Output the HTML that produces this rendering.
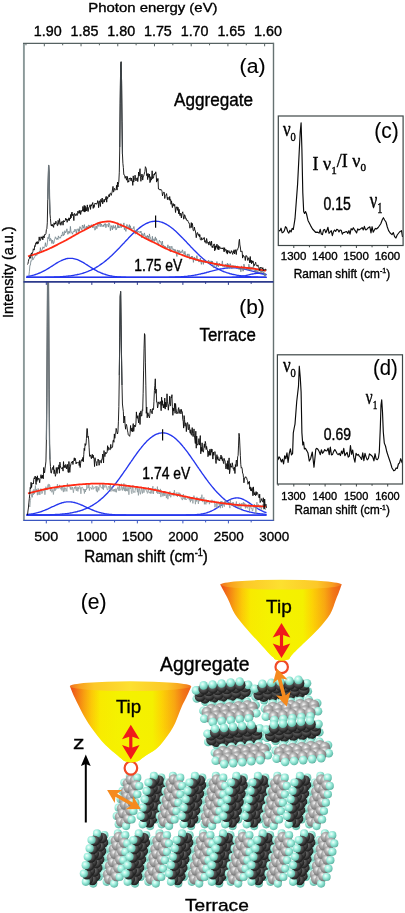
<!DOCTYPE html>
<html><head><meta charset="utf-8"><title>Figure</title>
<style>html,body{margin:0;padding:0;background:#fff;}svg{display:block;}</style></head>
<body><svg width="405" height="913" viewBox="0 0 405 913">
<rect width="405" height="913" fill="#fff"/>
<defs><clipPath id="ca"><rect x="24.4" y="43.5" width="248.9" height="238.2"/></clipPath><clipPath id="cb"><rect x="24.4" y="281.7" width="248.9" height="239.00000000000006"/></clipPath></defs>
<g clip-path="url(#ca)">
<path d="M26.50,277.4 27.50,277.4 28.50,277.4 29.50,277.4 30.50,277.4 31.50,277.4 32.50,277.4 33.50,277.4 34.50,277.4 35.50,277.4 36.50,277.4 37.50,277.4 38.50,277.4 39.50,277.4 40.50,277.4 41.50,277.4 42.50,277.4 43.50,277.4 44.50,277.4 45.50,277.4 46.50,277.4 47.50,277.4 48.50,277.4 49.50,277.4 50.50,277.4 51.50,277.4 52.50,277.4 53.50,277.4 54.50,277.4 55.50,277.4 56.50,277.4 57.50,277.4 58.50,277.4 59.50,277.4 60.50,277.4 61.50,277.4 62.50,277.4 63.50,277.4 64.50,277.4 65.50,277.4 66.50,277.4 67.50,277.4 68.50,277.4 69.50,277.4 70.50,277.4 71.50,277.4 72.50,277.4 73.50,277.4 74.50,277.4 75.50,277.4 76.50,277.4 77.50,277.4 78.50,277.4 79.50,277.4 80.50,277.4 81.50,277.4 82.50,277.4 83.50,277.4 84.50,277.4 85.50,277.4 86.50,277.4 87.50,277.4 88.50,277.4 89.50,277.4 90.50,277.4 91.50,277.4 92.50,277.4 93.50,277.4 94.50,277.4 95.50,277.4 96.50,277.4 97.50,277.4 98.50,277.4 99.50,277.4 100.50,277.4 101.50,277.4 102.50,277.4 103.50,277.4 104.50,277.4 105.50,277.4 106.50,277.4 107.50,277.4 108.50,277.4 109.50,277.4 110.50,277.4 111.50,277.4 112.50,277.4 113.50,277.4 114.50,277.4 115.50,277.4 116.50,277.4 117.50,277.4 118.50,277.4 119.50,277.4 120.50,277.4 121.50,277.4 122.50,277.4 123.50,277.4 124.50,277.4 125.50,277.4 126.50,277.4 127.50,277.4 128.50,277.4 129.50,277.4 130.50,277.4 131.50,277.4 132.50,277.4 133.50,277.4 134.50,277.4 135.50,277.4 136.50,277.4 137.50,277.4 138.50,277.4 139.50,277.4 140.50,277.4 141.50,277.4 142.50,277.4 143.50,277.4 144.50,277.4 145.50,277.4 146.50,277.4 147.50,277.4 148.50,277.4 149.50,277.4 150.50,277.4 151.50,277.4 152.50,277.4 153.50,277.4 154.50,277.4 155.50,277.4 156.50,277.4 157.50,277.4 158.50,277.4 159.50,277.4 160.50,277.4 161.50,277.4 162.50,277.4 163.50,277.4 164.50,277.4 165.50,277.4 166.50,277.4 167.50,277.4 168.50,277.4 169.50,277.4 170.50,277.4 171.50,277.4 172.50,277.4 173.50,277.4 174.50,277.4 175.50,277.4 176.50,277.4 177.50,277.4 178.50,277.4 179.50,277.4 180.50,277.4 181.50,277.4 182.50,277.4 183.50,277.4 184.50,277.4 185.50,277.4 186.50,277.4 187.50,277.4 188.50,277.4 189.50,277.4 190.50,277.4 191.50,277.4 192.50,277.4 193.50,277.4 194.50,277.4 195.50,277.4 196.50,277.4 197.50,277.4 198.50,277.4 199.50,277.4 200.50,277.4 201.50,277.4 202.50,277.4 203.50,277.4 204.50,277.4 205.50,277.4 206.50,277.4 207.50,277.4 208.50,277.4 209.50,277.4 210.50,277.4 211.50,277.4 212.50,277.4 213.50,277.4 214.50,277.4 215.50,277.4 216.50,277.4 217.50,277.4 218.50,277.4 219.50,277.4 220.50,277.4 221.50,277.4 222.50,277.4 223.50,277.4 224.50,277.4 225.50,277.4 226.50,277.4 227.50,277.4 228.50,277.4 229.50,277.4 230.50,277.4 231.50,277.4 232.50,277.4 233.50,277.4 234.50,277.4 235.50,277.4 236.50,277.4 237.50,277.4 238.50,277.4 239.50,277.4 240.50,277.4 241.50,277.4 242.50,277.4 243.50,277.4 244.50,277.4 245.50,277.4 246.50,277.4 247.50,277.4 248.50,277.4 249.50,277.4 250.50,277.4 251.50,277.4 252.50,277.4 253.50,277.4 254.50,277.4 255.50,277.4 256.50,277.4 257.50,277.4 258.50,277.4 259.50,277.4 260.50,277.4 261.50,277.4 262.50,277.4 263.50,277.4 264.50,277.4 265.50,277.4 266.50,277.4" fill="none" stroke="#2436ee" stroke-width="1.4" stroke-linejoin="round" />
<path d="M26.50,276.4 27.50,276.3 28.50,276.1 29.50,276.0 30.50,275.8 31.50,275.6 32.50,275.3 33.50,275.1 34.50,274.8 35.50,274.5 36.50,274.2 37.50,273.8 38.50,273.4 39.50,273.0 40.50,272.6 41.50,272.1 42.50,271.7 43.50,271.1 44.50,270.6 45.50,270.1 46.50,269.5 47.50,268.9 48.50,268.3 49.50,267.7 50.50,267.0 51.50,266.4 52.50,265.8 53.50,265.1 54.50,264.5 55.50,263.8 56.50,263.2 57.50,262.6 58.50,262.0 59.50,261.5 60.50,261.0 61.50,260.5 62.50,260.1 63.50,259.7 64.50,259.3 65.50,259.0 66.50,258.7 67.50,258.5 68.50,258.4 69.50,258.3 70.50,258.3 71.50,258.3 72.50,258.4 73.50,258.6 74.50,258.8 75.50,259.1 76.50,259.4 77.50,259.7 78.50,260.1 79.50,260.6 80.50,261.1 81.50,261.6 82.50,262.2 83.50,262.7 84.50,263.3 85.50,264.0 86.50,264.6 87.50,265.2 88.50,265.9 89.50,266.5 90.50,267.2 91.50,267.8 92.50,268.4 93.50,269.0 94.50,269.6 95.50,270.2 96.50,270.7 97.50,271.3 98.50,271.8 99.50,272.2 100.50,272.7 101.50,273.1 102.50,273.5 103.50,273.9 104.50,274.2 105.50,274.5 106.50,274.8 107.50,275.1 108.50,275.4 109.50,275.6 110.50,275.8 111.50,276.0 112.50,276.2 113.50,276.3 114.50,276.5 115.50,276.6 116.50,276.7 117.50,276.8 118.50,276.9 119.50,276.9 120.50,277.0 121.50,277.1 122.50,277.1 123.50,277.2 124.50,277.2 125.50,277.2 126.50,277.3 127.50,277.3 128.50,277.3 129.50,277.3 130.50,277.3 131.50,277.3 132.50,277.4 133.50,277.4 134.50,277.4 135.50,277.4 136.50,277.4 137.50,277.4 138.50,277.4 139.50,277.4 140.50,277.4 141.50,277.4 142.50,277.4 143.50,277.4 144.50,277.4 145.50,277.4 146.50,277.4 147.50,277.4 148.50,277.4 149.50,277.4 150.50,277.4 151.50,277.4 152.50,277.4 153.50,277.4 154.50,277.4 155.50,277.4 156.50,277.4 157.50,277.4 158.50,277.4 159.50,277.4 160.50,277.4 161.50,277.4 162.50,277.4 163.50,277.4 164.50,277.4 165.50,277.4 166.50,277.4 167.50,277.4 168.50,277.4 169.50,277.4 170.50,277.4 171.50,277.4 172.50,277.4 173.50,277.4 174.50,277.4 175.50,277.4 176.50,277.4 177.50,277.4 178.50,277.4 179.50,277.4 180.50,277.4 181.50,277.4 182.50,277.4 183.50,277.4 184.50,277.4 185.50,277.4 186.50,277.4 187.50,277.4 188.50,277.4 189.50,277.4 190.50,277.4 191.50,277.4 192.50,277.4 193.50,277.4 194.50,277.4 195.50,277.4 196.50,277.4 197.50,277.4 198.50,277.4 199.50,277.4 200.50,277.4 201.50,277.4 202.50,277.4 203.50,277.4 204.50,277.4 205.50,277.4 206.50,277.4 207.50,277.4 208.50,277.4 209.50,277.4 210.50,277.4 211.50,277.4 212.50,277.4 213.50,277.4 214.50,277.4 215.50,277.4 216.50,277.4 217.50,277.4 218.50,277.4 219.50,277.4 220.50,277.4 221.50,277.4 222.50,277.4 223.50,277.4 224.50,277.4 225.50,277.4 226.50,277.4 227.50,277.4 228.50,277.4 229.50,277.4 230.50,277.4 231.50,277.4 232.50,277.4 233.50,277.4 234.50,277.4 235.50,277.4 236.50,277.4 237.50,277.4 238.50,277.4 239.50,277.4 240.50,277.4 241.50,277.4 242.50,277.4 243.50,277.4 244.50,277.4 245.50,277.4 246.50,277.4 247.50,277.4 248.50,277.4 249.50,277.4 250.50,277.4 251.50,277.4 252.50,277.4 253.50,277.4 254.50,277.4 255.50,277.4 256.50,277.4 257.50,277.4 258.50,277.4 259.50,277.4 260.50,277.4 261.50,277.4 262.50,277.4 263.50,277.4 264.50,277.4 265.50,277.4 266.50,277.4" fill="none" stroke="#2436ee" stroke-width="1.35" stroke-linejoin="round" />
<path d="M26.50,277.4 27.50,277.4 28.50,277.4 29.50,277.4 30.50,277.4 31.50,277.4 32.50,277.4 33.50,277.4 34.50,277.4 35.50,277.4 36.50,277.3 37.50,277.3 38.50,277.3 39.50,277.3 40.50,277.3 41.50,277.3 42.50,277.3 43.50,277.3 44.50,277.3 45.50,277.2 46.50,277.2 47.50,277.2 48.50,277.2 49.50,277.2 50.50,277.1 51.50,277.1 52.50,277.1 53.50,277.1 54.50,277.0 55.50,277.0 56.50,276.9 57.50,276.9 58.50,276.8 59.50,276.8 60.50,276.7 61.50,276.7 62.50,276.6 63.50,276.5 64.50,276.4 65.50,276.3 66.50,276.2 67.50,276.1 68.50,276.0 69.50,275.9 70.50,275.8 71.50,275.6 72.50,275.5 73.50,275.3 74.50,275.1 75.50,274.9 76.50,274.8 77.50,274.5 78.50,274.3 79.50,274.1 80.50,273.8 81.50,273.6 82.50,273.3 83.50,273.0 84.50,272.6 85.50,272.3 86.50,271.9 87.50,271.6 88.50,271.2 89.50,270.7 90.50,270.3 91.50,269.8 92.50,269.4 93.50,268.9 94.50,268.3 95.50,267.8 96.50,267.2 97.50,266.6 98.50,266.0 99.50,265.3 100.50,264.6 101.50,263.9 102.50,263.2 103.50,262.5 104.50,261.7 105.50,260.9 106.50,260.1 107.50,259.2 108.50,258.4 109.50,257.5 110.50,256.6 111.50,255.7 112.50,254.7 113.50,253.7 114.50,252.8 115.50,251.8 116.50,250.8 117.50,249.7 118.50,248.7 119.50,247.7 120.50,246.6 121.50,245.5 122.50,244.5 123.50,243.4 124.50,242.4 125.50,241.3 126.50,240.2 127.50,239.2 128.50,238.1 129.50,237.1 130.50,236.1 131.50,235.1 132.50,234.1 133.50,233.1 134.50,232.2 135.50,231.3 136.50,230.4 137.50,229.5 138.50,228.7 139.50,227.9 140.50,227.1 141.50,226.4 142.50,225.7 143.50,225.1 144.50,224.5 145.50,223.9 146.50,223.4 147.50,223.0 148.50,222.6 149.50,222.2 150.50,221.9 151.50,221.7 152.50,221.5 153.50,221.3 154.50,221.2 155.50,221.2 156.50,221.2 157.50,221.3 158.50,221.4 159.50,221.6 160.50,221.9 161.50,222.1 162.50,222.5 163.50,222.9 164.50,223.3 165.50,223.8 166.50,224.4 167.50,225.0 168.50,225.6 169.50,226.3 170.50,227.0 171.50,227.7 172.50,228.5 173.50,229.3 174.50,230.2 175.50,231.1 176.50,232.0 177.50,232.9 178.50,233.9 179.50,234.9 180.50,235.9 181.50,236.9 182.50,237.9 183.50,239.0 184.50,240.0 185.50,241.1 186.50,242.1 187.50,243.2 188.50,244.3 189.50,245.3 190.50,246.4 191.50,247.4 192.50,248.5 193.50,249.5 194.50,250.6 195.50,251.6 196.50,252.6 197.50,253.6 198.50,254.5 199.50,255.5 200.50,256.4 201.50,257.3 202.50,258.2 203.50,259.1 204.50,259.9 205.50,260.7 206.50,261.5 207.50,262.3 208.50,263.1 209.50,263.8 210.50,264.5 211.50,265.2 212.50,265.8 213.50,266.5 214.50,267.1 215.50,267.7 216.50,268.2 217.50,268.7 218.50,269.3 219.50,269.7 220.50,270.2 221.50,270.7 222.50,271.1 223.50,271.5 224.50,271.9 225.50,272.2 226.50,272.6 227.50,272.9 228.50,273.2 229.50,273.5 230.50,273.8 231.50,274.0 232.50,274.3 233.50,274.5 234.50,274.7 235.50,274.9 236.50,275.1 237.50,275.3 238.50,275.4 239.50,275.6 240.50,275.7 241.50,275.9 242.50,276.0 243.50,276.1 244.50,276.2 245.50,276.3 246.50,276.4 247.50,276.5 248.50,276.6 249.50,276.6 250.50,276.7 251.50,276.8 252.50,276.8 253.50,276.9 254.50,276.9 255.50,277.0 256.50,277.0 257.50,277.0 258.50,277.1 259.50,277.1 260.50,277.1 261.50,277.2 262.50,277.2 263.50,277.2 264.50,277.2 265.50,277.2 266.50,277.3" fill="none" stroke="#2436ee" stroke-width="1.35" stroke-linejoin="round" />
<path d="M26.50,277.4 27.50,277.4 28.50,277.4 29.50,277.4 30.50,277.4 31.50,277.4 32.50,277.4 33.50,277.4 34.50,277.4 35.50,277.4 36.50,277.4 37.50,277.4 38.50,277.4 39.50,277.4 40.50,277.4 41.50,277.4 42.50,277.4 43.50,277.4 44.50,277.4 45.50,277.4 46.50,277.4 47.50,277.4 48.50,277.4 49.50,277.4 50.50,277.4 51.50,277.4 52.50,277.4 53.50,277.4 54.50,277.4 55.50,277.4 56.50,277.4 57.50,277.4 58.50,277.4 59.50,277.4 60.50,277.4 61.50,277.4 62.50,277.4 63.50,277.4 64.50,277.4 65.50,277.4 66.50,277.4 67.50,277.4 68.50,277.4 69.50,277.4 70.50,277.4 71.50,277.4 72.50,277.4 73.50,277.4 74.50,277.4 75.50,277.4 76.50,277.4 77.50,277.4 78.50,277.4 79.50,277.4 80.50,277.4 81.50,277.4 82.50,277.4 83.50,277.4 84.50,277.4 85.50,277.4 86.50,277.4 87.50,277.4 88.50,277.4 89.50,277.4 90.50,277.4 91.50,277.4 92.50,277.4 93.50,277.4 94.50,277.4 95.50,277.4 96.50,277.4 97.50,277.4 98.50,277.4 99.50,277.4 100.50,277.4 101.50,277.4 102.50,277.4 103.50,277.4 104.50,277.4 105.50,277.4 106.50,277.4 107.50,277.4 108.50,277.4 109.50,277.4 110.50,277.4 111.50,277.4 112.50,277.4 113.50,277.4 114.50,277.4 115.50,277.4 116.50,277.4 117.50,277.4 118.50,277.4 119.50,277.4 120.50,277.4 121.50,277.4 122.50,277.4 123.50,277.4 124.50,277.4 125.50,277.4 126.50,277.4 127.50,277.4 128.50,277.4 129.50,277.4 130.50,277.4 131.50,277.4 132.50,277.4 133.50,277.4 134.50,277.4 135.50,277.4 136.50,277.4 137.50,277.4 138.50,277.4 139.50,277.4 140.50,277.4 141.50,277.4 142.50,277.4 143.50,277.4 144.50,277.4 145.50,277.4 146.50,277.4 147.50,277.4 148.50,277.4 149.50,277.4 150.50,277.4 151.50,277.4 152.50,277.4 153.50,277.4 154.50,277.4 155.50,277.4 156.50,277.4 157.50,277.4 158.50,277.4 159.50,277.4 160.50,277.4 161.50,277.3 162.50,277.3 163.50,277.3 164.50,277.3 165.50,277.3 166.50,277.3 167.50,277.3 168.50,277.3 169.50,277.2 170.50,277.2 171.50,277.2 172.50,277.2 173.50,277.1 174.50,277.1 175.50,277.0 176.50,277.0 177.50,277.0 178.50,276.9 179.50,276.8 180.50,276.8 181.50,276.7 182.50,276.6 183.50,276.6 184.50,276.5 185.50,276.4 186.50,276.3 187.50,276.2 188.50,276.0 189.50,275.9 190.50,275.8 191.50,275.6 192.50,275.5 193.50,275.3 194.50,275.2 195.50,275.0 196.50,274.8 197.50,274.6 198.50,274.4 199.50,274.2 200.50,274.0 201.50,273.7 202.50,273.5 203.50,273.3 204.50,273.0 205.50,272.8 206.50,272.5 207.50,272.2 208.50,272.0 209.50,271.7 210.50,271.4 211.50,271.2 212.50,270.9 213.50,270.7 214.50,270.4 215.50,270.2 216.50,269.9 217.50,269.7 218.50,269.4 219.50,269.2 220.50,269.0 221.50,268.8 222.50,268.7 223.50,268.5 224.50,268.3 225.50,268.2 226.50,268.1 227.50,268.0 228.50,267.9 229.50,267.9 230.50,267.8 231.50,267.8 232.50,267.8 233.50,267.8 234.50,267.9 235.50,267.9 236.50,268.0 237.50,268.1 238.50,268.2 239.50,268.3 240.50,268.5 241.50,268.7 242.50,268.8 243.50,269.0 244.50,269.2 245.50,269.4 246.50,269.7 247.50,269.9 248.50,270.2 249.50,270.4 250.50,270.7 251.50,270.9 252.50,271.2 253.50,271.4 254.50,271.7 255.50,272.0 256.50,272.2 257.50,272.5 258.50,272.8 259.50,273.0 260.50,273.3 261.50,273.5 262.50,273.7 263.50,274.0 264.50,274.2 265.50,274.4 266.50,274.6" fill="none" stroke="#2436ee" stroke-width="1.35" stroke-linejoin="round" />
<path d="M26.50,277.4 27.50,277.4 28.50,277.4 29.50,277.4 30.50,277.4 31.50,277.4 32.50,277.4 33.50,277.4 34.50,277.4 35.50,277.4 36.50,277.4 37.50,277.4 38.50,277.4 39.50,277.4 40.50,277.4 41.50,277.4 42.50,277.4 43.50,277.4 44.50,277.4 45.50,277.4 46.50,277.4 47.50,277.4 48.50,277.4 49.50,277.4 50.50,277.4 51.50,277.4 52.50,277.4 53.50,277.4 54.50,277.4 55.50,277.4 56.50,277.4 57.50,277.4 58.50,277.4 59.50,277.4 60.50,277.4 61.50,277.4 62.50,277.4 63.50,277.4 64.50,277.4 65.50,277.4 66.50,277.4 67.50,277.4 68.50,277.4 69.50,277.4 70.50,277.4 71.50,277.4 72.50,277.4 73.50,277.4 74.50,277.4 75.50,277.4 76.50,277.4 77.50,277.4 78.50,277.4 79.50,277.4 80.50,277.4 81.50,277.4 82.50,277.4 83.50,277.4 84.50,277.4 85.50,277.4 86.50,277.4 87.50,277.4 88.50,277.4 89.50,277.4 90.50,277.4 91.50,277.4 92.50,277.4 93.50,277.4 94.50,277.4 95.50,277.4 96.50,277.4 97.50,277.4 98.50,277.4 99.50,277.4 100.50,277.4 101.50,277.4 102.50,277.4 103.50,277.4 104.50,277.4 105.50,277.4 106.50,277.4 107.50,277.4 108.50,277.4 109.50,277.4 110.50,277.4 111.50,277.4 112.50,277.4 113.50,277.4 114.50,277.4 115.50,277.4 116.50,277.4 117.50,277.4 118.50,277.4 119.50,277.4 120.50,277.4 121.50,277.4 122.50,277.4 123.50,277.4 124.50,277.4 125.50,277.4 126.50,277.4 127.50,277.4 128.50,277.4 129.50,277.4 130.50,277.4 131.50,277.4 132.50,277.4 133.50,277.4 134.50,277.4 135.50,277.4 136.50,277.4 137.50,277.4 138.50,277.4 139.50,277.4 140.50,277.4 141.50,277.4 142.50,277.4 143.50,277.4 144.50,277.4 145.50,277.4 146.50,277.4 147.50,277.4 148.50,277.4 149.50,277.4 150.50,277.4 151.50,277.4 152.50,277.4 153.50,277.4 154.50,277.4 155.50,277.4 156.50,277.4 157.50,277.4 158.50,277.4 159.50,277.4 160.50,277.4 161.50,277.4 162.50,277.4 163.50,277.4 164.50,277.4 165.50,277.4 166.50,277.4 167.50,277.4 168.50,277.4 169.50,277.4 170.50,277.4 171.50,277.4 172.50,277.4 173.50,277.4 174.50,277.4 175.50,277.4 176.50,277.4 177.50,277.4 178.50,277.4 179.50,277.4 180.50,277.4 181.50,277.4 182.50,277.4 183.50,277.4 184.50,277.4 185.50,277.4 186.50,277.4 187.50,277.4 188.50,277.4 189.50,277.4 190.50,277.4 191.50,277.4 192.50,277.4 193.50,277.4 194.50,277.4 195.50,277.4 196.50,277.4 197.50,277.4 198.50,277.4 199.50,277.4 200.50,277.4 201.50,277.4 202.50,277.4 203.50,277.4 204.50,277.4 205.50,277.4 206.50,277.4 207.50,277.4 208.50,277.4 209.50,277.4 210.50,277.4 211.50,277.4 212.50,277.4 213.50,277.4 214.50,277.4 215.50,277.4 216.50,277.4 217.50,277.4 218.50,277.4 219.50,277.4 220.50,277.4 221.50,277.4 222.50,277.4 223.50,277.4 224.50,277.4 225.50,277.4 226.50,277.4 227.50,277.4 228.50,277.3 229.50,277.3 230.50,277.3 231.50,277.3 232.50,277.2 233.50,277.2 234.50,277.1 235.50,277.1 236.50,277.0 237.50,276.9 238.50,276.8 239.50,276.7 240.50,276.5 241.50,276.4 242.50,276.2 243.50,276.0 244.50,275.8 245.50,275.6 246.50,275.3 247.50,275.1 248.50,274.9 249.50,274.6 250.50,274.4 251.50,274.2 252.50,274.0 253.50,273.8 254.50,273.6 255.50,273.5 256.50,273.4 257.50,273.4 258.50,273.4 259.50,273.4 260.50,273.5 261.50,273.6 262.50,273.8 263.50,274.0 264.50,274.2 265.50,274.4 266.50,274.6" fill="none" stroke="#2436ee" stroke-width="1.35" stroke-linejoin="round" />
<path d="M28.90,275.4 29.40,271.3 29.90,265.3 30.40,265.2 30.90,260.6 31.40,260.9 31.90,260.5 32.40,256.3 32.90,259.8 33.40,259.3 33.90,258.1 34.40,257.1 34.90,256.7 35.40,255.0 35.90,255.8 36.40,254.6 36.90,255.2 37.40,252.1 37.90,254.2 38.40,253.4 38.90,252.3 39.40,251.1 39.90,252.4 40.40,247.6 40.90,251.1 41.40,250.1 41.90,249.6 42.40,249.3 42.90,246.8 43.40,247.1 43.90,248.3 44.40,247.4 44.90,246.5 45.40,242.7 45.90,246.1 46.40,246.7 46.90,245.5 47.40,242.8 47.90,237.3 48.40,238.7 48.90,235.7 49.40,233.9 49.90,241.1 50.40,238.3 50.90,238.8 51.40,240.1 51.90,243.5 52.40,240.2 52.90,241.2 53.40,243.7 53.90,243.1 54.40,239.6 54.90,239.1 55.40,236.8 55.90,237.6 56.40,239.4 56.90,239.1 57.40,238.2 57.90,239.6 58.40,235.9 58.90,237.0 59.40,238.2 59.90,237.6 60.40,238.2 60.90,236.7 61.40,235.1 61.90,236.1 62.40,233.2 62.90,231.8 63.40,235.7 63.90,234.3 64.40,234.7 64.90,230.7 65.40,233.0 65.90,232.3 66.40,231.6 66.90,228.8 67.40,232.2 67.90,234.3 68.40,233.2 68.90,231.1 69.40,232.0 69.90,233.3 70.40,226.4 70.90,231.2 71.40,232.3 71.90,232.4 72.40,234.2 72.90,232.9 73.40,231.2 73.90,231.0 74.40,231.7 74.90,229.1 75.40,229.8 75.90,231.5 76.40,233.3 76.90,229.1 77.40,229.1 77.90,229.5 78.40,231.5 78.90,228.7 79.40,231.4 79.90,226.6 80.40,228.0 80.90,227.8 81.40,229.6 81.90,230.0 82.40,225.0 82.90,226.0 83.40,228.3 83.90,226.3 84.40,224.6 84.90,229.4 85.40,228.3 85.90,228.2 86.40,226.3 86.90,229.0 87.40,226.6 87.90,229.0 88.40,225.1 88.90,225.2 89.40,227.1 89.90,225.3 90.40,227.8 90.90,227.0 91.40,224.7 91.90,226.5 92.40,225.6 92.90,228.0 93.40,224.9 93.90,225.3 94.40,228.3 94.90,230.2 95.40,229.7 95.90,226.0 96.40,226.2 96.90,228.7 97.40,225.5 97.90,223.8 98.40,225.9 98.90,226.5 99.40,224.0 99.90,222.4 100.40,222.8 100.90,226.8 101.40,224.1 101.90,225.2 102.40,225.9 102.90,226.7 103.40,224.9 103.90,226.5 104.40,223.8 104.90,224.8 105.40,223.6 105.90,227.7 106.40,225.6 106.90,224.2 107.40,225.0 107.90,225.3 108.40,227.1 108.90,222.7 109.40,223.8 109.90,225.1 110.40,230.7 110.90,227.7 111.40,225.7 111.90,227.3 112.40,229.9 112.90,225.6 113.40,225.4 113.90,228.4 114.40,227.1 114.90,227.5 115.40,225.3 115.90,230.0 116.40,229.6 116.90,227.5 117.40,227.8 117.90,222.7 118.40,227.8 118.90,226.2 119.40,227.5 119.90,228.0 120.40,226.1 120.90,223.6 121.40,227.6 121.90,225.6 122.40,226.4 122.90,226.0 123.40,226.6 123.90,222.9 124.40,229.7 124.90,227.9 125.40,229.7 125.90,231.4 126.40,227.8 126.90,224.4 127.40,226.3 127.90,225.8 128.40,227.2 128.90,228.4 129.40,224.6 129.90,229.2 130.40,225.8 130.90,229.4 131.40,228.7 131.90,228.5 132.40,229.1 132.90,228.4 133.40,228.4 133.90,226.5 134.40,229.8 134.90,233.6 135.40,234.0 135.90,233.0 136.40,232.1 136.90,229.7 137.40,233.9 137.90,231.4 138.40,231.6 138.90,231.4 139.40,232.4 139.90,231.7 140.40,232.7 140.90,231.0 141.40,232.7 141.90,238.0 142.40,233.8 142.90,233.7 143.40,235.5 143.90,236.1 144.40,232.9 144.90,234.9 145.40,237.3 145.90,236.3 146.40,236.3 146.90,239.3 147.40,235.3 147.90,237.0 148.40,236.1 148.90,240.2 149.40,233.9 149.90,236.6 150.40,237.2 150.90,239.7 151.40,239.9 151.90,241.6 152.40,236.3 152.90,241.0 153.40,239.3 153.90,238.8 154.40,241.4 154.90,238.9 155.40,236.9 155.90,240.5 156.40,238.6 156.90,240.5 157.40,242.7 157.90,242.9 158.40,245.6 158.90,242.4 159.40,240.2 159.90,241.9 160.40,241.9 160.90,241.6 161.40,245.0 161.90,243.3 162.40,241.0 162.90,246.3 163.40,245.1 163.90,246.2 164.40,246.0 164.90,247.3 165.40,246.4 165.90,248.9 166.40,247.7 166.90,247.8 167.40,248.1 167.90,244.8 168.40,247.5 168.90,247.6 169.40,248.7 169.90,246.0 170.40,251.9 170.90,249.2 171.40,246.9 171.90,246.2 172.40,249.2 172.90,249.7 173.40,248.8 173.90,250.5 174.40,249.4 174.90,251.8 175.40,249.6 175.90,251.1 176.40,253.3 176.90,256.5 177.40,249.9 177.90,251.2 178.40,250.6 178.90,253.9 179.40,250.5 179.90,251.9 180.40,253.0 180.90,251.4 181.40,251.6 181.90,252.7 182.40,249.8 182.90,251.2 183.40,253.4 183.90,254.6 184.40,254.2 184.90,251.3 185.40,254.0 185.90,256.6 186.40,256.3 186.90,255.3 187.40,253.9 187.90,257.0 188.40,254.8 188.90,253.9 189.40,254.8 189.90,259.2 190.40,257.1 190.90,259.0 191.40,256.1 191.90,258.9 192.40,256.2 192.90,257.2 193.40,262.4 193.90,259.3 194.40,257.1 194.90,258.1 195.40,259.0 195.90,260.9 196.40,257.8 196.90,255.6 197.40,258.5 197.90,259.3 198.40,259.6 198.90,262.1 199.40,260.4 199.90,261.5 200.40,258.0 200.90,261.9 201.40,264.4 201.90,262.0 202.40,261.2 202.90,261.1 203.40,264.4 203.90,259.4 204.40,261.1 204.90,262.3 205.40,263.0 205.90,260.9 206.40,262.4 206.90,261.4 207.40,262.3 207.90,261.9 208.40,260.1 208.90,262.3 209.40,264.2 209.90,260.8 210.40,262.3 210.90,264.1 211.40,260.9 211.90,263.4 212.40,261.1 212.90,265.4 213.40,267.7 213.90,267.3 214.40,263.1 214.90,265.0 215.40,263.9 215.90,264.0 216.40,266.8 216.90,261.5 217.40,266.1 217.90,264.1 218.40,266.9 218.90,264.7 219.40,263.1 219.90,265.0 220.40,266.0 220.90,264.7 221.40,265.7 221.90,263.8 222.40,260.9 222.90,266.7 223.40,266.4 223.90,265.4 224.40,265.4 224.90,267.3 225.40,264.5 225.90,264.1 226.40,265.2 226.90,267.9 227.40,263.1 227.90,268.0 228.40,264.6 228.90,263.8 229.40,268.4 229.90,265.9 230.40,263.7 230.90,265.5 231.40,268.1 231.90,268.6 232.40,265.6 232.90,267.3 233.40,267.9 233.90,265.4 234.40,267.4 234.90,266.7 235.40,265.8 235.90,265.9 236.40,267.1 236.90,267.0 237.40,266.0 237.90,266.3 238.40,269.3 238.90,267.6 239.40,269.0 239.90,269.6 240.40,268.5 240.90,271.8 241.40,265.9 241.90,269.1 242.40,267.0 242.90,271.2 243.40,271.0 243.90,264.1 244.40,266.0 244.90,269.2 245.40,269.5 245.90,269.5 246.40,268.0 246.90,269.1 247.40,269.5 247.90,268.2 248.40,270.4 248.90,264.2 249.40,269.8 249.90,266.7 250.40,270.6 250.90,268.4 251.40,267.3 251.90,269.7 252.40,267.4 252.90,267.5 253.40,266.4 253.90,269.4 254.40,270.5 254.90,271.6 255.40,269.5 255.90,271.9 256.40,270.1 256.90,270.0 257.40,271.4 257.90,272.5 258.40,269.9 258.90,270.3 259.40,270.6 259.90,271.2 260.40,269.5 260.90,273.3 261.40,270.7 261.90,272.5 262.40,270.2 262.90,272.6 263.40,272.9 263.90,271.5 264.40,276.3 264.90,273.3 265.40,276.1 265.90,274.8" fill="none" stroke="#6f8088" stroke-width="0.8" stroke-linejoin="round" />
<path d="M28.00,256.3 29.00,256.0 30.00,255.7 31.00,255.4 32.00,255.1 33.00,254.8 34.00,254.5 35.00,254.2 36.00,253.9 37.00,253.5 38.00,253.2 39.00,252.8 40.00,252.4 41.00,252.1 42.00,251.7 43.00,251.3 44.00,250.9 45.00,250.5 46.00,250.1 47.00,249.7 48.00,249.2 49.00,248.8 50.00,248.3 51.00,247.8 52.00,247.4 53.00,246.9 54.00,246.4 55.00,245.9 56.00,245.4 57.00,244.9 58.00,244.3 59.00,243.8 60.00,243.3 61.00,242.8 62.00,242.3 63.00,241.8 64.00,241.2 65.00,240.7 66.00,240.2 67.00,239.6 68.00,239.1 69.00,238.5 70.00,237.9 71.00,237.4 72.00,236.8 73.00,236.2 74.00,235.6 75.00,235.1 76.00,234.5 77.00,233.9 78.00,233.4 79.00,232.8 80.00,232.3 81.00,231.8 82.00,231.2 83.00,230.7 84.00,230.3 85.00,229.7 86.00,229.2 87.00,228.7 88.00,228.1 89.00,227.6 90.00,227.0 91.00,226.5 92.00,226.0 93.00,225.4 94.00,224.9 95.00,224.5 96.00,224.0 97.00,223.6 98.00,223.2 99.00,222.8 100.00,222.5 101.00,222.3 102.00,222.1 103.00,221.9 104.00,221.8 105.00,221.7 106.00,221.6 107.00,221.5 108.00,221.4 109.00,221.4 110.00,221.4 111.00,221.6 112.00,221.8 113.00,222.0 114.00,222.3 115.00,222.7 116.00,223.0 117.00,223.4 118.00,223.8 119.00,224.3 120.00,224.7 121.00,225.1 122.00,225.5 123.00,225.9 124.00,226.3 125.00,226.8 126.00,227.3 127.00,227.8 128.00,228.3 129.00,228.8 130.00,229.3 131.00,229.8 132.00,230.4 133.00,230.9 134.00,231.5 135.00,232.1 136.00,232.7 137.00,233.3 138.00,233.9 139.00,234.5 140.00,235.2 141.00,235.8 142.00,236.4 143.00,237.0 144.00,237.6 145.00,238.1 146.00,238.6 147.00,239.2 148.00,239.6 149.00,240.1 150.00,240.6 151.00,241.1 152.00,241.6 153.00,242.0 154.00,242.5 155.00,243.0 156.00,243.5 157.00,244.0 158.00,244.5 159.00,245.0 160.00,245.6 161.00,246.1 162.00,246.6 163.00,247.1 164.00,247.6 165.00,248.1 166.00,248.6 167.00,249.0 168.00,249.5 169.00,249.9 170.00,250.3 171.00,250.7 172.00,251.1 173.00,251.5 174.00,251.9 175.00,252.2 176.00,252.6 177.00,253.0 178.00,253.4 179.00,253.8 180.00,254.2 181.00,254.5 182.00,254.9 183.00,255.3 184.00,255.7 185.00,256.1 186.00,256.5 187.00,256.8 188.00,257.2 189.00,257.5 190.00,257.8 191.00,258.1 192.00,258.4 193.00,258.7 194.00,259.0 195.00,259.2 196.00,259.5 197.00,259.8 198.00,260.0 199.00,260.3 200.00,260.5 201.00,260.8 202.00,261.0 203.00,261.3 204.00,261.5 205.00,261.7 206.00,261.9 207.00,262.2 208.00,262.4 209.00,262.6 210.00,262.8 211.00,263.0 212.00,263.2 213.00,263.4 214.00,263.6 215.00,263.8 216.00,264.0 217.00,264.2 218.00,264.4 219.00,264.6 220.00,264.7 221.00,264.9 222.00,265.1 223.00,265.3 224.00,265.4 225.00,265.6 226.00,265.7 227.00,265.9 228.00,266.0 229.00,266.1 230.00,266.3 231.00,266.4 232.00,266.5 233.00,266.6 234.00,266.7 235.00,266.8 236.00,266.9 237.00,267.0 238.00,267.1 239.00,267.2 240.00,267.3 241.00,267.3 242.00,267.4 243.00,267.5 244.00,267.6 245.00,267.7 246.00,267.8 247.00,267.9 248.00,268.0 249.00,268.1 250.00,268.2 251.00,268.3 252.00,268.4 253.00,268.6 254.00,268.7 255.00,268.8 256.00,269.0 257.00,269.1 258.00,269.3 259.00,269.5 260.00,269.6 261.00,269.8 262.00,270.0 263.00,270.1 264.00,270.3 265.00,270.5 266.00,270.7" fill="none" stroke="#ff2a14" stroke-width="1.8" stroke-linejoin="round" />
<path d="M27.50,264.5 27.95,263.7 28.40,261.5 28.85,259.2 29.30,258.7 29.75,256.6 30.20,257.2 30.65,258.3 31.10,254.2 31.55,252.9 32.00,253.9 32.45,252.8 32.90,251.5 33.35,248.8 33.80,249.6 34.25,250.1 34.70,245.7 35.15,246.5 35.60,243.2 36.05,243.6 36.50,241.9 36.95,244.2 37.40,241.6 37.85,243.9 38.30,243.1 38.75,241.9 39.20,236.9 39.65,240.2 40.10,240.6 40.55,240.4 41.00,236.8 41.45,238.3 41.90,236.9 42.35,236.8 42.80,239.9 43.25,235.8 43.70,236.8 44.15,238.0 44.60,234.5 45.05,234.8 45.50,234.6 45.95,233.6 46.40,229.6 46.85,228.8 47.30,222.8 47.75,199.5 48.20,181.4 48.65,165.3 49.10,172.0 49.55,198.7 50.00,213.8 50.45,218.6 50.90,224.3 51.35,226.0 51.80,224.4 52.25,226.2 52.70,224.5 53.15,225.9 53.60,227.4 54.05,222.8 54.50,224.5 54.95,223.0 55.40,224.1 55.85,221.2 56.30,222.4 56.75,223.1 57.20,225.4 57.65,225.8 58.10,220.4 58.55,221.4 59.00,224.4 59.45,218.6 59.90,221.8 60.35,222.5 60.80,225.3 61.25,224.0 61.70,221.6 62.15,221.4 62.60,221.5 63.05,225.2 63.50,220.7 63.95,220.8 64.40,222.0 64.85,220.8 65.30,220.3 65.75,218.1 66.20,220.2 66.65,219.0 67.10,222.3 67.55,220.9 68.00,219.1 68.45,220.3 68.90,217.8 69.35,220.6 69.80,218.0 70.25,219.0 70.70,214.5 71.15,217.9 71.60,213.0 72.05,212.0 72.50,215.6 72.95,214.0 73.40,216.1 73.85,220.6 74.30,213.4 74.75,213.6 75.20,215.3 75.65,215.7 76.10,214.0 76.55,213.7 77.00,215.6 77.45,214.9 77.90,211.1 78.35,213.1 78.80,213.2 79.25,210.4 79.70,213.3 80.15,210.5 80.60,214.5 81.05,212.5 81.50,212.0 81.95,210.2 82.40,211.1 82.85,206.5 83.30,208.2 83.75,211.5 84.20,205.4 84.65,212.1 85.10,205.8 85.55,211.4 86.00,207.4 86.45,210.9 86.90,209.1 87.35,204.9 87.80,211.3 88.25,211.4 88.70,207.6 89.15,206.9 89.60,206.9 90.05,204.7 90.50,209.4 90.95,205.2 91.40,206.1 91.85,204.1 92.30,204.3 92.75,202.5 93.20,208.4 93.65,204.9 94.10,207.4 94.55,204.9 95.00,203.1 95.45,203.8 95.90,203.1 96.35,204.3 96.80,203.3 97.25,203.3 97.70,200.6 98.15,201.8 98.60,207.7 99.05,201.9 99.50,200.8 99.95,204.0 100.40,206.5 100.85,199.3 101.30,202.2 101.75,201.0 102.20,198.0 102.65,203.9 103.10,201.8 103.55,201.8 104.00,199.4 104.45,202.1 104.90,199.2 105.35,199.8 105.80,197.0 106.25,196.3 106.70,202.2 107.15,197.1 107.60,198.6 108.05,197.2 108.50,195.5 108.95,194.6 109.40,196.8 109.85,193.7 110.30,193.4 110.75,193.1 111.20,195.4 111.65,193.5 112.10,192.1 112.55,189.0 113.00,186.4 113.45,192.0 113.90,191.6 114.35,188.3 114.80,189.6 115.25,189.9 115.70,189.6 116.15,189.4 116.60,185.3 117.05,190.1 117.50,182.1 117.95,187.0 118.40,184.4 118.85,181.1 119.30,172.2 119.75,147.0 120.20,103.3 120.65,66.0 121.10,61.9 121.55,81.0 122.00,121.3 122.45,154.0 122.90,163.4 123.35,167.5 123.80,174.6 124.25,174.7 124.70,175.8 125.15,178.3 125.60,177.1 126.05,176.1 126.50,180.2 126.95,178.2 127.40,176.5 127.85,182.4 128.30,180.8 128.75,182.0 129.20,178.1 129.65,178.9 130.10,177.8 130.55,178.0 131.00,180.9 131.45,178.1 131.90,181.1 132.35,180.9 132.80,185.4 133.25,175.9 133.70,182.1 134.15,179.2 134.60,179.3 135.05,175.2 135.50,177.8 135.95,181.0 136.40,178.6 136.85,178.9 137.30,177.7 137.75,181.6 138.20,178.2 138.65,172.0 139.10,176.1 139.55,172.4 140.00,168.7 140.45,176.2 140.90,181.3 141.35,177.6 141.80,174.0 142.25,174.5 142.70,180.1 143.15,177.0 143.60,176.1 144.05,174.7 144.50,173.0 144.95,171.4 145.40,166.7 145.85,167.7 146.30,168.6 146.75,175.7 147.20,173.8 147.65,179.6 148.10,173.5 148.55,177.0 149.00,177.5 149.45,174.0 149.90,182.6 150.35,182.0 150.80,176.7 151.25,180.2 151.70,179.1 152.15,170.8 152.60,178.7 153.05,177.7 153.50,177.9 153.95,174.1 154.40,175.1 154.85,173.0 155.30,173.6 155.75,171.8 156.20,174.8 156.65,182.1 157.10,178.6 157.55,180.8 158.00,178.5 158.45,189.0 158.90,188.7 159.35,189.7 159.80,189.9 160.25,189.2 160.70,190.2 161.15,189.6 161.60,190.3 162.05,191.6 162.50,195.9 162.95,193.9 163.40,192.8 163.85,192.0 164.30,192.3 164.75,198.5 165.20,196.2 165.65,195.6 166.10,195.0 166.55,193.6 167.00,196.8 167.45,199.7 167.90,197.1 168.35,198.1 168.80,198.7 169.25,200.1 169.70,196.5 170.15,200.4 170.60,199.5 171.05,204.3 171.50,200.9 171.95,204.7 172.40,207.6 172.85,203.7 173.30,203.6 173.75,206.0 174.20,206.1 174.65,204.3 175.10,208.3 175.55,212.5 176.00,207.6 176.45,208.2 176.90,206.7 177.35,210.4 177.80,207.1 178.25,207.9 178.70,213.9 179.15,209.3 179.60,214.3 180.05,215.7 180.50,213.2 180.95,214.3 181.40,218.0 181.85,213.5 182.30,213.0 182.75,211.8 183.20,215.4 183.65,219.2 184.10,218.5 184.55,214.7 185.00,215.5 185.45,216.8 185.90,219.2 186.35,218.7 186.80,220.2 187.25,221.0 187.70,220.4 188.15,221.6 188.60,222.7 189.05,222.8 189.50,224.7 189.95,228.2 190.40,226.1 190.85,225.6 191.30,222.6 191.75,227.6 192.20,223.3 192.65,225.1 193.10,230.4 193.55,230.8 194.00,229.7 194.45,227.1 194.90,230.5 195.35,230.6 195.80,233.9 196.25,237.7 196.70,234.2 197.15,232.8 197.60,232.5 198.05,235.2 198.50,235.4 198.95,233.9 199.40,236.8 199.85,234.7 200.30,239.6 200.75,239.8 201.20,240.2 201.65,237.6 202.10,239.8 202.55,238.9 203.00,238.7 203.45,239.1 203.90,237.6 204.35,237.6 204.80,242.2 205.25,240.6 205.70,241.7 206.15,243.4 206.60,238.5 207.05,240.6 207.50,242.7 207.95,243.4 208.40,242.2 208.85,245.1 209.30,243.8 209.75,241.4 210.20,242.1 210.65,245.6 211.10,245.2 211.55,241.1 212.00,247.3 212.45,246.2 212.90,247.8 213.35,244.8 213.80,245.2 214.25,243.9 214.70,250.8 215.15,246.0 215.60,249.5 216.05,245.6 216.50,247.3 216.95,244.1 217.40,246.7 217.85,249.4 218.30,245.5 218.75,249.9 219.20,248.8 219.65,246.5 220.10,247.7 220.55,247.9 221.00,248.9 221.45,248.2 221.90,247.9 222.35,249.0 222.80,247.9 223.25,247.6 223.70,250.0 224.15,251.9 224.60,247.7 225.05,250.6 225.50,249.7 225.95,249.2 226.40,252.6 226.85,250.4 227.30,254.1 227.75,250.2 228.20,252.4 228.65,251.5 229.10,250.7 229.55,253.2 230.00,252.0 230.45,253.4 230.90,252.3 231.35,250.6 231.80,252.4 232.25,252.8 232.70,254.4 233.15,251.2 233.60,252.7 234.05,249.8 234.50,254.0 234.95,251.0 235.40,249.7 235.85,252.6 236.30,254.5 236.75,249.7 237.20,250.0 237.65,249.8 238.10,247.6 238.55,247.5 239.00,241.3 239.45,239.3 239.90,245.0 240.35,246.9 240.80,251.7 241.25,250.9 241.70,251.6 242.15,251.3 242.60,258.1 243.05,254.9 243.50,256.3 243.95,256.2 244.40,256.9 244.85,257.1 245.30,260.5 245.75,255.9 246.20,255.4 246.65,256.6 247.10,256.4 247.55,260.2 248.00,260.6 248.45,258.0 248.90,257.7 249.35,259.7 249.80,263.0 250.25,256.5 250.70,262.3 251.15,260.1 251.60,263.8 252.05,260.8 252.50,262.5 252.95,260.9 253.40,262.1 253.85,266.2 254.30,265.6 254.75,264.0 255.20,263.6 255.65,262.3 256.10,264.9 256.55,265.8 257.00,266.0 257.45,266.2 257.90,264.9 258.35,266.8 258.80,267.1 259.25,269.4 259.70,270.5 260.15,267.7 260.60,267.0 261.05,268.3 261.50,267.7 261.95,267.7 262.40,269.0 262.85,267.7 263.30,270.4 263.75,269.5 264.20,270.3 264.65,269.8 265.10,269.2 265.55,269.0 266.00,270.3 266.45,270.0" fill="none" stroke="#0a0a0a" stroke-width="0.9" stroke-linejoin="round" />
<path d="M47.75,199.5 48.20,181.4 48.65,165.3 49.10,172.0 49.55,198.7 50.00,213.8" fill="none" stroke="#6c767c" stroke-width="1.3" stroke-linejoin="round" />
<path d="M119.75,147.0 120.20,103.3 120.65,66.0 121.10,61.9 121.55,81.0 122.00,121.3 122.45,154.0" fill="none" stroke="#3c4246" stroke-width="1.1" stroke-linejoin="round" />
<line x1="155.6" y1="215.6" x2="155.6" y2="227.8" stroke="#0a0a0a" stroke-width="1.2"/>
</g>
<g clip-path="url(#cb)">
<path d="M26.50,515.1 27.50,515.1 28.50,515.1 29.50,515.1 30.50,515.1 31.50,515.1 32.50,515.1 33.50,515.1 34.50,515.1 35.50,515.1 36.50,515.1 37.50,515.1 38.50,515.1 39.50,515.1 40.50,515.1 41.50,515.1 42.50,515.1 43.50,515.1 44.50,515.1 45.50,515.1 46.50,515.1 47.50,515.1 48.50,515.1 49.50,515.1 50.50,515.1 51.50,515.1 52.50,515.1 53.50,515.1 54.50,515.1 55.50,515.1 56.50,515.1 57.50,515.1 58.50,515.1 59.50,515.1 60.50,515.1 61.50,515.1 62.50,515.1 63.50,515.1 64.50,515.1 65.50,515.1 66.50,515.1 67.50,515.1 68.50,515.1 69.50,515.1 70.50,515.1 71.50,515.1 72.50,515.1 73.50,515.1 74.50,515.1 75.50,515.1 76.50,515.1 77.50,515.1 78.50,515.1 79.50,515.1 80.50,515.1 81.50,515.1 82.50,515.1 83.50,515.1 84.50,515.1 85.50,515.1 86.50,515.1 87.50,515.1 88.50,515.1 89.50,515.1 90.50,515.1 91.50,515.1 92.50,515.1 93.50,515.1 94.50,515.1 95.50,515.1 96.50,515.1 97.50,515.1 98.50,515.1 99.50,515.1 100.50,515.1 101.50,515.1 102.50,515.1 103.50,515.1 104.50,515.1 105.50,515.1 106.50,515.1 107.50,515.1 108.50,515.1 109.50,515.1 110.50,515.1 111.50,515.1 112.50,515.1 113.50,515.1 114.50,515.1 115.50,515.1 116.50,515.1 117.50,515.1 118.50,515.1 119.50,515.1 120.50,515.1 121.50,515.1 122.50,515.1 123.50,515.1 124.50,515.1 125.50,515.1 126.50,515.1 127.50,515.1 128.50,515.1 129.50,515.1 130.50,515.1 131.50,515.1 132.50,515.1 133.50,515.1 134.50,515.1 135.50,515.1 136.50,515.1 137.50,515.1 138.50,515.1 139.50,515.1 140.50,515.1 141.50,515.1 142.50,515.1 143.50,515.1 144.50,515.1 145.50,515.1 146.50,515.1 147.50,515.1 148.50,515.1 149.50,515.1 150.50,515.1 151.50,515.1 152.50,515.1 153.50,515.1 154.50,515.1 155.50,515.1 156.50,515.1 157.50,515.1 158.50,515.1 159.50,515.1 160.50,515.1 161.50,515.1 162.50,515.1 163.50,515.1 164.50,515.1 165.50,515.1 166.50,515.1 167.50,515.1 168.50,515.1 169.50,515.1 170.50,515.1 171.50,515.1 172.50,515.1 173.50,515.1 174.50,515.1 175.50,515.1 176.50,515.1 177.50,515.1 178.50,515.1 179.50,515.1 180.50,515.1 181.50,515.1 182.50,515.1 183.50,515.1 184.50,515.1 185.50,515.1 186.50,515.1 187.50,515.1 188.50,515.1 189.50,515.1 190.50,515.1 191.50,515.1 192.50,515.1 193.50,515.1 194.50,515.1 195.50,515.1 196.50,515.1 197.50,515.1 198.50,515.1 199.50,515.1 200.50,515.1 201.50,515.1 202.50,515.1 203.50,515.1 204.50,515.1 205.50,515.1 206.50,515.1 207.50,515.1 208.50,515.1 209.50,515.1 210.50,515.1 211.50,515.1 212.50,515.1 213.50,515.1 214.50,515.1 215.50,515.1 216.50,515.1 217.50,515.1 218.50,515.1 219.50,515.1 220.50,515.1 221.50,515.1 222.50,515.1 223.50,515.1 224.50,515.1 225.50,515.1 226.50,515.1 227.50,515.1 228.50,515.1 229.50,515.1 230.50,515.1 231.50,515.1 232.50,515.1 233.50,515.1 234.50,515.1 235.50,515.1 236.50,515.1 237.50,515.1 238.50,515.1 239.50,515.1 240.50,515.1 241.50,515.1 242.50,515.1 243.50,515.1 244.50,515.1 245.50,515.1 246.50,515.1 247.50,515.1 248.50,515.1 249.50,515.1 250.50,515.1 251.50,515.1 252.50,515.1 253.50,515.1 254.50,515.1 255.50,515.1 256.50,515.1 257.50,515.1 258.50,515.1 259.50,515.1 260.50,515.1 261.50,515.1 262.50,515.1 263.50,515.1 264.50,515.1 265.50,515.1 266.50,515.1" fill="none" stroke="#2436ee" stroke-width="1.4" stroke-linejoin="round" />
<path d="M26.50,514.5 27.50,514.4 28.50,514.3 29.50,514.2 30.50,514.1 31.50,513.9 32.50,513.8 33.50,513.6 34.50,513.4 35.50,513.2 36.50,512.9 37.50,512.7 38.50,512.4 39.50,512.1 40.50,511.8 41.50,511.5 42.50,511.1 43.50,510.7 44.50,510.4 45.50,509.9 46.50,509.5 47.50,509.1 48.50,508.6 49.50,508.2 50.50,507.7 51.50,507.2 52.50,506.7 53.50,506.3 54.50,505.8 55.50,505.4 56.50,504.9 57.50,504.5 58.50,504.1 59.50,503.7 60.50,503.3 61.50,503.0 62.50,502.7 63.50,502.5 64.50,502.2 65.50,502.1 66.50,501.9 67.50,501.8 68.50,501.8 69.50,501.8 70.50,501.9 71.50,502.0 72.50,502.1 73.50,502.3 74.50,502.5 75.50,502.8 76.50,503.1 77.50,503.4 78.50,503.8 79.50,504.1 80.50,504.6 81.50,505.0 82.50,505.4 83.50,505.9 84.50,506.4 85.50,506.8 86.50,507.3 87.50,507.8 88.50,508.3 89.50,508.7 90.50,509.2 91.50,509.6 92.50,510.0 93.50,510.4 94.50,510.8 95.50,511.2 96.50,511.5 97.50,511.9 98.50,512.2 99.50,512.5 100.50,512.7 101.50,513.0 102.50,513.2 103.50,513.4 104.50,513.6 105.50,513.8 106.50,513.9 107.50,514.1 108.50,514.2 109.50,514.3 110.50,514.4 111.50,514.5 112.50,514.6 113.50,514.7 114.50,514.7 115.50,514.8 116.50,514.8 117.50,514.9 118.50,514.9 119.50,514.9 120.50,515.0 121.50,515.0 122.50,515.0 123.50,515.0 124.50,515.0 125.50,515.0 126.50,515.1 127.50,515.1 128.50,515.1 129.50,515.1 130.50,515.1 131.50,515.1 132.50,515.1 133.50,515.1 134.50,515.1 135.50,515.1 136.50,515.1 137.50,515.1 138.50,515.1 139.50,515.1 140.50,515.1 141.50,515.1 142.50,515.1 143.50,515.1 144.50,515.1 145.50,515.1 146.50,515.1 147.50,515.1 148.50,515.1 149.50,515.1 150.50,515.1 151.50,515.1 152.50,515.1 153.50,515.1 154.50,515.1 155.50,515.1 156.50,515.1 157.50,515.1 158.50,515.1 159.50,515.1 160.50,515.1 161.50,515.1 162.50,515.1 163.50,515.1 164.50,515.1 165.50,515.1 166.50,515.1 167.50,515.1 168.50,515.1 169.50,515.1 170.50,515.1 171.50,515.1 172.50,515.1 173.50,515.1 174.50,515.1 175.50,515.1 176.50,515.1 177.50,515.1 178.50,515.1 179.50,515.1 180.50,515.1 181.50,515.1 182.50,515.1 183.50,515.1 184.50,515.1 185.50,515.1 186.50,515.1 187.50,515.1 188.50,515.1 189.50,515.1 190.50,515.1 191.50,515.1 192.50,515.1 193.50,515.1 194.50,515.1 195.50,515.1 196.50,515.1 197.50,515.1 198.50,515.1 199.50,515.1 200.50,515.1 201.50,515.1 202.50,515.1 203.50,515.1 204.50,515.1 205.50,515.1 206.50,515.1 207.50,515.1 208.50,515.1 209.50,515.1 210.50,515.1 211.50,515.1 212.50,515.1 213.50,515.1 214.50,515.1 215.50,515.1 216.50,515.1 217.50,515.1 218.50,515.1 219.50,515.1 220.50,515.1 221.50,515.1 222.50,515.1 223.50,515.1 224.50,515.1 225.50,515.1 226.50,515.1 227.50,515.1 228.50,515.1 229.50,515.1 230.50,515.1 231.50,515.1 232.50,515.1 233.50,515.1 234.50,515.1 235.50,515.1 236.50,515.1 237.50,515.1 238.50,515.1 239.50,515.1 240.50,515.1 241.50,515.1 242.50,515.1 243.50,515.1 244.50,515.1 245.50,515.1 246.50,515.1 247.50,515.1 248.50,515.1 249.50,515.1 250.50,515.1 251.50,515.1 252.50,515.1 253.50,515.1 254.50,515.1 255.50,515.1 256.50,515.1 257.50,515.1 258.50,515.1 259.50,515.1 260.50,515.1 261.50,515.1 262.50,515.1 263.50,515.1 264.50,515.1 265.50,515.1 266.50,515.1" fill="none" stroke="#2436ee" stroke-width="1.35" stroke-linejoin="round" />
<path d="M26.50,515.1 27.50,515.1 28.50,515.1 29.50,515.1 30.50,515.1 31.50,515.1 32.50,515.0 33.50,515.0 34.50,515.0 35.50,515.0 36.50,515.0 37.50,515.0 38.50,515.0 39.50,515.0 40.50,515.0 41.50,515.0 42.50,514.9 43.50,514.9 44.50,514.9 45.50,514.9 46.50,514.9 47.50,514.8 48.50,514.8 49.50,514.8 50.50,514.7 51.50,514.7 52.50,514.7 53.50,514.6 54.50,514.6 55.50,514.5 56.50,514.5 57.50,514.4 58.50,514.3 59.50,514.3 60.50,514.2 61.50,514.1 62.50,514.0 63.50,513.9 64.50,513.8 65.50,513.7 66.50,513.6 67.50,513.5 68.50,513.3 69.50,513.2 70.50,513.0 71.50,512.8 72.50,512.6 73.50,512.4 74.50,512.2 75.50,512.0 76.50,511.8 77.50,511.5 78.50,511.2 79.50,511.0 80.50,510.6 81.50,510.3 82.50,510.0 83.50,509.6 84.50,509.2 85.50,508.8 86.50,508.4 87.50,507.9 88.50,507.5 89.50,507.0 90.50,506.4 91.50,505.9 92.50,505.3 93.50,504.7 94.50,504.0 95.50,503.4 96.50,502.7 97.50,502.0 98.50,501.2 99.50,500.4 100.50,499.6 101.50,498.7 102.50,497.9 103.50,497.0 104.50,496.0 105.50,495.0 106.50,494.0 107.50,493.0 108.50,491.9 109.50,490.8 110.50,489.7 111.50,488.5 112.50,487.3 113.50,486.1 114.50,484.9 115.50,483.6 116.50,482.3 117.50,481.0 118.50,479.7 119.50,478.3 120.50,476.9 121.50,475.5 122.50,474.1 123.50,472.7 124.50,471.2 125.50,469.8 126.50,468.3 127.50,466.9 128.50,465.4 129.50,463.9 130.50,462.5 131.50,461.0 132.50,459.6 133.50,458.1 134.50,456.7 135.50,455.3 136.50,453.9 137.50,452.5 138.50,451.2 139.50,449.8 140.50,448.6 141.50,447.3 142.50,446.1 143.50,444.9 144.50,443.8 145.50,442.7 146.50,441.6 147.50,440.6 148.50,439.7 149.50,438.8 150.50,437.9 151.50,437.2 152.50,436.4 153.50,435.8 154.50,435.2 155.50,434.7 156.50,434.2 157.50,433.8 158.50,433.5 159.50,433.2 160.50,433.1 161.50,432.9 162.50,432.9 163.50,432.9 164.50,433.0 165.50,433.2 166.50,433.4 167.50,433.7 168.50,434.1 169.50,434.6 170.50,435.1 171.50,435.7 172.50,436.3 173.50,437.0 174.50,437.8 175.50,438.6 176.50,439.5 177.50,440.4 178.50,441.4 179.50,442.5 180.50,443.5 181.50,444.7 182.50,445.8 183.50,447.1 184.50,448.3 185.50,449.6 186.50,450.9 187.50,452.2 188.50,453.6 189.50,455.0 190.50,456.4 191.50,457.8 192.50,459.3 193.50,460.7 194.50,462.2 195.50,463.6 196.50,465.1 197.50,466.6 198.50,468.0 199.50,469.5 200.50,470.9 201.50,472.4 202.50,473.8 203.50,475.2 204.50,476.6 205.50,478.0 206.50,479.4 207.50,480.7 208.50,482.1 209.50,483.4 210.50,484.6 211.50,485.9 212.50,487.1 213.50,488.3 214.50,489.5 215.50,490.6 216.50,491.7 217.50,492.8 218.50,493.8 219.50,494.8 220.50,495.8 221.50,496.8 222.50,497.7 223.50,498.6 224.50,499.4 225.50,500.3 226.50,501.0 227.50,501.8 228.50,502.5 229.50,503.2 230.50,503.9 231.50,504.6 232.50,505.2 233.50,505.8 234.50,506.3 235.50,506.8 236.50,507.4 237.50,507.8 238.50,508.3 239.50,508.7 240.50,509.1 241.50,509.5 242.50,509.9 243.50,510.3 244.50,510.6 245.50,510.9 246.50,511.2 247.50,511.5 248.50,511.7 249.50,512.0 250.50,512.2 251.50,512.4 252.50,512.6 253.50,512.8 254.50,513.0 255.50,513.1 256.50,513.3 257.50,513.4 258.50,513.6 259.50,513.7 260.50,513.8 261.50,513.9 262.50,514.0 263.50,514.1 264.50,514.2 265.50,514.3 266.50,514.3" fill="none" stroke="#2436ee" stroke-width="1.35" stroke-linejoin="round" />
<path d="M26.50,515.1 27.50,515.1 28.50,515.1 29.50,515.1 30.50,515.1 31.50,515.1 32.50,515.1 33.50,515.1 34.50,515.1 35.50,515.1 36.50,515.1 37.50,515.1 38.50,515.1 39.50,515.1 40.50,515.1 41.50,515.1 42.50,515.1 43.50,515.1 44.50,515.1 45.50,515.1 46.50,515.1 47.50,515.1 48.50,515.1 49.50,515.1 50.50,515.1 51.50,515.1 52.50,515.1 53.50,515.1 54.50,515.1 55.50,515.1 56.50,515.1 57.50,515.1 58.50,515.1 59.50,515.1 60.50,515.1 61.50,515.1 62.50,515.1 63.50,515.1 64.50,515.1 65.50,515.1 66.50,515.1 67.50,515.1 68.50,515.1 69.50,515.1 70.50,515.1 71.50,515.1 72.50,515.1 73.50,515.1 74.50,515.1 75.50,515.1 76.50,515.1 77.50,515.1 78.50,515.1 79.50,515.1 80.50,515.1 81.50,515.1 82.50,515.1 83.50,515.1 84.50,515.1 85.50,515.1 86.50,515.1 87.50,515.1 88.50,515.1 89.50,515.1 90.50,515.1 91.50,515.1 92.50,515.1 93.50,515.1 94.50,515.1 95.50,515.1 96.50,515.1 97.50,515.1 98.50,515.1 99.50,515.1 100.50,515.1 101.50,515.1 102.50,515.1 103.50,515.1 104.50,515.1 105.50,515.1 106.50,515.1 107.50,515.1 108.50,515.1 109.50,515.1 110.50,515.1 111.50,515.1 112.50,515.1 113.50,515.1 114.50,515.1 115.50,515.1 116.50,515.1 117.50,515.1 118.50,515.1 119.50,515.1 120.50,515.1 121.50,515.1 122.50,515.1 123.50,515.1 124.50,515.1 125.50,515.1 126.50,515.1 127.50,515.1 128.50,515.1 129.50,515.1 130.50,515.1 131.50,515.1 132.50,515.1 133.50,515.1 134.50,515.1 135.50,515.1 136.50,515.1 137.50,515.1 138.50,515.1 139.50,515.1 140.50,515.1 141.50,515.1 142.50,515.1 143.50,515.1 144.50,515.1 145.50,515.1 146.50,515.1 147.50,515.1 148.50,515.1 149.50,515.1 150.50,515.1 151.50,515.1 152.50,515.1 153.50,515.1 154.50,515.1 155.50,515.1 156.50,515.1 157.50,515.1 158.50,515.1 159.50,515.1 160.50,515.1 161.50,515.1 162.50,515.1 163.50,515.1 164.50,515.1 165.50,515.1 166.50,515.1 167.50,515.1 168.50,515.1 169.50,515.1 170.50,515.1 171.50,515.1 172.50,515.1 173.50,515.1 174.50,515.1 175.50,515.1 176.50,515.1 177.50,515.1 178.50,515.1 179.50,515.1 180.50,515.1 181.50,515.1 182.50,515.1 183.50,515.1 184.50,515.1 185.50,515.1 186.50,515.0 187.50,515.0 188.50,515.0 189.50,515.0 190.50,515.0 191.50,514.9 192.50,514.9 193.50,514.8 194.50,514.8 195.50,514.7 196.50,514.6 197.50,514.5 198.50,514.4 199.50,514.3 200.50,514.2 201.50,514.0 202.50,513.8 203.50,513.6 204.50,513.4 205.50,513.2 206.50,512.9 207.50,512.5 208.50,512.2 209.50,511.8 210.50,511.4 211.50,511.0 212.50,510.5 213.50,510.0 214.50,509.4 215.50,508.8 216.50,508.2 217.50,507.6 218.50,506.9 219.50,506.3 220.50,505.6 221.50,504.9 222.50,504.2 223.50,503.5 224.50,502.8 225.50,502.1 226.50,501.5 227.50,500.9 228.50,500.3 229.50,499.8 230.50,499.4 231.50,498.9 232.50,498.6 233.50,498.3 234.50,498.1 235.50,498.0 236.50,497.9 237.50,497.9 238.50,498.0 239.50,498.2 240.50,498.4 241.50,498.7 242.50,499.1 243.50,499.5 244.50,500.0 245.50,500.6 246.50,501.1 247.50,501.8 248.50,502.4 249.50,503.1 250.50,503.8 251.50,504.5 252.50,505.2 253.50,505.8 254.50,506.5 255.50,507.2 256.50,507.8 257.50,508.5 258.50,509.1 259.50,509.6 260.50,510.2 261.50,510.7 262.50,511.1 263.50,511.6 264.50,512.0 265.50,512.3 266.50,512.7" fill="none" stroke="#2436ee" stroke-width="1.35" stroke-linejoin="round" />
<path d="M28.90,504.8 29.40,506.0 29.90,506.9 30.40,500.4 30.90,497.5 31.40,496.7 31.90,493.6 32.40,497.3 32.90,490.7 33.40,494.8 33.90,489.3 34.40,493.9 34.90,491.8 35.40,485.5 35.90,491.7 36.40,489.0 36.90,490.4 37.40,495.2 37.90,488.5 38.40,488.6 38.90,494.7 39.40,491.3 39.90,494.8 40.40,491.7 40.90,488.6 41.40,490.5 41.90,493.7 42.40,492.9 42.90,490.4 43.40,490.5 43.90,490.0 44.40,488.7 44.90,494.7 45.40,489.8 45.90,486.7 46.40,487.9 46.90,490.1 47.40,488.3 47.90,484.6 48.40,484.2 48.90,487.6 49.40,484.4 49.90,485.7 50.40,491.1 50.90,488.0 51.40,490.2 51.90,492.3 52.40,490.9 52.90,489.3 53.40,494.5 53.90,490.9 54.40,488.3 54.90,491.0 55.40,490.2 55.90,487.0 56.40,489.3 56.90,488.7 57.40,484.2 57.90,488.6 58.40,488.3 58.90,487.9 59.40,484.9 59.90,488.1 60.40,488.9 60.90,489.2 61.40,486.1 61.90,490.5 62.40,485.9 62.90,488.4 63.40,492.1 63.90,487.2 64.40,487.6 64.90,491.5 65.40,487.9 65.90,488.1 66.40,489.4 66.90,491.4 67.40,483.4 67.90,486.8 68.40,486.3 68.90,486.1 69.40,486.7 69.90,486.7 70.40,489.5 70.90,486.6 71.40,489.1 71.90,489.7 72.40,486.9 72.90,489.0 73.40,492.7 73.90,489.5 74.40,487.1 74.90,488.5 75.40,486.4 75.90,489.3 76.40,490.8 76.90,486.7 77.40,488.1 77.90,491.4 78.40,487.4 78.90,489.1 79.40,486.1 79.90,486.6 80.40,487.4 80.90,493.8 81.40,487.6 81.90,487.3 82.40,487.2 82.90,488.2 83.40,490.2 83.90,489.0 84.40,493.5 84.90,489.1 85.40,492.0 85.90,489.2 86.40,490.0 86.90,485.1 87.40,488.2 87.90,488.4 88.40,488.0 88.90,483.4 89.40,490.6 89.90,487.6 90.40,487.5 90.90,487.9 91.40,488.0 91.90,489.5 92.40,485.5 92.90,486.3 93.40,489.2 93.90,488.9 94.40,487.6 94.90,487.1 95.40,486.5 95.90,488.4 96.40,491.3 96.90,486.0 97.40,492.2 97.90,490.5 98.40,487.4 98.90,490.4 99.40,485.0 99.90,484.3 100.40,485.4 100.90,487.5 101.40,487.7 101.90,487.3 102.40,488.7 102.90,483.4 103.40,489.7 103.90,485.1 104.40,486.9 104.90,487.5 105.40,485.8 105.90,485.3 106.40,486.1 106.90,488.5 107.40,490.0 107.90,489.9 108.40,486.2 108.90,486.7 109.40,486.4 109.90,489.7 110.40,483.7 110.90,491.6 111.40,487.5 111.90,486.8 112.40,489.5 112.90,491.2 113.40,489.5 113.90,491.3 114.40,489.1 114.90,491.7 115.40,491.8 115.90,488.6 116.40,492.3 116.90,489.2 117.40,489.1 117.90,486.7 118.40,488.2 118.90,490.8 119.40,485.8 119.90,490.5 120.40,489.8 120.90,489.7 121.40,483.7 121.90,488.8 122.40,490.6 122.90,487.2 123.40,489.3 123.90,483.4 124.40,490.8 124.90,487.6 125.40,491.3 125.90,484.8 126.40,490.9 126.90,488.7 127.40,491.2 127.90,487.1 128.40,487.9 128.90,494.7 129.40,487.4 129.90,487.7 130.40,488.8 130.90,487.0 131.40,492.4 131.90,493.7 132.40,487.9 132.90,485.4 133.40,492.4 133.90,492.3 134.40,491.6 134.90,492.5 135.40,487.6 135.90,489.4 136.40,486.5 136.90,486.4 137.40,492.2 137.90,488.3 138.40,495.4 138.90,490.1 139.40,488.4 139.90,491.9 140.40,494.3 140.90,491.2 141.40,487.2 141.90,491.0 142.40,493.5 142.90,489.0 143.40,488.4 143.90,492.7 144.40,490.7 144.90,487.7 145.40,489.5 145.90,488.7 146.40,491.3 146.90,490.9 147.40,493.4 147.90,492.4 148.40,487.0 148.90,491.8 149.40,493.1 149.90,492.1 150.40,493.5 150.90,489.8 151.40,488.9 151.90,493.5 152.40,488.8 152.90,486.2 153.40,493.9 153.90,489.8 154.40,490.9 154.90,488.3 155.40,488.6 155.90,489.1 156.40,491.0 156.90,492.9 157.40,486.6 157.90,494.0 158.40,489.4 158.90,489.8 159.40,494.0 159.90,492.3 160.40,488.9 160.90,497.1 161.40,490.7 161.90,493.4 162.40,493.4 162.90,496.4 163.40,492.0 163.90,495.6 164.40,491.5 164.90,496.0 165.40,491.6 165.90,492.6 166.40,498.1 166.90,494.4 167.40,494.0 167.90,499.2 168.40,494.8 168.90,492.1 169.40,495.9 169.90,491.4 170.40,497.0 170.90,497.3 171.40,493.1 171.90,493.0 172.40,495.1 172.90,494.8 173.40,492.5 173.90,496.2 174.40,490.1 174.90,494.0 175.40,494.2 175.90,494.6 176.40,496.0 176.90,492.4 177.40,496.9 177.90,495.1 178.40,494.1 178.90,492.5 179.40,493.0 179.90,496.8 180.40,493.7 180.90,496.3 181.40,498.8 181.90,498.8 182.40,500.1 182.90,495.8 183.40,494.0 183.90,499.1 184.40,497.5 184.90,499.6 185.40,497.0 185.90,500.0 186.40,499.2 186.90,499.0 187.40,498.6 187.90,498.4 188.40,498.2 188.90,498.2 189.40,500.2 189.90,496.7 190.40,502.2 190.90,497.8 191.40,500.6 191.90,498.1 192.40,497.8 192.90,503.4 193.40,497.9 193.90,495.6 194.40,497.1 194.90,498.1 195.40,504.2 195.90,499.6 196.40,501.5 196.90,496.9 197.40,500.3 197.90,501.1 198.40,503.9 198.90,498.0 199.40,501.2 199.90,500.6 200.40,497.5 200.90,500.0 201.40,499.5 201.90,494.7 202.40,501.8 202.90,501.7 203.40,499.5 203.90,497.4 204.40,504.3 204.90,501.4 205.40,503.3 205.90,504.4 206.40,499.8 206.90,503.1 207.40,500.7 207.90,501.2 208.40,501.2 208.90,501.5 209.40,504.2 209.90,501.9 210.40,501.3 210.90,501.1 211.40,502.7 211.90,499.8 212.40,500.8 212.90,502.0 213.40,500.8 213.90,501.9 214.40,500.8 214.90,507.2 215.40,505.6 215.90,503.6 216.40,502.5 216.90,507.9 217.40,503.5 217.90,502.6 218.40,503.6 218.90,503.7 219.40,506.4 219.90,503.0 220.40,508.2 220.90,501.1 221.40,505.0 221.90,501.0 222.40,507.8 222.90,502.7 223.40,503.4 223.90,505.9 224.40,506.7 224.90,501.1 225.40,503.0 225.90,500.6 226.40,504.3 226.90,503.8 227.40,503.3 227.90,502.5 228.40,503.3 228.90,502.5 229.40,505.6 229.90,508.1 230.40,499.8 230.90,504.3 231.40,503.6 231.90,505.8 232.40,502.4 232.90,504.4 233.40,502.3 233.90,506.6 234.40,505.2 234.90,504.6 235.40,506.0 235.90,504.5 236.40,501.5 236.90,506.7 237.40,506.0 237.90,505.0 238.40,507.8 238.90,508.4 239.40,502.9 239.90,503.7 240.40,509.4 240.90,509.1 241.40,504.0 241.90,503.0 242.40,504.3 242.90,504.7 243.40,502.2 243.90,506.1 244.40,503.0 244.90,503.2 245.40,508.4 245.90,504.6 246.40,506.1 246.90,507.8 247.40,508.3 247.90,505.6 248.40,506.6 248.90,504.5 249.40,510.8 249.90,508.2 250.40,504.0 250.90,506.7 251.40,508.5 251.90,508.0 252.40,511.2 252.90,510.2 253.40,505.7 253.90,506.8 254.40,504.0 254.90,507.7 255.40,507.5 255.90,513.7 256.40,507.5 256.90,502.2 257.40,505.7 257.90,507.6 258.40,504.4 258.90,505.3 259.40,506.6 259.90,508.3 260.40,507.2 260.90,505.5 261.40,509.5 261.90,506.4 262.40,506.5 262.90,504.4 263.40,505.9 263.90,509.4 264.40,504.0 264.90,507.7 265.40,509.7 265.90,507.1" fill="none" stroke="#8c989c" stroke-width="0.8" stroke-linejoin="round" />
<path d="M28.00,493.5 29.00,493.2 30.00,493.0 31.00,492.7 32.00,492.4 33.00,492.2 34.00,491.9 35.00,491.6 36.00,491.4 37.00,491.1 38.00,490.9 39.00,490.6 40.00,490.4 41.00,490.1 42.00,489.9 43.00,489.7 44.00,489.5 45.00,489.2 46.00,489.0 47.00,488.8 48.00,488.6 49.00,488.4 50.00,488.2 51.00,488.0 52.00,487.8 53.00,487.6 54.00,487.5 55.00,487.3 56.00,487.1 57.00,487.0 58.00,486.8 59.00,486.7 60.00,486.5 61.00,486.4 62.00,486.3 63.00,486.2 64.00,486.0 65.00,485.9 66.00,485.8 67.00,485.7 68.00,485.6 69.00,485.5 70.00,485.4 71.00,485.3 72.00,485.2 73.00,485.1 74.00,485.0 75.00,484.9 76.00,484.8 77.00,484.7 78.00,484.6 79.00,484.5 80.00,484.4 81.00,484.4 82.00,484.3 83.00,484.2 84.00,484.1 85.00,484.1 86.00,484.0 87.00,483.9 88.00,483.9 89.00,483.8 90.00,483.8 91.00,483.7 92.00,483.7 93.00,483.7 94.00,483.6 95.00,483.6 96.00,483.6 97.00,483.6 98.00,483.6 99.00,483.6 100.00,483.6 101.00,483.6 102.00,483.7 103.00,483.7 104.00,483.7 105.00,483.8 106.00,483.8 107.00,483.9 108.00,483.9 109.00,484.0 110.00,484.1 111.00,484.1 112.00,484.2 113.00,484.3 114.00,484.4 115.00,484.5 116.00,484.5 117.00,484.6 118.00,484.7 119.00,484.8 120.00,485.0 121.00,485.1 122.00,485.2 123.00,485.3 124.00,485.4 125.00,485.5 126.00,485.6 127.00,485.8 128.00,485.9 129.00,486.0 130.00,486.1 131.00,486.3 132.00,486.4 133.00,486.5 134.00,486.6 135.00,486.8 136.00,486.9 137.00,487.0 138.00,487.1 139.00,487.3 140.00,487.4 141.00,487.5 142.00,487.7 143.00,487.8 144.00,488.0 145.00,488.1 146.00,488.3 147.00,488.5 148.00,488.6 149.00,488.8 150.00,489.0 151.00,489.2 152.00,489.4 153.00,489.6 154.00,489.8 155.00,490.0 156.00,490.2 157.00,490.5 158.00,490.7 159.00,490.9 160.00,491.1 161.00,491.3 162.00,491.6 163.00,491.8 164.00,492.0 165.00,492.2 166.00,492.5 167.00,492.7 168.00,492.9 169.00,493.1 170.00,493.3 171.00,493.6 172.00,493.8 173.00,494.0 174.00,494.2 175.00,494.4 176.00,494.6 177.00,494.8 178.00,495.0 179.00,495.2 180.00,495.4 181.00,495.6 182.00,495.8 183.00,496.1 184.00,496.3 185.00,496.5 186.00,496.7 187.00,496.9 188.00,497.1 189.00,497.3 190.00,497.6 191.00,497.8 192.00,498.0 193.00,498.2 194.00,498.4 195.00,498.6 196.00,498.8 197.00,499.0 198.00,499.2 199.00,499.4 200.00,499.6 201.00,499.8 202.00,500.0 203.00,500.2 204.00,500.4 205.00,500.5 206.00,500.7 207.00,500.9 208.00,501.0 209.00,501.2 210.00,501.3 211.00,501.5 212.00,501.6 213.00,501.8 214.00,501.9 215.00,502.1 216.00,502.2 217.00,502.4 218.00,502.5 219.00,502.7 220.00,502.8 221.00,503.0 222.00,503.1 223.00,503.2 224.00,503.4 225.00,503.5 226.00,503.6 227.00,503.8 228.00,503.9 229.00,504.0 230.00,504.1 231.00,504.2 232.00,504.4 233.00,504.5 234.00,504.6 235.00,504.7 236.00,504.8 237.00,504.9 238.00,505.0 239.00,505.1 240.00,505.1 241.00,505.2 242.00,505.3 243.00,505.4 244.00,505.4 245.00,505.5 246.00,505.5 247.00,505.6 248.00,505.7 249.00,505.7 250.00,505.8 251.00,505.8 252.00,505.9 253.00,505.9 254.00,506.0 255.00,506.0 256.00,506.1 257.00,506.1 258.00,506.2 259.00,506.2 260.00,506.2 261.00,506.3 262.00,506.3 263.00,506.3 264.00,506.4 265.00,506.4 266.00,506.4" fill="none" stroke="#ff2a14" stroke-width="1.8" stroke-linejoin="round" />
<path d="M27.50,515.1 27.95,511.0 28.40,508.0 28.85,502.9 29.30,498.7 29.75,494.3 30.20,487.5 30.65,488.8 31.10,482.3 31.55,487.5 32.00,483.8 32.45,483.0 32.90,483.5 33.35,484.0 33.80,479.1 34.25,477.7 34.70,479.0 35.15,476.0 35.60,478.3 36.05,484.5 36.50,477.3 36.95,481.4 37.40,475.8 37.85,479.9 38.30,478.0 38.75,478.5 39.20,479.9 39.65,482.7 40.10,478.4 40.55,477.9 41.00,474.7 41.45,478.4 41.90,475.8 42.35,478.1 42.80,475.0 43.25,478.8 43.70,467.5 44.15,470.9 44.60,472.9 45.05,468.2 45.50,465.1 45.95,461.1 46.40,439.8 46.85,397.7 47.30,326.8 47.75,249.2 48.20,238.0 48.65,308.6 49.10,389.7 49.55,443.9 50.00,459.7 50.45,466.4 50.90,472.5 51.35,473.2 51.80,470.2 52.25,468.4 52.70,467.4 53.15,469.8 53.60,465.6 54.05,473.7 54.50,469.8 54.95,472.7 55.40,476.3 55.85,474.2 56.30,467.5 56.75,472.9 57.20,473.5 57.65,467.9 58.10,467.1 58.55,469.2 59.00,464.8 59.45,473.2 59.90,462.1 60.35,465.6 60.80,467.8 61.25,467.8 61.70,468.7 62.15,468.9 62.60,467.4 63.05,471.1 63.50,461.6 63.95,467.6 64.40,465.4 64.85,467.7 65.30,467.8 65.75,464.4 66.20,465.1 66.65,469.0 67.10,467.6 67.55,464.4 68.00,472.1 68.45,472.6 68.90,461.5 69.35,466.3 69.80,472.4 70.25,467.0 70.70,465.0 71.15,463.3 71.60,461.9 72.05,462.5 72.50,461.1 72.95,464.5 73.40,460.8 73.85,460.4 74.30,457.8 74.75,461.0 75.20,458.3 75.65,460.4 76.10,464.0 76.55,462.1 77.00,462.8 77.45,462.8 77.90,462.3 78.35,462.2 78.80,462.1 79.25,465.6 79.70,460.4 80.15,467.5 80.60,463.4 81.05,460.7 81.50,460.8 81.95,459.4 82.40,461.0 82.85,457.4 83.30,461.8 83.75,454.6 84.20,448.3 84.65,450.6 85.10,443.6 85.55,445.5 86.00,444.2 86.45,438.3 86.90,428.5 87.35,428.7 87.80,437.4 88.25,436.3 88.70,439.9 89.15,447.8 89.60,456.3 90.05,456.1 90.50,454.9 90.95,457.0 91.40,458.7 91.85,455.4 92.30,454.3 92.75,457.9 93.20,455.1 93.65,458.3 94.10,459.3 94.55,466.6 95.00,457.7 95.45,460.5 95.90,461.0 96.35,463.5 96.80,465.8 97.25,461.8 97.70,461.2 98.15,459.0 98.60,461.1 99.05,465.3 99.50,463.7 99.95,460.2 100.40,461.6 100.85,462.3 101.30,463.1 101.75,459.2 102.20,459.5 102.65,454.0 103.10,455.3 103.55,462.9 104.00,450.6 104.45,455.6 104.90,456.6 105.35,454.1 105.80,452.1 106.25,453.7 106.70,453.2 107.15,452.2 107.60,445.7 108.05,450.4 108.50,447.4 108.95,447.5 109.40,449.2 109.85,449.7 110.30,449.7 110.75,444.4 111.20,448.2 111.65,448.1 112.10,447.1 112.55,447.1 113.00,441.0 113.45,439.9 113.90,442.3 114.35,433.9 114.80,438.3 115.25,434.7 115.70,434.2 116.15,428.4 116.60,430.3 117.05,432.2 117.50,434.0 117.95,431.8 118.40,421.8 118.85,406.7 119.30,375.2 119.75,337.6 120.20,296.5 120.65,291.5 121.10,324.7 121.55,359.0 122.00,385.1 122.45,404.0 122.90,408.1 123.35,411.7 123.80,423.0 124.25,420.8 124.70,416.1 125.15,425.6 125.60,429.2 126.05,424.5 126.50,424.5 126.95,426.8 127.40,430.1 127.85,432.2 128.30,434.8 128.75,435.4 129.20,435.6 129.65,436.3 130.10,433.7 130.55,425.5 131.00,430.1 131.45,431.1 131.90,428.0 132.35,431.9 132.80,426.5 133.25,423.6 133.70,431.4 134.15,427.7 134.60,425.1 135.05,426.9 135.50,426.6 135.95,423.2 136.40,411.9 136.85,418.0 137.30,418.3 137.75,415.7 138.20,419.6 138.65,422.9 139.10,415.9 139.55,412.8 140.00,424.5 140.45,414.4 140.90,410.9 141.35,416.1 141.80,416.0 142.25,409.8 142.70,410.4 143.15,393.3 143.60,370.1 144.05,348.2 144.50,333.6 144.95,335.1 145.40,362.9 145.85,385.8 146.30,413.3 146.75,407.0 147.20,417.8 147.65,412.9 148.10,412.8 148.55,416.1 149.00,416.6 149.45,417.9 149.90,413.8 150.35,409.5 150.80,409.0 151.25,412.3 151.70,411.6 152.15,413.8 152.60,408.6 153.05,409.6 153.50,409.6 153.95,401.4 154.40,390.6 154.85,385.6 155.30,378.8 155.75,393.3 156.20,389.2 156.65,402.1 157.10,401.9 157.55,408.0 158.00,406.0 158.45,402.0 158.90,402.0 159.35,403.6 159.80,404.2 160.25,401.5 160.70,403.8 161.15,410.7 161.60,397.2 162.05,405.4 162.50,400.7 162.95,405.3 163.40,408.0 163.85,404.3 164.30,407.7 164.75,398.1 165.20,409.1 165.65,402.1 166.10,407.0 166.55,405.2 167.00,393.8 167.45,401.2 167.90,405.0 168.35,410.2 168.80,404.7 169.25,404.0 169.70,396.1 170.15,406.1 170.60,405.4 171.05,397.2 171.50,397.9 171.95,394.7 172.40,406.7 172.85,415.3 173.30,408.1 173.75,411.1 174.20,408.9 174.65,403.3 175.10,413.3 175.55,403.6 176.00,408.3 176.45,410.9 176.90,413.9 177.35,412.6 177.80,413.1 178.25,409.1 178.70,407.6 179.15,413.5 179.60,411.1 180.05,409.4 180.50,410.2 180.95,413.9 181.40,409.4 181.85,412.1 182.30,411.8 182.75,419.6 183.20,421.2 183.65,428.1 184.10,415.6 184.55,419.6 185.00,426.3 185.45,422.9 185.90,423.3 186.35,431.6 186.80,424.8 187.25,422.5 187.70,422.7 188.15,429.4 188.60,429.9 189.05,424.5 189.50,426.6 189.95,432.7 190.40,433.4 190.85,429.7 191.30,434.8 191.75,435.3 192.20,427.6 192.65,433.4 193.10,436.6 193.55,433.7 194.00,428.9 194.45,435.9 194.90,440.1 195.35,443.5 195.80,431.2 196.25,448.2 196.70,436.0 197.15,443.6 197.60,445.1 198.05,444.7 198.50,442.5 198.95,438.6 199.40,445.1 199.85,441.1 200.30,435.6 200.75,453.8 201.20,447.2 201.65,451.3 202.10,442.8 202.55,451.0 203.00,451.8 203.45,452.1 203.90,447.3 204.35,443.9 204.80,447.6 205.25,441.4 205.70,443.4 206.15,449.5 206.60,446.4 207.05,449.4 207.50,449.9 207.95,456.7 208.40,455.0 208.85,451.1 209.30,455.3 209.75,449.4 210.20,451.1 210.65,455.3 211.10,448.9 211.55,452.2 212.00,449.2 212.45,454.1 212.90,459.1 213.35,452.0 213.80,455.3 214.25,452.2 214.70,451.7 215.15,451.8 215.60,460.4 216.05,463.5 216.50,458.1 216.95,454.7 217.40,459.4 217.85,456.6 218.30,460.4 218.75,459.2 219.20,459.5 219.65,460.9 220.10,457.7 220.55,458.6 221.00,455.0 221.45,459.2 221.90,456.6 222.35,460.8 222.80,458.7 223.25,462.2 223.70,463.6 224.15,458.4 224.60,460.5 225.05,460.5 225.50,465.8 225.95,468.9 226.40,466.7 226.85,463.5 227.30,469.1 227.75,460.7 228.20,469.7 228.65,463.7 229.10,457.9 229.55,473.7 230.00,470.8 230.45,463.6 230.90,467.2 231.35,466.2 231.80,467.3 232.25,462.8 232.70,465.2 233.15,468.5 233.60,467.8 234.05,470.6 234.50,467.3 234.95,473.5 235.40,464.6 235.85,466.9 236.30,460.1 236.75,460.9 237.20,466.3 237.65,456.8 238.10,455.5 238.55,445.1 239.00,433.3 239.45,436.3 239.90,446.0 240.35,455.3 240.80,464.7 241.25,468.2 241.70,467.5 242.15,468.5 242.60,473.3 243.05,473.5 243.50,477.6 243.95,482.8 244.40,478.9 244.85,477.4 245.30,477.8 245.75,476.7 246.20,477.3 246.65,477.8 247.10,480.0 247.55,480.6 248.00,484.3 248.45,482.0 248.90,483.2 249.35,481.3 249.80,489.1 250.25,486.9 250.70,490.7 251.15,488.8 251.60,491.1 252.05,487.5 252.50,490.4 252.95,495.8 253.40,486.9 253.85,493.2 254.30,495.0 254.75,492.5 255.20,493.9 255.65,495.7 256.10,491.6 256.55,494.7 257.00,492.2 257.45,493.2 257.90,493.9 258.35,495.6 258.80,496.8 259.25,498.0 259.70,494.2 260.15,502.5 260.60,501.2 261.05,500.7 261.50,498.7 261.95,499.9 262.40,501.8 262.85,502.0 263.30,497.8 263.75,503.7 264.20,508.9 264.65,499.0 265.10,505.7 265.55,504.8 266.00,504.2 266.45,507.9" fill="none" stroke="#0a0a0a" stroke-width="0.9" stroke-linejoin="round" />
<path d="M46.40,439.8 46.85,397.7 47.30,326.8 47.75,249.2 48.20,238.0 48.65,308.6 49.10,389.7 49.55,443.9 50.00,459.7" fill="none" stroke="#6c767c" stroke-width="1.3" stroke-linejoin="round" />
<path d="M119.30,375.2 119.75,337.6 120.20,296.5 120.65,291.5 121.10,324.7 121.55,359.0 122.00,385.1" fill="none" stroke="#3c4246" stroke-width="1.1" stroke-linejoin="round" />
<line x1="162.6" y1="429.3" x2="162.6" y2="440.4" stroke="#0a0a0a" stroke-width="1.2"/>
</g>
<line x1="23.9" y1="43.3" x2="23.9" y2="521" stroke="#8a9898" stroke-width="1.9"/>
<line x1="23" y1="43.3" x2="273.5" y2="43.3" stroke="#566262" stroke-width="1.3"/>
<line x1="273.5" y1="42.7" x2="273.5" y2="521" stroke="#667272" stroke-width="1.4"/>
<line x1="23.5" y1="281.9" x2="273.5" y2="281.9" stroke="#2c3a8c" stroke-width="1.7"/>
<line x1="23.5" y1="520.4" x2="273.5" y2="520.4" stroke="#3a56c0" stroke-width="1.3"/>
<path d="M25.96,43.3v2 M44.32,43.3v3 M62.68,43.3v2 M81.04,43.3v3 M99.40,43.3v2 M117.76,43.3v3 M136.12,43.3v2 M154.48,43.3v3 M172.84,43.3v2 M191.20,43.3v3 M209.56,43.3v2 M227.92,43.3v3 M246.27,43.3v2 M264.63,43.3v3" stroke="#566262" stroke-width="1"/>
<path d="M46.30,520.4v3 M69.06,520.4v2 M91.83,520.4v3 M114.59,520.4v2 M137.35,520.4v3 M160.11,520.4v2 M182.88,520.4v3 M205.64,520.4v2 M228.40,520.4v3 M251.16,520.4v2" stroke="#3a56c0" stroke-width="1"/>
<path d="M46.30,281.9v3 M69.06,281.9v2 M91.83,281.9v3 M114.59,281.9v2 M137.35,281.9v3 M160.11,281.9v2 M182.88,281.9v3 M205.64,281.9v2 M228.40,281.9v3 M251.16,281.9v2" stroke="#2c3a8c" stroke-width="1"/>
<path d="M278.80,230.5 279.92,230.9 281.03,228.2 282.15,232.8 283.26,232.3 284.38,230.6 285.49,226.7 286.61,228.0 287.72,231.7 288.84,233.1 289.95,230.3 291.07,232.0 292.18,228.4 293.30,229.5 295.00,218.7 297.60,184.1 300.20,132.3 301.10,122.8 301.90,149.6 302.80,192.8 303.70,211.8 304.60,213.5 305.50,211.5 306.40,213.5 308.00,220.4 310.60,225.6 312.50,229.0 315.80,232.5 316.90,232.1 318.01,232.4 319.11,233.1 320.21,229.3 321.32,234.0 322.42,234.6 323.53,229.9 324.63,229.4 325.73,232.6 326.84,230.6 327.94,227.3 329.04,233.3 330.15,232.0 331.25,230.7 332.35,235.6 333.46,231.7 334.56,230.0 335.67,231.5 336.77,229.3 337.87,229.8 338.98,231.9 340.08,230.0 341.18,230.2 342.29,234.1 343.39,232.5 344.49,232.4 345.60,231.8 346.70,231.6 347.81,233.4 348.91,230.6 350.01,234.1 351.12,228.7 352.22,229.9 353.32,227.7 354.43,229.6 355.53,231.2 356.63,232.9 357.74,228.8 358.84,230.0 359.95,229.3 361.05,228.5 362.15,227.6 363.26,229.9 364.36,226.4 365.46,229.8 366.57,229.6 367.67,228.3 368.77,227.5 369.88,226.8 370.98,232.9 372.09,226.7 373.19,232.2 374.29,230.3 375.40,228.4 376.50,229.0 378.20,227.5 380.80,223.7 382.40,219.5 383.40,217.7 384.60,220.0 386.00,222.0 387.30,227.0 388.60,230.6 390.20,233.0 392.00,234.6 393.30,232.6 394.60,236.7 395.90,238.0 397.20,235.0 399.50,232.0 401.50,230.6 402.50,237.0" fill="none" stroke="#0a0a0a" stroke-width="1.15" stroke-linejoin="round"/>
<rect x="278.3" y="116.0" width="124.80000000000001" height="129.5" fill="none" stroke="#3e4646" stroke-width="1.2"/>
<path d="M293.80,245.5v2.5 M309.45,245.5v1.8 M325.10,245.5v2.5 M340.75,245.5v1.8 M356.40,245.5v2.5 M372.05,245.5v1.8 M387.70,245.5v2.5" stroke="#3e4646" stroke-width="1"/>
<path d="M277.90,460.0 279.03,456.8 280.17,458.3 281.30,461.9 282.43,459.3 283.57,463.9 284.70,455.8 285.83,458.7 286.97,452.9 288.10,462.5 289.23,453.6 290.37,448.8 291.50,455.0 292.60,453.5 293.30,432.8 294.20,428.0 295.00,424.1 296.70,401.7 298.50,386.1 299.30,366.2 300.30,378.0 301.10,392.0 301.90,432.8 302.80,444.9 303.60,442.0 304.40,449.0 305.40,448.3 306.70,450.6 308.00,453.1 309.30,461.1 310.60,458.7 312.30,452.0 314.00,467.3 315.80,449.2 316.92,448.3 318.04,449.5 319.15,451.5 320.27,454.6 321.39,449.8 322.51,453.3 323.62,451.9 324.74,449.6 325.86,450.8 326.98,450.9 328.10,448.2 329.21,454.7 330.33,447.1 331.45,454.9 332.57,454.4 333.69,451.4 334.80,449.6 335.92,451.3 337.04,453.6 338.16,454.6 339.27,453.4 340.39,455.6 341.51,451.1 342.63,453.7 343.75,448.4 344.86,455.6 345.98,453.9 347.10,452.4 348.22,457.2 349.34,456.0 350.45,445.6 351.57,454.3 352.69,450.0 353.81,457.7 354.93,462.2 356.04,453.3 357.16,455.2 358.28,454.4 359.40,456.4 360.51,457.4 361.63,459.5 362.75,452.8 363.87,460.7 364.99,453.3 366.10,457.1 367.22,459.9 368.34,458.7 369.46,453.9 370.57,454.8 371.69,455.7 372.81,457.1 373.93,460.8 375.05,453.7 376.16,459.1 377.28,459.7 378.40,458.0 379.30,452.0 380.30,428.0 381.00,405.0 381.70,399.9 382.50,412.0 383.30,432.0 384.30,443.1 385.50,446.0 386.80,451.8 388.50,457.0 390.30,462.2 392.00,468.0 393.80,470.8 394.95,470.2 396.10,467.9 397.25,468.5 398.40,464.0 399.55,462.9 400.70,458.7 402.20,463.0" fill="none" stroke="#0a0a0a" stroke-width="1.15" stroke-linejoin="round"/>
<rect x="277.4" y="354.8" width="125.10000000000002" height="129.2" fill="none" stroke="#3e4646" stroke-width="1.2"/>
<path d="M278.15,484.0v1.8 M293.80,484.0v2.5 M309.45,484.0v1.8 M325.10,484.0v2.5 M340.75,484.0v1.8 M356.40,484.0v2.5 M372.05,484.0v1.8 M387.70,484.0v2.5" stroke="#3e4646" stroke-width="1"/>
<defs>
<radialGradient id="gH" cx="0.38" cy="0.35" r="0.68"><stop offset="0" stop-color="#f2fffb"/><stop offset="0.4" stop-color="#a6f2e2"/><stop offset="0.85" stop-color="#6cc6b4"/><stop offset="1" stop-color="#5aae9e"/></radialGradient>
<radialGradient id="gD" cx="0.4" cy="0.35" r="0.72"><stop offset="0" stop-color="#b4b4b4"/><stop offset="0.35" stop-color="#5c5c5c"/><stop offset="0.8" stop-color="#262626"/><stop offset="1" stop-color="#161616"/></radialGradient>
<radialGradient id="gL" cx="0.4" cy="0.35" r="0.72"><stop offset="0" stop-color="#fafafa"/><stop offset="0.32" stop-color="#b6b6b6"/><stop offset="0.8" stop-color="#7c7c7c"/><stop offset="1" stop-color="#646464"/></radialGradient>
<linearGradient id="tipBody" x1="0" y1="0" x2="1" y2="0">
 <stop offset="0" stop-color="#e84816"/><stop offset="0.04" stop-color="#f06418"/><stop offset="0.12" stop-color="#f8a010"/><stop offset="0.18" stop-color="#fcc808"/><stop offset="0.25" stop-color="#f8ea00"/><stop offset="0.4" stop-color="#f4f200"/><stop offset="0.68" stop-color="#f4f000"/><stop offset="0.76" stop-color="#fcd006"/><stop offset="0.86" stop-color="#f8a412"/><stop offset="0.93" stop-color="#f27618"/><stop offset="1" stop-color="#ec5c18"/></linearGradient>
<linearGradient id="tipV" x1="0" y1="0" x2="0" y2="1">
 <stop offset="0" stop-color="#f8f000" stop-opacity="0"/><stop offset="0.55" stop-color="#f8f000" stop-opacity="0.1"/><stop offset="1" stop-color="#f8f000" stop-opacity="0.85"/></linearGradient>
<linearGradient id="tipTop" x1="0" y1="0" x2="1" y2="0">
 <stop offset="0" stop-color="#f07020"/><stop offset="0.08" stop-color="#f8a020"/><stop offset="0.2" stop-color="#fcc828"/><stop offset="0.5" stop-color="#fde030"/><stop offset="0.8" stop-color="#fcc828"/><stop offset="0.92" stop-color="#f8a020"/><stop offset="1" stop-color="#f07020"/></linearGradient>
<radialGradient id="glow" cx="0.5" cy="0.5" r="0.5"><stop offset="0" stop-color="#ffffff"/><stop offset="0.6" stop-color="#ffffff"/><stop offset="0.78" stop-color="#ffa080"/><stop offset="0.9" stop-color="#f24020"/><stop offset="1" stop-color="#f05a28"/></radialGradient>
<filter id="blur1" x="-50%" y="-50%" width="200%" height="200%"><feGaussianBlur stdDeviation="0.6"/></filter>
</defs>
<circle cx="205.3" cy="701.8" r="4.31" fill="url(#gH)"/>
<circle cx="214.3" cy="700.8" r="4.31" fill="url(#gH)"/>
<circle cx="223.4" cy="699.9" r="4.31" fill="url(#gH)"/>
<circle cx="232.4" cy="698.9" r="4.31" fill="url(#gH)"/>
<circle cx="241.4" cy="698.0" r="4.31" fill="url(#gH)"/>
<circle cx="264.1" cy="700.1" r="4.31" fill="url(#gH)"/>
<circle cx="273.1" cy="699.1" r="4.31" fill="url(#gH)"/>
<circle cx="282.2" cy="698.2" r="4.31" fill="url(#gH)"/>
<circle cx="291.2" cy="697.2" r="4.31" fill="url(#gH)"/>
<circle cx="300.2" cy="696.3" r="4.31" fill="url(#gH)"/>
<circle cx="204.9" cy="698.2" r="5.44" fill="url(#gD)"/>
<circle cx="213.9" cy="697.3" r="5.44" fill="url(#gD)"/>
<circle cx="223.0" cy="696.3" r="5.44" fill="url(#gD)"/>
<circle cx="232.0" cy="695.4" r="5.44" fill="url(#gD)"/>
<circle cx="241.1" cy="694.4" r="5.44" fill="url(#gD)"/>
<circle cx="263.7" cy="696.5" r="5.44" fill="url(#gD)"/>
<circle cx="272.7" cy="695.6" r="5.44" fill="url(#gD)"/>
<circle cx="281.8" cy="694.6" r="5.44" fill="url(#gD)"/>
<circle cx="290.8" cy="693.7" r="5.44" fill="url(#gD)"/>
<circle cx="299.9" cy="692.7" r="5.44" fill="url(#gD)"/>
<circle cx="249.0" cy="693.0" r="4.31" fill="url(#gH)"/>
<circle cx="196.8" cy="698.5" r="4.31" fill="url(#gH)"/>
<circle cx="307.8" cy="691.3" r="4.31" fill="url(#gH)"/>
<circle cx="255.6" cy="696.8" r="4.31" fill="url(#gH)"/>
<circle cx="200.1" cy="696.4" r="5.44" fill="url(#gD)"/>
<circle cx="209.2" cy="695.4" r="5.44" fill="url(#gD)"/>
<circle cx="218.2" cy="694.5" r="5.44" fill="url(#gD)"/>
<circle cx="227.3" cy="693.5" r="5.44" fill="url(#gD)"/>
<circle cx="236.3" cy="692.6" r="5.44" fill="url(#gD)"/>
<circle cx="245.4" cy="691.6" r="5.44" fill="url(#gD)"/>
<circle cx="258.9" cy="694.7" r="5.44" fill="url(#gD)"/>
<circle cx="268.0" cy="693.7" r="5.44" fill="url(#gD)"/>
<circle cx="277.0" cy="692.8" r="5.44" fill="url(#gD)"/>
<circle cx="286.1" cy="691.8" r="5.44" fill="url(#gD)"/>
<circle cx="295.1" cy="690.9" r="5.44" fill="url(#gD)"/>
<circle cx="304.2" cy="689.9" r="5.44" fill="url(#gD)"/>
<circle cx="199.6" cy="691.8" r="5.44" fill="url(#gD)"/>
<circle cx="208.7" cy="690.8" r="5.44" fill="url(#gD)"/>
<circle cx="217.7" cy="689.9" r="5.44" fill="url(#gD)"/>
<circle cx="226.8" cy="688.9" r="5.44" fill="url(#gD)"/>
<circle cx="235.8" cy="688.0" r="5.44" fill="url(#gD)"/>
<circle cx="244.9" cy="687.0" r="5.44" fill="url(#gD)"/>
<circle cx="258.4" cy="690.1" r="5.44" fill="url(#gD)"/>
<circle cx="267.5" cy="689.1" r="5.44" fill="url(#gD)"/>
<circle cx="276.5" cy="688.2" r="5.44" fill="url(#gD)"/>
<circle cx="285.6" cy="687.2" r="5.44" fill="url(#gD)"/>
<circle cx="294.6" cy="686.3" r="5.44" fill="url(#gD)"/>
<circle cx="303.7" cy="685.3" r="5.44" fill="url(#gD)"/>
<circle cx="248.2" cy="684.9" r="4.31" fill="url(#gH)"/>
<circle cx="196.0" cy="690.4" r="4.31" fill="url(#gH)"/>
<circle cx="307.0" cy="683.2" r="4.31" fill="url(#gH)"/>
<circle cx="254.8" cy="688.7" r="4.31" fill="url(#gH)"/>
<circle cx="203.9" cy="689.0" r="5.44" fill="url(#gD)"/>
<circle cx="213.0" cy="688.0" r="5.44" fill="url(#gD)"/>
<circle cx="222.0" cy="687.1" r="5.44" fill="url(#gD)"/>
<circle cx="231.1" cy="686.1" r="5.44" fill="url(#gD)"/>
<circle cx="240.1" cy="685.2" r="5.44" fill="url(#gD)"/>
<circle cx="262.7" cy="687.3" r="5.44" fill="url(#gD)"/>
<circle cx="271.8" cy="686.3" r="5.44" fill="url(#gD)"/>
<circle cx="280.8" cy="685.4" r="5.44" fill="url(#gD)"/>
<circle cx="289.9" cy="684.4" r="5.44" fill="url(#gD)"/>
<circle cx="298.9" cy="683.5" r="5.44" fill="url(#gD)"/>
<circle cx="203.6" cy="685.4" r="4.31" fill="url(#gH)"/>
<circle cx="212.6" cy="684.5" r="4.31" fill="url(#gH)"/>
<circle cx="221.6" cy="683.5" r="4.31" fill="url(#gH)"/>
<circle cx="230.7" cy="682.6" r="4.31" fill="url(#gH)"/>
<circle cx="239.7" cy="681.6" r="4.31" fill="url(#gH)"/>
<circle cx="262.4" cy="683.7" r="4.31" fill="url(#gH)"/>
<circle cx="271.4" cy="682.8" r="4.31" fill="url(#gH)"/>
<circle cx="280.4" cy="681.8" r="4.31" fill="url(#gH)"/>
<circle cx="289.5" cy="680.9" r="4.31" fill="url(#gH)"/>
<circle cx="298.5" cy="679.9" r="4.31" fill="url(#gH)"/>
<circle cx="211.0" cy="705.7" r="4.31" fill="url(#gH)"/>
<circle cx="220.0" cy="704.8" r="4.31" fill="url(#gH)"/>
<circle cx="229.0" cy="703.8" r="4.31" fill="url(#gH)"/>
<circle cx="238.1" cy="702.9" r="4.31" fill="url(#gH)"/>
<circle cx="247.1" cy="701.9" r="4.31" fill="url(#gH)"/>
<circle cx="272.6" cy="703.6" r="4.31" fill="url(#gH)"/>
<circle cx="281.6" cy="702.7" r="4.31" fill="url(#gH)"/>
<circle cx="290.6" cy="701.7" r="4.31" fill="url(#gH)"/>
<circle cx="299.7" cy="700.8" r="4.31" fill="url(#gH)"/>
<circle cx="308.7" cy="699.8" r="4.31" fill="url(#gH)"/>
<circle cx="211.3" cy="709.3" r="5.44" fill="url(#gL)"/>
<circle cx="220.4" cy="708.3" r="5.44" fill="url(#gL)"/>
<circle cx="229.4" cy="707.4" r="5.44" fill="url(#gL)"/>
<circle cx="238.5" cy="706.4" r="5.44" fill="url(#gL)"/>
<circle cx="247.5" cy="705.5" r="5.44" fill="url(#gL)"/>
<circle cx="272.9" cy="707.2" r="5.44" fill="url(#gL)"/>
<circle cx="282.0" cy="706.2" r="5.44" fill="url(#gL)"/>
<circle cx="291.0" cy="705.3" r="5.44" fill="url(#gL)"/>
<circle cx="300.1" cy="704.3" r="5.44" fill="url(#gL)"/>
<circle cx="309.1" cy="703.4" r="5.44" fill="url(#gL)"/>
<circle cx="255.6" cy="705.2" r="4.31" fill="url(#gH)"/>
<circle cx="203.4" cy="710.7" r="4.31" fill="url(#gH)"/>
<circle cx="317.2" cy="703.1" r="4.31" fill="url(#gH)"/>
<circle cx="265.0" cy="708.6" r="4.31" fill="url(#gH)"/>
<circle cx="207.0" cy="712.1" r="5.44" fill="url(#gL)"/>
<circle cx="216.1" cy="711.1" r="5.44" fill="url(#gL)"/>
<circle cx="225.1" cy="710.2" r="5.44" fill="url(#gL)"/>
<circle cx="234.2" cy="709.2" r="5.44" fill="url(#gL)"/>
<circle cx="243.2" cy="708.3" r="5.44" fill="url(#gL)"/>
<circle cx="252.3" cy="707.3" r="5.44" fill="url(#gL)"/>
<circle cx="268.6" cy="710.0" r="5.44" fill="url(#gL)"/>
<circle cx="277.7" cy="709.0" r="5.44" fill="url(#gL)"/>
<circle cx="286.7" cy="708.1" r="5.44" fill="url(#gL)"/>
<circle cx="295.8" cy="707.1" r="5.44" fill="url(#gL)"/>
<circle cx="304.8" cy="706.2" r="5.44" fill="url(#gL)"/>
<circle cx="313.9" cy="705.2" r="5.44" fill="url(#gL)"/>
<circle cx="207.5" cy="716.7" r="5.44" fill="url(#gL)"/>
<circle cx="216.6" cy="715.7" r="5.44" fill="url(#gL)"/>
<circle cx="225.6" cy="714.8" r="5.44" fill="url(#gL)"/>
<circle cx="234.7" cy="713.8" r="5.44" fill="url(#gL)"/>
<circle cx="243.7" cy="712.9" r="5.44" fill="url(#gL)"/>
<circle cx="252.8" cy="711.9" r="5.44" fill="url(#gL)"/>
<circle cx="269.1" cy="714.6" r="5.44" fill="url(#gL)"/>
<circle cx="278.2" cy="713.6" r="5.44" fill="url(#gL)"/>
<circle cx="287.2" cy="712.7" r="5.44" fill="url(#gL)"/>
<circle cx="296.3" cy="711.7" r="5.44" fill="url(#gL)"/>
<circle cx="305.3" cy="710.8" r="5.44" fill="url(#gL)"/>
<circle cx="314.4" cy="709.8" r="5.44" fill="url(#gL)"/>
<circle cx="256.4" cy="713.3" r="4.31" fill="url(#gH)"/>
<circle cx="204.2" cy="718.8" r="4.31" fill="url(#gH)"/>
<circle cx="318.0" cy="711.2" r="4.31" fill="url(#gH)"/>
<circle cx="265.8" cy="716.7" r="4.31" fill="url(#gH)"/>
<circle cx="212.3" cy="718.5" r="5.44" fill="url(#gL)"/>
<circle cx="221.3" cy="717.6" r="5.44" fill="url(#gL)"/>
<circle cx="230.4" cy="716.6" r="5.44" fill="url(#gL)"/>
<circle cx="239.4" cy="715.7" r="5.44" fill="url(#gL)"/>
<circle cx="248.5" cy="714.7" r="5.44" fill="url(#gL)"/>
<circle cx="273.9" cy="716.4" r="5.44" fill="url(#gL)"/>
<circle cx="282.9" cy="715.5" r="5.44" fill="url(#gL)"/>
<circle cx="292.0" cy="714.5" r="5.44" fill="url(#gL)"/>
<circle cx="301.0" cy="713.6" r="5.44" fill="url(#gL)"/>
<circle cx="310.1" cy="712.6" r="5.44" fill="url(#gL)"/>
<circle cx="212.7" cy="722.1" r="4.31" fill="url(#gH)"/>
<circle cx="221.7" cy="721.1" r="4.31" fill="url(#gH)"/>
<circle cx="230.8" cy="720.2" r="4.31" fill="url(#gH)"/>
<circle cx="239.8" cy="719.2" r="4.31" fill="url(#gH)"/>
<circle cx="248.8" cy="718.3" r="4.31" fill="url(#gH)"/>
<circle cx="274.3" cy="720.0" r="4.31" fill="url(#gH)"/>
<circle cx="283.3" cy="719.0" r="4.31" fill="url(#gH)"/>
<circle cx="292.4" cy="718.1" r="4.31" fill="url(#gH)"/>
<circle cx="301.4" cy="717.1" r="4.31" fill="url(#gH)"/>
<circle cx="310.4" cy="716.2" r="4.31" fill="url(#gH)"/>
<circle cx="216.8" cy="745.2" r="4.31" fill="url(#gH)"/>
<circle cx="225.8" cy="744.2" r="4.31" fill="url(#gH)"/>
<circle cx="234.9" cy="743.3" r="4.31" fill="url(#gH)"/>
<circle cx="243.9" cy="742.3" r="4.31" fill="url(#gH)"/>
<circle cx="252.9" cy="741.4" r="4.31" fill="url(#gH)"/>
<circle cx="275.6" cy="741.0" r="4.31" fill="url(#gH)"/>
<circle cx="284.6" cy="740.0" r="4.31" fill="url(#gH)"/>
<circle cx="293.7" cy="739.1" r="4.31" fill="url(#gH)"/>
<circle cx="302.7" cy="738.1" r="4.31" fill="url(#gH)"/>
<circle cx="311.7" cy="737.2" r="4.31" fill="url(#gH)"/>
<circle cx="216.4" cy="741.6" r="5.44" fill="url(#gD)"/>
<circle cx="225.4" cy="740.7" r="5.44" fill="url(#gD)"/>
<circle cx="234.5" cy="739.7" r="5.44" fill="url(#gD)"/>
<circle cx="243.5" cy="738.8" r="5.44" fill="url(#gD)"/>
<circle cx="252.6" cy="737.8" r="5.44" fill="url(#gD)"/>
<circle cx="275.2" cy="737.4" r="5.44" fill="url(#gD)"/>
<circle cx="284.2" cy="736.5" r="5.44" fill="url(#gD)"/>
<circle cx="293.3" cy="735.5" r="5.44" fill="url(#gD)"/>
<circle cx="302.3" cy="734.6" r="5.44" fill="url(#gD)"/>
<circle cx="311.4" cy="733.6" r="5.44" fill="url(#gD)"/>
<circle cx="260.5" cy="736.4" r="4.31" fill="url(#gH)"/>
<circle cx="208.3" cy="741.9" r="4.31" fill="url(#gH)"/>
<circle cx="319.3" cy="732.2" r="4.31" fill="url(#gH)"/>
<circle cx="267.1" cy="737.7" r="4.31" fill="url(#gH)"/>
<circle cx="211.6" cy="739.8" r="5.44" fill="url(#gD)"/>
<circle cx="220.7" cy="738.8" r="5.44" fill="url(#gD)"/>
<circle cx="229.7" cy="737.9" r="5.44" fill="url(#gD)"/>
<circle cx="238.8" cy="736.9" r="5.44" fill="url(#gD)"/>
<circle cx="247.8" cy="736.0" r="5.44" fill="url(#gD)"/>
<circle cx="256.9" cy="735.0" r="5.44" fill="url(#gD)"/>
<circle cx="270.4" cy="735.6" r="5.44" fill="url(#gD)"/>
<circle cx="279.5" cy="734.6" r="5.44" fill="url(#gD)"/>
<circle cx="288.5" cy="733.7" r="5.44" fill="url(#gD)"/>
<circle cx="297.6" cy="732.7" r="5.44" fill="url(#gD)"/>
<circle cx="306.6" cy="731.8" r="5.44" fill="url(#gD)"/>
<circle cx="315.7" cy="730.8" r="5.44" fill="url(#gD)"/>
<circle cx="211.1" cy="735.2" r="5.44" fill="url(#gD)"/>
<circle cx="220.2" cy="734.2" r="5.44" fill="url(#gD)"/>
<circle cx="229.2" cy="733.3" r="5.44" fill="url(#gD)"/>
<circle cx="238.3" cy="732.3" r="5.44" fill="url(#gD)"/>
<circle cx="247.3" cy="731.4" r="5.44" fill="url(#gD)"/>
<circle cx="256.4" cy="730.4" r="5.44" fill="url(#gD)"/>
<circle cx="269.9" cy="731.0" r="5.44" fill="url(#gD)"/>
<circle cx="279.0" cy="730.0" r="5.44" fill="url(#gD)"/>
<circle cx="288.0" cy="729.1" r="5.44" fill="url(#gD)"/>
<circle cx="297.1" cy="728.1" r="5.44" fill="url(#gD)"/>
<circle cx="306.1" cy="727.2" r="5.44" fill="url(#gD)"/>
<circle cx="315.2" cy="726.2" r="5.44" fill="url(#gD)"/>
<circle cx="259.7" cy="728.3" r="4.31" fill="url(#gH)"/>
<circle cx="207.5" cy="733.8" r="4.31" fill="url(#gH)"/>
<circle cx="318.5" cy="724.1" r="4.31" fill="url(#gH)"/>
<circle cx="266.3" cy="729.6" r="4.31" fill="url(#gH)"/>
<circle cx="215.4" cy="732.4" r="5.44" fill="url(#gD)"/>
<circle cx="224.5" cy="731.4" r="5.44" fill="url(#gD)"/>
<circle cx="233.5" cy="730.5" r="5.44" fill="url(#gD)"/>
<circle cx="242.6" cy="729.5" r="5.44" fill="url(#gD)"/>
<circle cx="251.6" cy="728.6" r="5.44" fill="url(#gD)"/>
<circle cx="274.2" cy="728.2" r="5.44" fill="url(#gD)"/>
<circle cx="283.3" cy="727.2" r="5.44" fill="url(#gD)"/>
<circle cx="292.3" cy="726.3" r="5.44" fill="url(#gD)"/>
<circle cx="301.4" cy="725.3" r="5.44" fill="url(#gD)"/>
<circle cx="310.4" cy="724.4" r="5.44" fill="url(#gD)"/>
<circle cx="215.1" cy="728.8" r="4.31" fill="url(#gH)"/>
<circle cx="224.1" cy="727.9" r="4.31" fill="url(#gH)"/>
<circle cx="233.1" cy="726.9" r="4.31" fill="url(#gH)"/>
<circle cx="242.2" cy="726.0" r="4.31" fill="url(#gH)"/>
<circle cx="251.2" cy="725.0" r="4.31" fill="url(#gH)"/>
<circle cx="273.9" cy="724.6" r="4.31" fill="url(#gH)"/>
<circle cx="282.9" cy="723.7" r="4.31" fill="url(#gH)"/>
<circle cx="291.9" cy="722.7" r="4.31" fill="url(#gH)"/>
<circle cx="301.0" cy="721.8" r="4.31" fill="url(#gH)"/>
<circle cx="310.0" cy="720.8" r="4.31" fill="url(#gH)"/>
<circle cx="222.5" cy="747.7" r="4.31" fill="url(#gH)"/>
<circle cx="231.5" cy="746.8" r="4.31" fill="url(#gH)"/>
<circle cx="240.5" cy="745.8" r="4.31" fill="url(#gH)"/>
<circle cx="249.6" cy="744.9" r="4.31" fill="url(#gH)"/>
<circle cx="258.6" cy="743.9" r="4.31" fill="url(#gH)"/>
<circle cx="283.4" cy="745.6" r="4.31" fill="url(#gH)"/>
<circle cx="292.4" cy="744.7" r="4.31" fill="url(#gH)"/>
<circle cx="301.4" cy="743.7" r="4.31" fill="url(#gH)"/>
<circle cx="310.5" cy="742.8" r="4.31" fill="url(#gH)"/>
<circle cx="319.5" cy="741.8" r="4.31" fill="url(#gH)"/>
<circle cx="222.8" cy="751.3" r="5.44" fill="url(#gL)"/>
<circle cx="231.9" cy="750.3" r="5.44" fill="url(#gL)"/>
<circle cx="240.9" cy="749.4" r="5.44" fill="url(#gL)"/>
<circle cx="250.0" cy="748.4" r="5.44" fill="url(#gL)"/>
<circle cx="259.0" cy="747.5" r="5.44" fill="url(#gL)"/>
<circle cx="283.7" cy="749.2" r="5.44" fill="url(#gL)"/>
<circle cx="292.8" cy="748.2" r="5.44" fill="url(#gL)"/>
<circle cx="301.8" cy="747.3" r="5.44" fill="url(#gL)"/>
<circle cx="310.9" cy="746.3" r="5.44" fill="url(#gL)"/>
<circle cx="319.9" cy="745.4" r="5.44" fill="url(#gL)"/>
<circle cx="267.1" cy="747.2" r="4.31" fill="url(#gH)"/>
<circle cx="214.9" cy="752.7" r="4.31" fill="url(#gH)"/>
<circle cx="328.0" cy="745.1" r="4.31" fill="url(#gH)"/>
<circle cx="275.8" cy="750.6" r="4.31" fill="url(#gH)"/>
<circle cx="218.5" cy="754.1" r="5.44" fill="url(#gL)"/>
<circle cx="227.6" cy="753.1" r="5.44" fill="url(#gL)"/>
<circle cx="236.6" cy="752.2" r="5.44" fill="url(#gL)"/>
<circle cx="245.7" cy="751.2" r="5.44" fill="url(#gL)"/>
<circle cx="254.7" cy="750.3" r="5.44" fill="url(#gL)"/>
<circle cx="263.8" cy="749.3" r="5.44" fill="url(#gL)"/>
<circle cx="279.4" cy="752.0" r="5.44" fill="url(#gL)"/>
<circle cx="288.5" cy="751.0" r="5.44" fill="url(#gL)"/>
<circle cx="297.5" cy="750.1" r="5.44" fill="url(#gL)"/>
<circle cx="306.6" cy="749.1" r="5.44" fill="url(#gL)"/>
<circle cx="315.6" cy="748.2" r="5.44" fill="url(#gL)"/>
<circle cx="324.7" cy="747.2" r="5.44" fill="url(#gL)"/>
<circle cx="219.0" cy="758.7" r="5.44" fill="url(#gL)"/>
<circle cx="228.1" cy="757.7" r="5.44" fill="url(#gL)"/>
<circle cx="237.1" cy="756.8" r="5.44" fill="url(#gL)"/>
<circle cx="246.2" cy="755.8" r="5.44" fill="url(#gL)"/>
<circle cx="255.2" cy="754.9" r="5.44" fill="url(#gL)"/>
<circle cx="264.3" cy="753.9" r="5.44" fill="url(#gL)"/>
<circle cx="279.9" cy="756.6" r="5.44" fill="url(#gL)"/>
<circle cx="289.0" cy="755.6" r="5.44" fill="url(#gL)"/>
<circle cx="298.0" cy="754.7" r="5.44" fill="url(#gL)"/>
<circle cx="307.1" cy="753.7" r="5.44" fill="url(#gL)"/>
<circle cx="316.1" cy="752.8" r="5.44" fill="url(#gL)"/>
<circle cx="325.2" cy="751.8" r="5.44" fill="url(#gL)"/>
<circle cx="267.9" cy="755.3" r="4.31" fill="url(#gH)"/>
<circle cx="215.7" cy="760.8" r="4.31" fill="url(#gH)"/>
<circle cx="328.8" cy="753.2" r="4.31" fill="url(#gH)"/>
<circle cx="276.6" cy="758.7" r="4.31" fill="url(#gH)"/>
<circle cx="223.8" cy="760.5" r="5.44" fill="url(#gL)"/>
<circle cx="232.8" cy="759.6" r="5.44" fill="url(#gL)"/>
<circle cx="241.9" cy="758.6" r="5.44" fill="url(#gL)"/>
<circle cx="250.9" cy="757.7" r="5.44" fill="url(#gL)"/>
<circle cx="260.0" cy="756.7" r="5.44" fill="url(#gL)"/>
<circle cx="284.7" cy="758.4" r="5.44" fill="url(#gL)"/>
<circle cx="293.7" cy="757.5" r="5.44" fill="url(#gL)"/>
<circle cx="302.8" cy="756.5" r="5.44" fill="url(#gL)"/>
<circle cx="311.8" cy="755.6" r="5.44" fill="url(#gL)"/>
<circle cx="320.9" cy="754.6" r="5.44" fill="url(#gL)"/>
<circle cx="224.2" cy="764.1" r="4.31" fill="url(#gH)"/>
<circle cx="233.2" cy="763.1" r="4.31" fill="url(#gH)"/>
<circle cx="242.3" cy="762.2" r="4.31" fill="url(#gH)"/>
<circle cx="251.3" cy="761.2" r="4.31" fill="url(#gH)"/>
<circle cx="260.3" cy="760.3" r="4.31" fill="url(#gH)"/>
<circle cx="285.1" cy="762.0" r="4.31" fill="url(#gH)"/>
<circle cx="294.1" cy="761.0" r="4.31" fill="url(#gH)"/>
<circle cx="303.2" cy="760.1" r="4.31" fill="url(#gH)"/>
<circle cx="312.2" cy="759.1" r="4.31" fill="url(#gH)"/>
<circle cx="321.2" cy="758.2" r="4.31" fill="url(#gH)"/>
<circle cx="116.7" cy="816.1" r="4.08" fill="url(#gH)"/>
<circle cx="118.6" cy="807.7" r="4.08" fill="url(#gH)"/>
<circle cx="120.6" cy="799.3" r="4.08" fill="url(#gH)"/>
<circle cx="122.5" cy="790.9" r="4.08" fill="url(#gH)"/>
<circle cx="124.4" cy="782.5" r="4.08" fill="url(#gH)"/>
<circle cx="119.9" cy="816.8" r="5.15" fill="url(#gL)"/>
<circle cx="121.9" cy="808.4" r="5.15" fill="url(#gL)"/>
<circle cx="123.8" cy="800.0" r="5.15" fill="url(#gL)"/>
<circle cx="125.7" cy="791.6" r="5.15" fill="url(#gL)"/>
<circle cx="127.7" cy="783.3" r="5.15" fill="url(#gL)"/>
<circle cx="129.9" cy="775.9" r="4.08" fill="url(#gH)"/>
<circle cx="118.7" cy="824.3" r="4.08" fill="url(#gH)"/>
<circle cx="121.1" cy="821.5" r="5.15" fill="url(#gL)"/>
<circle cx="123.0" cy="813.1" r="5.15" fill="url(#gL)"/>
<circle cx="124.9" cy="804.7" r="5.15" fill="url(#gL)"/>
<circle cx="126.9" cy="796.3" r="5.15" fill="url(#gL)"/>
<circle cx="128.8" cy="787.9" r="5.15" fill="url(#gL)"/>
<circle cx="130.7" cy="779.5" r="5.15" fill="url(#gL)"/>
<circle cx="125.3" cy="822.5" r="5.15" fill="url(#gL)"/>
<circle cx="127.2" cy="814.1" r="5.15" fill="url(#gL)"/>
<circle cx="129.1" cy="805.7" r="5.15" fill="url(#gL)"/>
<circle cx="131.1" cy="797.3" r="5.15" fill="url(#gL)"/>
<circle cx="133.0" cy="788.9" r="5.15" fill="url(#gL)"/>
<circle cx="134.9" cy="780.5" r="5.15" fill="url(#gL)"/>
<circle cx="137.3" cy="777.7" r="4.08" fill="url(#gH)"/>
<circle cx="126.1" cy="826.1" r="4.08" fill="url(#gH)"/>
<circle cx="128.3" cy="818.7" r="5.15" fill="url(#gL)"/>
<circle cx="130.3" cy="810.4" r="5.15" fill="url(#gL)"/>
<circle cx="132.2" cy="802.0" r="5.15" fill="url(#gL)"/>
<circle cx="134.1" cy="793.6" r="5.15" fill="url(#gL)"/>
<circle cx="136.1" cy="785.2" r="5.15" fill="url(#gL)"/>
<circle cx="131.6" cy="819.5" r="4.08" fill="url(#gH)"/>
<circle cx="133.5" cy="811.1" r="4.08" fill="url(#gH)"/>
<circle cx="135.4" cy="802.7" r="4.08" fill="url(#gH)"/>
<circle cx="137.4" cy="794.3" r="4.08" fill="url(#gH)"/>
<circle cx="139.3" cy="785.9" r="4.08" fill="url(#gH)"/>
<circle cx="155.6" cy="819.5" r="4.08" fill="url(#gH)"/>
<circle cx="157.5" cy="811.1" r="4.08" fill="url(#gH)"/>
<circle cx="159.4" cy="802.7" r="4.08" fill="url(#gH)"/>
<circle cx="161.4" cy="794.3" r="4.08" fill="url(#gH)"/>
<circle cx="163.3" cy="785.9" r="4.08" fill="url(#gH)"/>
<circle cx="152.3" cy="818.7" r="5.15" fill="url(#gD)"/>
<circle cx="154.3" cy="810.4" r="5.15" fill="url(#gD)"/>
<circle cx="156.2" cy="802.0" r="5.15" fill="url(#gD)"/>
<circle cx="158.1" cy="793.6" r="5.15" fill="url(#gD)"/>
<circle cx="160.1" cy="785.2" r="5.15" fill="url(#gD)"/>
<circle cx="161.3" cy="777.7" r="4.08" fill="url(#gH)"/>
<circle cx="150.1" cy="826.1" r="4.08" fill="url(#gH)"/>
<circle cx="149.3" cy="822.5" r="5.15" fill="url(#gD)"/>
<circle cx="151.2" cy="814.1" r="5.15" fill="url(#gD)"/>
<circle cx="153.1" cy="805.7" r="5.15" fill="url(#gD)"/>
<circle cx="155.1" cy="797.3" r="5.15" fill="url(#gD)"/>
<circle cx="157.0" cy="788.9" r="5.15" fill="url(#gD)"/>
<circle cx="158.9" cy="780.5" r="5.15" fill="url(#gD)"/>
<circle cx="145.1" cy="821.5" r="5.15" fill="url(#gD)"/>
<circle cx="147.0" cy="813.1" r="5.15" fill="url(#gD)"/>
<circle cx="148.9" cy="804.7" r="5.15" fill="url(#gD)"/>
<circle cx="150.9" cy="796.3" r="5.15" fill="url(#gD)"/>
<circle cx="152.8" cy="787.9" r="5.15" fill="url(#gD)"/>
<circle cx="154.7" cy="779.5" r="5.15" fill="url(#gD)"/>
<circle cx="153.9" cy="775.9" r="4.08" fill="url(#gH)"/>
<circle cx="142.7" cy="824.3" r="4.08" fill="url(#gH)"/>
<circle cx="143.9" cy="816.8" r="5.15" fill="url(#gD)"/>
<circle cx="145.9" cy="808.4" r="5.15" fill="url(#gD)"/>
<circle cx="147.8" cy="800.0" r="5.15" fill="url(#gD)"/>
<circle cx="149.7" cy="791.6" r="5.15" fill="url(#gD)"/>
<circle cx="151.7" cy="783.3" r="5.15" fill="url(#gD)"/>
<circle cx="140.7" cy="816.1" r="4.08" fill="url(#gH)"/>
<circle cx="142.6" cy="807.7" r="4.08" fill="url(#gH)"/>
<circle cx="144.6" cy="799.3" r="4.08" fill="url(#gH)"/>
<circle cx="146.5" cy="790.9" r="4.08" fill="url(#gH)"/>
<circle cx="148.4" cy="782.5" r="4.08" fill="url(#gH)"/>
<circle cx="159.7" cy="816.1" r="4.08" fill="url(#gH)"/>
<circle cx="161.6" cy="807.7" r="4.08" fill="url(#gH)"/>
<circle cx="163.6" cy="799.3" r="4.08" fill="url(#gH)"/>
<circle cx="165.5" cy="790.9" r="4.08" fill="url(#gH)"/>
<circle cx="167.4" cy="782.5" r="4.08" fill="url(#gH)"/>
<circle cx="162.9" cy="816.8" r="5.15" fill="url(#gL)"/>
<circle cx="164.9" cy="808.4" r="5.15" fill="url(#gL)"/>
<circle cx="166.8" cy="800.0" r="5.15" fill="url(#gL)"/>
<circle cx="168.7" cy="791.6" r="5.15" fill="url(#gL)"/>
<circle cx="170.7" cy="783.3" r="5.15" fill="url(#gL)"/>
<circle cx="172.9" cy="775.9" r="4.08" fill="url(#gH)"/>
<circle cx="161.7" cy="824.3" r="4.08" fill="url(#gH)"/>
<circle cx="164.1" cy="821.5" r="5.15" fill="url(#gL)"/>
<circle cx="166.0" cy="813.1" r="5.15" fill="url(#gL)"/>
<circle cx="167.9" cy="804.7" r="5.15" fill="url(#gL)"/>
<circle cx="169.9" cy="796.3" r="5.15" fill="url(#gL)"/>
<circle cx="171.8" cy="787.9" r="5.15" fill="url(#gL)"/>
<circle cx="173.7" cy="779.5" r="5.15" fill="url(#gL)"/>
<circle cx="168.3" cy="822.5" r="5.15" fill="url(#gL)"/>
<circle cx="170.2" cy="814.1" r="5.15" fill="url(#gL)"/>
<circle cx="172.1" cy="805.7" r="5.15" fill="url(#gL)"/>
<circle cx="174.1" cy="797.3" r="5.15" fill="url(#gL)"/>
<circle cx="176.0" cy="788.9" r="5.15" fill="url(#gL)"/>
<circle cx="177.9" cy="780.5" r="5.15" fill="url(#gL)"/>
<circle cx="180.3" cy="777.7" r="4.08" fill="url(#gH)"/>
<circle cx="169.1" cy="826.1" r="4.08" fill="url(#gH)"/>
<circle cx="171.3" cy="818.7" r="5.15" fill="url(#gL)"/>
<circle cx="173.3" cy="810.4" r="5.15" fill="url(#gL)"/>
<circle cx="175.2" cy="802.0" r="5.15" fill="url(#gL)"/>
<circle cx="177.1" cy="793.6" r="5.15" fill="url(#gL)"/>
<circle cx="179.1" cy="785.2" r="5.15" fill="url(#gL)"/>
<circle cx="174.6" cy="819.5" r="4.08" fill="url(#gH)"/>
<circle cx="176.5" cy="811.1" r="4.08" fill="url(#gH)"/>
<circle cx="178.4" cy="802.7" r="4.08" fill="url(#gH)"/>
<circle cx="180.4" cy="794.3" r="4.08" fill="url(#gH)"/>
<circle cx="182.3" cy="785.9" r="4.08" fill="url(#gH)"/>
<circle cx="196.6" cy="819.5" r="4.08" fill="url(#gH)"/>
<circle cx="198.5" cy="811.1" r="4.08" fill="url(#gH)"/>
<circle cx="200.4" cy="802.7" r="4.08" fill="url(#gH)"/>
<circle cx="202.4" cy="794.3" r="4.08" fill="url(#gH)"/>
<circle cx="204.3" cy="785.9" r="4.08" fill="url(#gH)"/>
<circle cx="193.3" cy="818.7" r="5.15" fill="url(#gD)"/>
<circle cx="195.3" cy="810.4" r="5.15" fill="url(#gD)"/>
<circle cx="197.2" cy="802.0" r="5.15" fill="url(#gD)"/>
<circle cx="199.1" cy="793.6" r="5.15" fill="url(#gD)"/>
<circle cx="201.1" cy="785.2" r="5.15" fill="url(#gD)"/>
<circle cx="202.3" cy="777.7" r="4.08" fill="url(#gH)"/>
<circle cx="191.1" cy="826.1" r="4.08" fill="url(#gH)"/>
<circle cx="190.3" cy="822.5" r="5.15" fill="url(#gD)"/>
<circle cx="192.2" cy="814.1" r="5.15" fill="url(#gD)"/>
<circle cx="194.1" cy="805.7" r="5.15" fill="url(#gD)"/>
<circle cx="196.1" cy="797.3" r="5.15" fill="url(#gD)"/>
<circle cx="198.0" cy="788.9" r="5.15" fill="url(#gD)"/>
<circle cx="199.9" cy="780.5" r="5.15" fill="url(#gD)"/>
<circle cx="186.1" cy="821.5" r="5.15" fill="url(#gD)"/>
<circle cx="188.0" cy="813.1" r="5.15" fill="url(#gD)"/>
<circle cx="189.9" cy="804.7" r="5.15" fill="url(#gD)"/>
<circle cx="191.9" cy="796.3" r="5.15" fill="url(#gD)"/>
<circle cx="193.8" cy="787.9" r="5.15" fill="url(#gD)"/>
<circle cx="195.7" cy="779.5" r="5.15" fill="url(#gD)"/>
<circle cx="194.9" cy="775.9" r="4.08" fill="url(#gH)"/>
<circle cx="183.7" cy="824.3" r="4.08" fill="url(#gH)"/>
<circle cx="184.9" cy="816.8" r="5.15" fill="url(#gD)"/>
<circle cx="186.9" cy="808.4" r="5.15" fill="url(#gD)"/>
<circle cx="188.8" cy="800.0" r="5.15" fill="url(#gD)"/>
<circle cx="190.7" cy="791.6" r="5.15" fill="url(#gD)"/>
<circle cx="192.7" cy="783.3" r="5.15" fill="url(#gD)"/>
<circle cx="181.7" cy="816.1" r="4.08" fill="url(#gH)"/>
<circle cx="183.6" cy="807.7" r="4.08" fill="url(#gH)"/>
<circle cx="185.6" cy="799.3" r="4.08" fill="url(#gH)"/>
<circle cx="187.5" cy="790.9" r="4.08" fill="url(#gH)"/>
<circle cx="189.4" cy="782.5" r="4.08" fill="url(#gH)"/>
<circle cx="202.7" cy="816.1" r="4.08" fill="url(#gH)"/>
<circle cx="204.6" cy="807.7" r="4.08" fill="url(#gH)"/>
<circle cx="206.6" cy="799.3" r="4.08" fill="url(#gH)"/>
<circle cx="208.5" cy="790.9" r="4.08" fill="url(#gH)"/>
<circle cx="210.4" cy="782.5" r="4.08" fill="url(#gH)"/>
<circle cx="205.9" cy="816.8" r="5.15" fill="url(#gL)"/>
<circle cx="207.9" cy="808.4" r="5.15" fill="url(#gL)"/>
<circle cx="209.8" cy="800.0" r="5.15" fill="url(#gL)"/>
<circle cx="211.7" cy="791.6" r="5.15" fill="url(#gL)"/>
<circle cx="213.7" cy="783.3" r="5.15" fill="url(#gL)"/>
<circle cx="215.9" cy="775.9" r="4.08" fill="url(#gH)"/>
<circle cx="204.7" cy="824.3" r="4.08" fill="url(#gH)"/>
<circle cx="207.1" cy="821.5" r="5.15" fill="url(#gL)"/>
<circle cx="209.0" cy="813.1" r="5.15" fill="url(#gL)"/>
<circle cx="210.9" cy="804.7" r="5.15" fill="url(#gL)"/>
<circle cx="212.9" cy="796.3" r="5.15" fill="url(#gL)"/>
<circle cx="214.8" cy="787.9" r="5.15" fill="url(#gL)"/>
<circle cx="216.7" cy="779.5" r="5.15" fill="url(#gL)"/>
<circle cx="211.3" cy="822.5" r="5.15" fill="url(#gL)"/>
<circle cx="213.2" cy="814.1" r="5.15" fill="url(#gL)"/>
<circle cx="215.1" cy="805.7" r="5.15" fill="url(#gL)"/>
<circle cx="217.1" cy="797.3" r="5.15" fill="url(#gL)"/>
<circle cx="219.0" cy="788.9" r="5.15" fill="url(#gL)"/>
<circle cx="220.9" cy="780.5" r="5.15" fill="url(#gL)"/>
<circle cx="223.3" cy="777.7" r="4.08" fill="url(#gH)"/>
<circle cx="212.1" cy="826.1" r="4.08" fill="url(#gH)"/>
<circle cx="214.3" cy="818.7" r="5.15" fill="url(#gL)"/>
<circle cx="216.3" cy="810.4" r="5.15" fill="url(#gL)"/>
<circle cx="218.2" cy="802.0" r="5.15" fill="url(#gL)"/>
<circle cx="220.1" cy="793.6" r="5.15" fill="url(#gL)"/>
<circle cx="222.1" cy="785.2" r="5.15" fill="url(#gL)"/>
<circle cx="217.6" cy="819.5" r="4.08" fill="url(#gH)"/>
<circle cx="219.5" cy="811.1" r="4.08" fill="url(#gH)"/>
<circle cx="221.4" cy="802.7" r="4.08" fill="url(#gH)"/>
<circle cx="223.4" cy="794.3" r="4.08" fill="url(#gH)"/>
<circle cx="225.3" cy="785.9" r="4.08" fill="url(#gH)"/>
<circle cx="238.1" cy="819.5" r="4.08" fill="url(#gH)"/>
<circle cx="240.0" cy="811.1" r="4.08" fill="url(#gH)"/>
<circle cx="241.9" cy="802.7" r="4.08" fill="url(#gH)"/>
<circle cx="243.9" cy="794.3" r="4.08" fill="url(#gH)"/>
<circle cx="245.8" cy="785.9" r="4.08" fill="url(#gH)"/>
<circle cx="234.8" cy="818.7" r="5.15" fill="url(#gD)"/>
<circle cx="236.8" cy="810.4" r="5.15" fill="url(#gD)"/>
<circle cx="238.7" cy="802.0" r="5.15" fill="url(#gD)"/>
<circle cx="240.6" cy="793.6" r="5.15" fill="url(#gD)"/>
<circle cx="242.6" cy="785.2" r="5.15" fill="url(#gD)"/>
<circle cx="243.8" cy="777.7" r="4.08" fill="url(#gH)"/>
<circle cx="232.6" cy="826.1" r="4.08" fill="url(#gH)"/>
<circle cx="231.8" cy="822.5" r="5.15" fill="url(#gD)"/>
<circle cx="233.7" cy="814.1" r="5.15" fill="url(#gD)"/>
<circle cx="235.6" cy="805.7" r="5.15" fill="url(#gD)"/>
<circle cx="237.6" cy="797.3" r="5.15" fill="url(#gD)"/>
<circle cx="239.5" cy="788.9" r="5.15" fill="url(#gD)"/>
<circle cx="241.4" cy="780.5" r="5.15" fill="url(#gD)"/>
<circle cx="227.6" cy="821.5" r="5.15" fill="url(#gD)"/>
<circle cx="229.5" cy="813.1" r="5.15" fill="url(#gD)"/>
<circle cx="231.4" cy="804.7" r="5.15" fill="url(#gD)"/>
<circle cx="233.4" cy="796.3" r="5.15" fill="url(#gD)"/>
<circle cx="235.3" cy="787.9" r="5.15" fill="url(#gD)"/>
<circle cx="237.2" cy="779.5" r="5.15" fill="url(#gD)"/>
<circle cx="236.4" cy="775.9" r="4.08" fill="url(#gH)"/>
<circle cx="225.2" cy="824.3" r="4.08" fill="url(#gH)"/>
<circle cx="226.4" cy="816.8" r="5.15" fill="url(#gD)"/>
<circle cx="228.4" cy="808.4" r="5.15" fill="url(#gD)"/>
<circle cx="230.3" cy="800.0" r="5.15" fill="url(#gD)"/>
<circle cx="232.2" cy="791.6" r="5.15" fill="url(#gD)"/>
<circle cx="234.2" cy="783.3" r="5.15" fill="url(#gD)"/>
<circle cx="223.2" cy="816.1" r="4.08" fill="url(#gH)"/>
<circle cx="225.1" cy="807.7" r="4.08" fill="url(#gH)"/>
<circle cx="227.1" cy="799.3" r="4.08" fill="url(#gH)"/>
<circle cx="229.0" cy="790.9" r="4.08" fill="url(#gH)"/>
<circle cx="230.9" cy="782.5" r="4.08" fill="url(#gH)"/>
<circle cx="259.6" cy="819.5" r="4.08" fill="url(#gH)"/>
<circle cx="261.5" cy="811.1" r="4.08" fill="url(#gH)"/>
<circle cx="263.4" cy="802.7" r="4.08" fill="url(#gH)"/>
<circle cx="265.4" cy="794.3" r="4.08" fill="url(#gH)"/>
<circle cx="267.3" cy="785.9" r="4.08" fill="url(#gH)"/>
<circle cx="256.3" cy="818.7" r="5.15" fill="url(#gD)"/>
<circle cx="258.3" cy="810.4" r="5.15" fill="url(#gD)"/>
<circle cx="260.2" cy="802.0" r="5.15" fill="url(#gD)"/>
<circle cx="262.1" cy="793.6" r="5.15" fill="url(#gD)"/>
<circle cx="264.1" cy="785.2" r="5.15" fill="url(#gD)"/>
<circle cx="265.3" cy="777.7" r="4.08" fill="url(#gH)"/>
<circle cx="254.1" cy="826.1" r="4.08" fill="url(#gH)"/>
<circle cx="253.3" cy="822.5" r="5.15" fill="url(#gD)"/>
<circle cx="255.2" cy="814.1" r="5.15" fill="url(#gD)"/>
<circle cx="257.1" cy="805.7" r="5.15" fill="url(#gD)"/>
<circle cx="259.1" cy="797.3" r="5.15" fill="url(#gD)"/>
<circle cx="261.0" cy="788.9" r="5.15" fill="url(#gD)"/>
<circle cx="262.9" cy="780.5" r="5.15" fill="url(#gD)"/>
<circle cx="249.1" cy="821.5" r="5.15" fill="url(#gD)"/>
<circle cx="251.0" cy="813.1" r="5.15" fill="url(#gD)"/>
<circle cx="252.9" cy="804.7" r="5.15" fill="url(#gD)"/>
<circle cx="254.9" cy="796.3" r="5.15" fill="url(#gD)"/>
<circle cx="256.8" cy="787.9" r="5.15" fill="url(#gD)"/>
<circle cx="258.7" cy="779.5" r="5.15" fill="url(#gD)"/>
<circle cx="257.9" cy="775.9" r="4.08" fill="url(#gH)"/>
<circle cx="246.7" cy="824.3" r="4.08" fill="url(#gH)"/>
<circle cx="247.9" cy="816.8" r="5.15" fill="url(#gD)"/>
<circle cx="249.9" cy="808.4" r="5.15" fill="url(#gD)"/>
<circle cx="251.8" cy="800.0" r="5.15" fill="url(#gD)"/>
<circle cx="253.7" cy="791.6" r="5.15" fill="url(#gD)"/>
<circle cx="255.7" cy="783.3" r="5.15" fill="url(#gD)"/>
<circle cx="244.7" cy="816.1" r="4.08" fill="url(#gH)"/>
<circle cx="246.6" cy="807.7" r="4.08" fill="url(#gH)"/>
<circle cx="248.6" cy="799.3" r="4.08" fill="url(#gH)"/>
<circle cx="250.5" cy="790.9" r="4.08" fill="url(#gH)"/>
<circle cx="252.4" cy="782.5" r="4.08" fill="url(#gH)"/>
<circle cx="264.2" cy="816.1" r="4.08" fill="url(#gH)"/>
<circle cx="266.1" cy="807.7" r="4.08" fill="url(#gH)"/>
<circle cx="268.1" cy="799.3" r="4.08" fill="url(#gH)"/>
<circle cx="270.0" cy="790.9" r="4.08" fill="url(#gH)"/>
<circle cx="271.9" cy="782.5" r="4.08" fill="url(#gH)"/>
<circle cx="267.4" cy="816.8" r="5.15" fill="url(#gL)"/>
<circle cx="269.4" cy="808.4" r="5.15" fill="url(#gL)"/>
<circle cx="271.3" cy="800.0" r="5.15" fill="url(#gL)"/>
<circle cx="273.2" cy="791.6" r="5.15" fill="url(#gL)"/>
<circle cx="275.2" cy="783.3" r="5.15" fill="url(#gL)"/>
<circle cx="277.4" cy="775.9" r="4.08" fill="url(#gH)"/>
<circle cx="266.2" cy="824.3" r="4.08" fill="url(#gH)"/>
<circle cx="268.6" cy="821.5" r="5.15" fill="url(#gL)"/>
<circle cx="270.5" cy="813.1" r="5.15" fill="url(#gL)"/>
<circle cx="272.4" cy="804.7" r="5.15" fill="url(#gL)"/>
<circle cx="274.4" cy="796.3" r="5.15" fill="url(#gL)"/>
<circle cx="276.3" cy="787.9" r="5.15" fill="url(#gL)"/>
<circle cx="278.2" cy="779.5" r="5.15" fill="url(#gL)"/>
<circle cx="272.8" cy="822.5" r="5.15" fill="url(#gL)"/>
<circle cx="274.7" cy="814.1" r="5.15" fill="url(#gL)"/>
<circle cx="276.6" cy="805.7" r="5.15" fill="url(#gL)"/>
<circle cx="278.6" cy="797.3" r="5.15" fill="url(#gL)"/>
<circle cx="280.5" cy="788.9" r="5.15" fill="url(#gL)"/>
<circle cx="282.4" cy="780.5" r="5.15" fill="url(#gL)"/>
<circle cx="284.8" cy="777.7" r="4.08" fill="url(#gH)"/>
<circle cx="273.6" cy="826.1" r="4.08" fill="url(#gH)"/>
<circle cx="275.8" cy="818.7" r="5.15" fill="url(#gL)"/>
<circle cx="277.8" cy="810.4" r="5.15" fill="url(#gL)"/>
<circle cx="279.7" cy="802.0" r="5.15" fill="url(#gL)"/>
<circle cx="281.6" cy="793.6" r="5.15" fill="url(#gL)"/>
<circle cx="283.6" cy="785.2" r="5.15" fill="url(#gL)"/>
<circle cx="279.1" cy="819.5" r="4.08" fill="url(#gH)"/>
<circle cx="281.0" cy="811.1" r="4.08" fill="url(#gH)"/>
<circle cx="282.9" cy="802.7" r="4.08" fill="url(#gH)"/>
<circle cx="284.9" cy="794.3" r="4.08" fill="url(#gH)"/>
<circle cx="286.8" cy="785.9" r="4.08" fill="url(#gH)"/>
<circle cx="301.6" cy="819.5" r="4.08" fill="url(#gH)"/>
<circle cx="303.5" cy="811.1" r="4.08" fill="url(#gH)"/>
<circle cx="305.4" cy="802.7" r="4.08" fill="url(#gH)"/>
<circle cx="307.4" cy="794.3" r="4.08" fill="url(#gH)"/>
<circle cx="309.3" cy="785.9" r="4.08" fill="url(#gH)"/>
<circle cx="298.3" cy="818.7" r="5.15" fill="url(#gD)"/>
<circle cx="300.3" cy="810.4" r="5.15" fill="url(#gD)"/>
<circle cx="302.2" cy="802.0" r="5.15" fill="url(#gD)"/>
<circle cx="304.1" cy="793.6" r="5.15" fill="url(#gD)"/>
<circle cx="306.1" cy="785.2" r="5.15" fill="url(#gD)"/>
<circle cx="307.3" cy="777.7" r="4.08" fill="url(#gH)"/>
<circle cx="296.1" cy="826.1" r="4.08" fill="url(#gH)"/>
<circle cx="295.3" cy="822.5" r="5.15" fill="url(#gD)"/>
<circle cx="297.2" cy="814.1" r="5.15" fill="url(#gD)"/>
<circle cx="299.1" cy="805.7" r="5.15" fill="url(#gD)"/>
<circle cx="301.1" cy="797.3" r="5.15" fill="url(#gD)"/>
<circle cx="303.0" cy="788.9" r="5.15" fill="url(#gD)"/>
<circle cx="304.9" cy="780.5" r="5.15" fill="url(#gD)"/>
<circle cx="291.1" cy="821.5" r="5.15" fill="url(#gD)"/>
<circle cx="293.0" cy="813.1" r="5.15" fill="url(#gD)"/>
<circle cx="294.9" cy="804.7" r="5.15" fill="url(#gD)"/>
<circle cx="296.9" cy="796.3" r="5.15" fill="url(#gD)"/>
<circle cx="298.8" cy="787.9" r="5.15" fill="url(#gD)"/>
<circle cx="300.7" cy="779.5" r="5.15" fill="url(#gD)"/>
<circle cx="299.9" cy="775.9" r="4.08" fill="url(#gH)"/>
<circle cx="288.7" cy="824.3" r="4.08" fill="url(#gH)"/>
<circle cx="289.9" cy="816.8" r="5.15" fill="url(#gD)"/>
<circle cx="291.9" cy="808.4" r="5.15" fill="url(#gD)"/>
<circle cx="293.8" cy="800.0" r="5.15" fill="url(#gD)"/>
<circle cx="295.7" cy="791.6" r="5.15" fill="url(#gD)"/>
<circle cx="297.7" cy="783.3" r="5.15" fill="url(#gD)"/>
<circle cx="286.7" cy="816.1" r="4.08" fill="url(#gH)"/>
<circle cx="288.6" cy="807.7" r="4.08" fill="url(#gH)"/>
<circle cx="290.6" cy="799.3" r="4.08" fill="url(#gH)"/>
<circle cx="292.5" cy="790.9" r="4.08" fill="url(#gH)"/>
<circle cx="294.4" cy="782.5" r="4.08" fill="url(#gH)"/>
<circle cx="307.2" cy="816.1" r="4.08" fill="url(#gH)"/>
<circle cx="309.1" cy="807.7" r="4.08" fill="url(#gH)"/>
<circle cx="311.1" cy="799.3" r="4.08" fill="url(#gH)"/>
<circle cx="313.0" cy="790.9" r="4.08" fill="url(#gH)"/>
<circle cx="314.9" cy="782.5" r="4.08" fill="url(#gH)"/>
<circle cx="310.4" cy="816.8" r="5.15" fill="url(#gL)"/>
<circle cx="312.4" cy="808.4" r="5.15" fill="url(#gL)"/>
<circle cx="314.3" cy="800.0" r="5.15" fill="url(#gL)"/>
<circle cx="316.2" cy="791.6" r="5.15" fill="url(#gL)"/>
<circle cx="318.2" cy="783.3" r="5.15" fill="url(#gL)"/>
<circle cx="320.4" cy="775.9" r="4.08" fill="url(#gH)"/>
<circle cx="309.2" cy="824.3" r="4.08" fill="url(#gH)"/>
<circle cx="311.6" cy="821.5" r="5.15" fill="url(#gL)"/>
<circle cx="313.5" cy="813.1" r="5.15" fill="url(#gL)"/>
<circle cx="315.4" cy="804.7" r="5.15" fill="url(#gL)"/>
<circle cx="317.4" cy="796.3" r="5.15" fill="url(#gL)"/>
<circle cx="319.3" cy="787.9" r="5.15" fill="url(#gL)"/>
<circle cx="321.2" cy="779.5" r="5.15" fill="url(#gL)"/>
<circle cx="315.8" cy="822.5" r="5.15" fill="url(#gL)"/>
<circle cx="317.7" cy="814.1" r="5.15" fill="url(#gL)"/>
<circle cx="319.6" cy="805.7" r="5.15" fill="url(#gL)"/>
<circle cx="321.6" cy="797.3" r="5.15" fill="url(#gL)"/>
<circle cx="323.5" cy="788.9" r="5.15" fill="url(#gL)"/>
<circle cx="325.4" cy="780.5" r="5.15" fill="url(#gL)"/>
<circle cx="327.8" cy="777.7" r="4.08" fill="url(#gH)"/>
<circle cx="316.6" cy="826.1" r="4.08" fill="url(#gH)"/>
<circle cx="318.8" cy="818.7" r="5.15" fill="url(#gL)"/>
<circle cx="320.8" cy="810.4" r="5.15" fill="url(#gL)"/>
<circle cx="322.7" cy="802.0" r="5.15" fill="url(#gL)"/>
<circle cx="324.6" cy="793.6" r="5.15" fill="url(#gL)"/>
<circle cx="326.6" cy="785.2" r="5.15" fill="url(#gL)"/>
<circle cx="322.1" cy="819.5" r="4.08" fill="url(#gH)"/>
<circle cx="324.0" cy="811.1" r="4.08" fill="url(#gH)"/>
<circle cx="325.9" cy="802.7" r="4.08" fill="url(#gH)"/>
<circle cx="327.9" cy="794.3" r="4.08" fill="url(#gH)"/>
<circle cx="329.8" cy="785.9" r="4.08" fill="url(#gH)"/>
<circle cx="98.7" cy="877.0" r="4.08" fill="url(#gH)"/>
<circle cx="100.6" cy="868.6" r="4.08" fill="url(#gH)"/>
<circle cx="102.5" cy="860.2" r="4.08" fill="url(#gH)"/>
<circle cx="104.5" cy="851.8" r="4.08" fill="url(#gH)"/>
<circle cx="106.4" cy="843.4" r="4.08" fill="url(#gH)"/>
<circle cx="95.4" cy="876.2" r="5.15" fill="url(#gD)"/>
<circle cx="97.4" cy="867.9" r="5.15" fill="url(#gD)"/>
<circle cx="99.3" cy="859.5" r="5.15" fill="url(#gD)"/>
<circle cx="101.2" cy="851.1" r="5.15" fill="url(#gD)"/>
<circle cx="103.2" cy="842.7" r="5.15" fill="url(#gD)"/>
<circle cx="104.4" cy="835.2" r="4.08" fill="url(#gH)"/>
<circle cx="93.2" cy="883.6" r="4.08" fill="url(#gH)"/>
<circle cx="92.4" cy="880.0" r="5.15" fill="url(#gD)"/>
<circle cx="94.3" cy="871.6" r="5.15" fill="url(#gD)"/>
<circle cx="96.2" cy="863.2" r="5.15" fill="url(#gD)"/>
<circle cx="98.2" cy="854.8" r="5.15" fill="url(#gD)"/>
<circle cx="100.1" cy="846.4" r="5.15" fill="url(#gD)"/>
<circle cx="102.0" cy="838.0" r="5.15" fill="url(#gD)"/>
<circle cx="88.2" cy="879.0" r="5.15" fill="url(#gD)"/>
<circle cx="90.1" cy="870.6" r="5.15" fill="url(#gD)"/>
<circle cx="92.0" cy="862.2" r="5.15" fill="url(#gD)"/>
<circle cx="94.0" cy="853.8" r="5.15" fill="url(#gD)"/>
<circle cx="95.9" cy="845.4" r="5.15" fill="url(#gD)"/>
<circle cx="97.8" cy="837.0" r="5.15" fill="url(#gD)"/>
<circle cx="97.0" cy="833.4" r="4.08" fill="url(#gH)"/>
<circle cx="85.8" cy="881.8" r="4.08" fill="url(#gH)"/>
<circle cx="87.0" cy="874.3" r="5.15" fill="url(#gD)"/>
<circle cx="89.0" cy="865.9" r="5.15" fill="url(#gD)"/>
<circle cx="90.9" cy="857.5" r="5.15" fill="url(#gD)"/>
<circle cx="92.8" cy="849.1" r="5.15" fill="url(#gD)"/>
<circle cx="94.8" cy="840.8" r="5.15" fill="url(#gD)"/>
<circle cx="83.8" cy="873.6" r="4.08" fill="url(#gH)"/>
<circle cx="85.7" cy="865.2" r="4.08" fill="url(#gH)"/>
<circle cx="87.7" cy="856.8" r="4.08" fill="url(#gH)"/>
<circle cx="89.6" cy="848.4" r="4.08" fill="url(#gH)"/>
<circle cx="91.5" cy="840.0" r="4.08" fill="url(#gH)"/>
<circle cx="104.7" cy="873.6" r="4.08" fill="url(#gH)"/>
<circle cx="106.6" cy="865.2" r="4.08" fill="url(#gH)"/>
<circle cx="108.6" cy="856.8" r="4.08" fill="url(#gH)"/>
<circle cx="110.5" cy="848.4" r="4.08" fill="url(#gH)"/>
<circle cx="112.4" cy="840.0" r="4.08" fill="url(#gH)"/>
<circle cx="107.9" cy="874.3" r="5.15" fill="url(#gL)"/>
<circle cx="109.9" cy="865.9" r="5.15" fill="url(#gL)"/>
<circle cx="111.8" cy="857.5" r="5.15" fill="url(#gL)"/>
<circle cx="113.7" cy="849.1" r="5.15" fill="url(#gL)"/>
<circle cx="115.7" cy="840.8" r="5.15" fill="url(#gL)"/>
<circle cx="117.9" cy="833.4" r="4.08" fill="url(#gH)"/>
<circle cx="106.7" cy="881.8" r="4.08" fill="url(#gH)"/>
<circle cx="109.1" cy="879.0" r="5.15" fill="url(#gL)"/>
<circle cx="111.0" cy="870.6" r="5.15" fill="url(#gL)"/>
<circle cx="112.9" cy="862.2" r="5.15" fill="url(#gL)"/>
<circle cx="114.9" cy="853.8" r="5.15" fill="url(#gL)"/>
<circle cx="116.8" cy="845.4" r="5.15" fill="url(#gL)"/>
<circle cx="118.7" cy="837.0" r="5.15" fill="url(#gL)"/>
<circle cx="113.3" cy="880.0" r="5.15" fill="url(#gL)"/>
<circle cx="115.2" cy="871.6" r="5.15" fill="url(#gL)"/>
<circle cx="117.1" cy="863.2" r="5.15" fill="url(#gL)"/>
<circle cx="119.1" cy="854.8" r="5.15" fill="url(#gL)"/>
<circle cx="121.0" cy="846.4" r="5.15" fill="url(#gL)"/>
<circle cx="122.9" cy="838.0" r="5.15" fill="url(#gL)"/>
<circle cx="125.3" cy="835.2" r="4.08" fill="url(#gH)"/>
<circle cx="114.1" cy="883.6" r="4.08" fill="url(#gH)"/>
<circle cx="116.3" cy="876.2" r="5.15" fill="url(#gL)"/>
<circle cx="118.3" cy="867.9" r="5.15" fill="url(#gL)"/>
<circle cx="120.2" cy="859.5" r="5.15" fill="url(#gL)"/>
<circle cx="122.1" cy="851.1" r="5.15" fill="url(#gL)"/>
<circle cx="124.1" cy="842.7" r="5.15" fill="url(#gL)"/>
<circle cx="119.6" cy="877.0" r="4.08" fill="url(#gH)"/>
<circle cx="121.5" cy="868.6" r="4.08" fill="url(#gH)"/>
<circle cx="123.4" cy="860.2" r="4.08" fill="url(#gH)"/>
<circle cx="125.4" cy="851.8" r="4.08" fill="url(#gH)"/>
<circle cx="127.3" cy="843.4" r="4.08" fill="url(#gH)"/>
<circle cx="140.5" cy="877.0" r="4.08" fill="url(#gH)"/>
<circle cx="142.4" cy="868.6" r="4.08" fill="url(#gH)"/>
<circle cx="144.3" cy="860.2" r="4.08" fill="url(#gH)"/>
<circle cx="146.3" cy="851.8" r="4.08" fill="url(#gH)"/>
<circle cx="148.2" cy="843.4" r="4.08" fill="url(#gH)"/>
<circle cx="137.2" cy="876.2" r="5.15" fill="url(#gD)"/>
<circle cx="139.2" cy="867.9" r="5.15" fill="url(#gD)"/>
<circle cx="141.1" cy="859.5" r="5.15" fill="url(#gD)"/>
<circle cx="143.0" cy="851.1" r="5.15" fill="url(#gD)"/>
<circle cx="145.0" cy="842.7" r="5.15" fill="url(#gD)"/>
<circle cx="146.2" cy="835.2" r="4.08" fill="url(#gH)"/>
<circle cx="135.0" cy="883.6" r="4.08" fill="url(#gH)"/>
<circle cx="134.2" cy="880.0" r="5.15" fill="url(#gD)"/>
<circle cx="136.1" cy="871.6" r="5.15" fill="url(#gD)"/>
<circle cx="138.0" cy="863.2" r="5.15" fill="url(#gD)"/>
<circle cx="140.0" cy="854.8" r="5.15" fill="url(#gD)"/>
<circle cx="141.9" cy="846.4" r="5.15" fill="url(#gD)"/>
<circle cx="143.8" cy="838.0" r="5.15" fill="url(#gD)"/>
<circle cx="130.0" cy="879.0" r="5.15" fill="url(#gD)"/>
<circle cx="131.9" cy="870.6" r="5.15" fill="url(#gD)"/>
<circle cx="133.8" cy="862.2" r="5.15" fill="url(#gD)"/>
<circle cx="135.8" cy="853.8" r="5.15" fill="url(#gD)"/>
<circle cx="137.7" cy="845.4" r="5.15" fill="url(#gD)"/>
<circle cx="139.6" cy="837.0" r="5.15" fill="url(#gD)"/>
<circle cx="138.8" cy="833.4" r="4.08" fill="url(#gH)"/>
<circle cx="127.6" cy="881.8" r="4.08" fill="url(#gH)"/>
<circle cx="128.8" cy="874.3" r="5.15" fill="url(#gD)"/>
<circle cx="130.8" cy="865.9" r="5.15" fill="url(#gD)"/>
<circle cx="132.7" cy="857.5" r="5.15" fill="url(#gD)"/>
<circle cx="134.6" cy="849.1" r="5.15" fill="url(#gD)"/>
<circle cx="136.6" cy="840.8" r="5.15" fill="url(#gD)"/>
<circle cx="125.6" cy="873.6" r="4.08" fill="url(#gH)"/>
<circle cx="127.5" cy="865.2" r="4.08" fill="url(#gH)"/>
<circle cx="129.5" cy="856.8" r="4.08" fill="url(#gH)"/>
<circle cx="131.4" cy="848.4" r="4.08" fill="url(#gH)"/>
<circle cx="133.3" cy="840.0" r="4.08" fill="url(#gH)"/>
<circle cx="146.4" cy="873.6" r="4.08" fill="url(#gH)"/>
<circle cx="148.3" cy="865.2" r="4.08" fill="url(#gH)"/>
<circle cx="150.3" cy="856.8" r="4.08" fill="url(#gH)"/>
<circle cx="152.2" cy="848.4" r="4.08" fill="url(#gH)"/>
<circle cx="154.1" cy="840.0" r="4.08" fill="url(#gH)"/>
<circle cx="149.6" cy="874.3" r="5.15" fill="url(#gL)"/>
<circle cx="151.6" cy="865.9" r="5.15" fill="url(#gL)"/>
<circle cx="153.5" cy="857.5" r="5.15" fill="url(#gL)"/>
<circle cx="155.4" cy="849.1" r="5.15" fill="url(#gL)"/>
<circle cx="157.4" cy="840.8" r="5.15" fill="url(#gL)"/>
<circle cx="159.6" cy="833.4" r="4.08" fill="url(#gH)"/>
<circle cx="148.4" cy="881.8" r="4.08" fill="url(#gH)"/>
<circle cx="150.8" cy="879.0" r="5.15" fill="url(#gL)"/>
<circle cx="152.7" cy="870.6" r="5.15" fill="url(#gL)"/>
<circle cx="154.6" cy="862.2" r="5.15" fill="url(#gL)"/>
<circle cx="156.6" cy="853.8" r="5.15" fill="url(#gL)"/>
<circle cx="158.5" cy="845.4" r="5.15" fill="url(#gL)"/>
<circle cx="160.4" cy="837.0" r="5.15" fill="url(#gL)"/>
<circle cx="155.0" cy="880.0" r="5.15" fill="url(#gL)"/>
<circle cx="156.9" cy="871.6" r="5.15" fill="url(#gL)"/>
<circle cx="158.8" cy="863.2" r="5.15" fill="url(#gL)"/>
<circle cx="160.8" cy="854.8" r="5.15" fill="url(#gL)"/>
<circle cx="162.7" cy="846.4" r="5.15" fill="url(#gL)"/>
<circle cx="164.6" cy="838.0" r="5.15" fill="url(#gL)"/>
<circle cx="167.0" cy="835.2" r="4.08" fill="url(#gH)"/>
<circle cx="155.8" cy="883.6" r="4.08" fill="url(#gH)"/>
<circle cx="158.0" cy="876.2" r="5.15" fill="url(#gL)"/>
<circle cx="160.0" cy="867.9" r="5.15" fill="url(#gL)"/>
<circle cx="161.9" cy="859.5" r="5.15" fill="url(#gL)"/>
<circle cx="163.8" cy="851.1" r="5.15" fill="url(#gL)"/>
<circle cx="165.8" cy="842.7" r="5.15" fill="url(#gL)"/>
<circle cx="161.3" cy="877.0" r="4.08" fill="url(#gH)"/>
<circle cx="163.2" cy="868.6" r="4.08" fill="url(#gH)"/>
<circle cx="165.1" cy="860.2" r="4.08" fill="url(#gH)"/>
<circle cx="167.1" cy="851.8" r="4.08" fill="url(#gH)"/>
<circle cx="169.0" cy="843.4" r="4.08" fill="url(#gH)"/>
<circle cx="183.8" cy="877.0" r="4.08" fill="url(#gH)"/>
<circle cx="185.7" cy="868.6" r="4.08" fill="url(#gH)"/>
<circle cx="187.6" cy="860.2" r="4.08" fill="url(#gH)"/>
<circle cx="189.6" cy="851.8" r="4.08" fill="url(#gH)"/>
<circle cx="191.5" cy="843.4" r="4.08" fill="url(#gH)"/>
<circle cx="180.5" cy="876.2" r="5.15" fill="url(#gD)"/>
<circle cx="182.5" cy="867.9" r="5.15" fill="url(#gD)"/>
<circle cx="184.4" cy="859.5" r="5.15" fill="url(#gD)"/>
<circle cx="186.3" cy="851.1" r="5.15" fill="url(#gD)"/>
<circle cx="188.3" cy="842.7" r="5.15" fill="url(#gD)"/>
<circle cx="189.5" cy="835.2" r="4.08" fill="url(#gH)"/>
<circle cx="178.3" cy="883.6" r="4.08" fill="url(#gH)"/>
<circle cx="177.5" cy="880.0" r="5.15" fill="url(#gD)"/>
<circle cx="179.4" cy="871.6" r="5.15" fill="url(#gD)"/>
<circle cx="181.3" cy="863.2" r="5.15" fill="url(#gD)"/>
<circle cx="183.3" cy="854.8" r="5.15" fill="url(#gD)"/>
<circle cx="185.2" cy="846.4" r="5.15" fill="url(#gD)"/>
<circle cx="187.1" cy="838.0" r="5.15" fill="url(#gD)"/>
<circle cx="173.3" cy="879.0" r="5.15" fill="url(#gD)"/>
<circle cx="175.2" cy="870.6" r="5.15" fill="url(#gD)"/>
<circle cx="177.1" cy="862.2" r="5.15" fill="url(#gD)"/>
<circle cx="179.1" cy="853.8" r="5.15" fill="url(#gD)"/>
<circle cx="181.0" cy="845.4" r="5.15" fill="url(#gD)"/>
<circle cx="182.9" cy="837.0" r="5.15" fill="url(#gD)"/>
<circle cx="182.1" cy="833.4" r="4.08" fill="url(#gH)"/>
<circle cx="170.9" cy="881.8" r="4.08" fill="url(#gH)"/>
<circle cx="172.1" cy="874.3" r="5.15" fill="url(#gD)"/>
<circle cx="174.1" cy="865.9" r="5.15" fill="url(#gD)"/>
<circle cx="176.0" cy="857.5" r="5.15" fill="url(#gD)"/>
<circle cx="177.9" cy="849.1" r="5.15" fill="url(#gD)"/>
<circle cx="179.9" cy="840.8" r="5.15" fill="url(#gD)"/>
<circle cx="168.9" cy="873.6" r="4.08" fill="url(#gH)"/>
<circle cx="170.8" cy="865.2" r="4.08" fill="url(#gH)"/>
<circle cx="172.8" cy="856.8" r="4.08" fill="url(#gH)"/>
<circle cx="174.7" cy="848.4" r="4.08" fill="url(#gH)"/>
<circle cx="176.6" cy="840.0" r="4.08" fill="url(#gH)"/>
<circle cx="189.8" cy="873.6" r="4.08" fill="url(#gH)"/>
<circle cx="191.7" cy="865.2" r="4.08" fill="url(#gH)"/>
<circle cx="193.7" cy="856.8" r="4.08" fill="url(#gH)"/>
<circle cx="195.6" cy="848.4" r="4.08" fill="url(#gH)"/>
<circle cx="197.5" cy="840.0" r="4.08" fill="url(#gH)"/>
<circle cx="193.0" cy="874.3" r="5.15" fill="url(#gL)"/>
<circle cx="195.0" cy="865.9" r="5.15" fill="url(#gL)"/>
<circle cx="196.9" cy="857.5" r="5.15" fill="url(#gL)"/>
<circle cx="198.8" cy="849.1" r="5.15" fill="url(#gL)"/>
<circle cx="200.8" cy="840.8" r="5.15" fill="url(#gL)"/>
<circle cx="203.0" cy="833.4" r="4.08" fill="url(#gH)"/>
<circle cx="191.8" cy="881.8" r="4.08" fill="url(#gH)"/>
<circle cx="194.2" cy="879.0" r="5.15" fill="url(#gL)"/>
<circle cx="196.1" cy="870.6" r="5.15" fill="url(#gL)"/>
<circle cx="198.0" cy="862.2" r="5.15" fill="url(#gL)"/>
<circle cx="200.0" cy="853.8" r="5.15" fill="url(#gL)"/>
<circle cx="201.9" cy="845.4" r="5.15" fill="url(#gL)"/>
<circle cx="203.8" cy="837.0" r="5.15" fill="url(#gL)"/>
<circle cx="198.4" cy="880.0" r="5.15" fill="url(#gL)"/>
<circle cx="200.3" cy="871.6" r="5.15" fill="url(#gL)"/>
<circle cx="202.2" cy="863.2" r="5.15" fill="url(#gL)"/>
<circle cx="204.2" cy="854.8" r="5.15" fill="url(#gL)"/>
<circle cx="206.1" cy="846.4" r="5.15" fill="url(#gL)"/>
<circle cx="208.0" cy="838.0" r="5.15" fill="url(#gL)"/>
<circle cx="210.4" cy="835.2" r="4.08" fill="url(#gH)"/>
<circle cx="199.2" cy="883.6" r="4.08" fill="url(#gH)"/>
<circle cx="201.4" cy="876.2" r="5.15" fill="url(#gL)"/>
<circle cx="203.4" cy="867.9" r="5.15" fill="url(#gL)"/>
<circle cx="205.3" cy="859.5" r="5.15" fill="url(#gL)"/>
<circle cx="207.2" cy="851.1" r="5.15" fill="url(#gL)"/>
<circle cx="209.2" cy="842.7" r="5.15" fill="url(#gL)"/>
<circle cx="204.7" cy="877.0" r="4.08" fill="url(#gH)"/>
<circle cx="206.6" cy="868.6" r="4.08" fill="url(#gH)"/>
<circle cx="208.5" cy="860.2" r="4.08" fill="url(#gH)"/>
<circle cx="210.5" cy="851.8" r="4.08" fill="url(#gH)"/>
<circle cx="212.4" cy="843.4" r="4.08" fill="url(#gH)"/>
<circle cx="224.7" cy="877.0" r="4.08" fill="url(#gH)"/>
<circle cx="226.6" cy="868.6" r="4.08" fill="url(#gH)"/>
<circle cx="228.5" cy="860.2" r="4.08" fill="url(#gH)"/>
<circle cx="230.5" cy="851.8" r="4.08" fill="url(#gH)"/>
<circle cx="232.4" cy="843.4" r="4.08" fill="url(#gH)"/>
<circle cx="221.4" cy="876.2" r="5.15" fill="url(#gD)"/>
<circle cx="223.4" cy="867.9" r="5.15" fill="url(#gD)"/>
<circle cx="225.3" cy="859.5" r="5.15" fill="url(#gD)"/>
<circle cx="227.2" cy="851.1" r="5.15" fill="url(#gD)"/>
<circle cx="229.2" cy="842.7" r="5.15" fill="url(#gD)"/>
<circle cx="230.4" cy="835.2" r="4.08" fill="url(#gH)"/>
<circle cx="219.2" cy="883.6" r="4.08" fill="url(#gH)"/>
<circle cx="218.4" cy="880.0" r="5.15" fill="url(#gD)"/>
<circle cx="220.3" cy="871.6" r="5.15" fill="url(#gD)"/>
<circle cx="222.2" cy="863.2" r="5.15" fill="url(#gD)"/>
<circle cx="224.2" cy="854.8" r="5.15" fill="url(#gD)"/>
<circle cx="226.1" cy="846.4" r="5.15" fill="url(#gD)"/>
<circle cx="228.0" cy="838.0" r="5.15" fill="url(#gD)"/>
<circle cx="214.2" cy="879.0" r="5.15" fill="url(#gD)"/>
<circle cx="216.1" cy="870.6" r="5.15" fill="url(#gD)"/>
<circle cx="218.0" cy="862.2" r="5.15" fill="url(#gD)"/>
<circle cx="220.0" cy="853.8" r="5.15" fill="url(#gD)"/>
<circle cx="221.9" cy="845.4" r="5.15" fill="url(#gD)"/>
<circle cx="223.8" cy="837.0" r="5.15" fill="url(#gD)"/>
<circle cx="223.0" cy="833.4" r="4.08" fill="url(#gH)"/>
<circle cx="211.8" cy="881.8" r="4.08" fill="url(#gH)"/>
<circle cx="213.0" cy="874.3" r="5.15" fill="url(#gD)"/>
<circle cx="215.0" cy="865.9" r="5.15" fill="url(#gD)"/>
<circle cx="216.9" cy="857.5" r="5.15" fill="url(#gD)"/>
<circle cx="218.8" cy="849.1" r="5.15" fill="url(#gD)"/>
<circle cx="220.8" cy="840.8" r="5.15" fill="url(#gD)"/>
<circle cx="209.8" cy="873.6" r="4.08" fill="url(#gH)"/>
<circle cx="211.7" cy="865.2" r="4.08" fill="url(#gH)"/>
<circle cx="213.7" cy="856.8" r="4.08" fill="url(#gH)"/>
<circle cx="215.6" cy="848.4" r="4.08" fill="url(#gH)"/>
<circle cx="217.5" cy="840.0" r="4.08" fill="url(#gH)"/>
<circle cx="228.8" cy="873.6" r="4.08" fill="url(#gH)"/>
<circle cx="230.7" cy="865.2" r="4.08" fill="url(#gH)"/>
<circle cx="232.7" cy="856.8" r="4.08" fill="url(#gH)"/>
<circle cx="234.6" cy="848.4" r="4.08" fill="url(#gH)"/>
<circle cx="236.5" cy="840.0" r="4.08" fill="url(#gH)"/>
<circle cx="232.0" cy="874.3" r="5.15" fill="url(#gL)"/>
<circle cx="234.0" cy="865.9" r="5.15" fill="url(#gL)"/>
<circle cx="235.9" cy="857.5" r="5.15" fill="url(#gL)"/>
<circle cx="237.8" cy="849.1" r="5.15" fill="url(#gL)"/>
<circle cx="239.8" cy="840.8" r="5.15" fill="url(#gL)"/>
<circle cx="242.0" cy="833.4" r="4.08" fill="url(#gH)"/>
<circle cx="230.8" cy="881.8" r="4.08" fill="url(#gH)"/>
<circle cx="233.2" cy="879.0" r="5.15" fill="url(#gL)"/>
<circle cx="235.1" cy="870.6" r="5.15" fill="url(#gL)"/>
<circle cx="237.0" cy="862.2" r="5.15" fill="url(#gL)"/>
<circle cx="239.0" cy="853.8" r="5.15" fill="url(#gL)"/>
<circle cx="240.9" cy="845.4" r="5.15" fill="url(#gL)"/>
<circle cx="242.8" cy="837.0" r="5.15" fill="url(#gL)"/>
<circle cx="237.4" cy="880.0" r="5.15" fill="url(#gL)"/>
<circle cx="239.3" cy="871.6" r="5.15" fill="url(#gL)"/>
<circle cx="241.2" cy="863.2" r="5.15" fill="url(#gL)"/>
<circle cx="243.2" cy="854.8" r="5.15" fill="url(#gL)"/>
<circle cx="245.1" cy="846.4" r="5.15" fill="url(#gL)"/>
<circle cx="247.0" cy="838.0" r="5.15" fill="url(#gL)"/>
<circle cx="249.4" cy="835.2" r="4.08" fill="url(#gH)"/>
<circle cx="238.2" cy="883.6" r="4.08" fill="url(#gH)"/>
<circle cx="240.4" cy="876.2" r="5.15" fill="url(#gL)"/>
<circle cx="242.4" cy="867.9" r="5.15" fill="url(#gL)"/>
<circle cx="244.3" cy="859.5" r="5.15" fill="url(#gL)"/>
<circle cx="246.2" cy="851.1" r="5.15" fill="url(#gL)"/>
<circle cx="248.2" cy="842.7" r="5.15" fill="url(#gL)"/>
<circle cx="243.7" cy="877.0" r="4.08" fill="url(#gH)"/>
<circle cx="245.6" cy="868.6" r="4.08" fill="url(#gH)"/>
<circle cx="247.5" cy="860.2" r="4.08" fill="url(#gH)"/>
<circle cx="249.5" cy="851.8" r="4.08" fill="url(#gH)"/>
<circle cx="251.4" cy="843.4" r="4.08" fill="url(#gH)"/>
<circle cx="264.4" cy="877.0" r="4.08" fill="url(#gH)"/>
<circle cx="266.3" cy="868.6" r="4.08" fill="url(#gH)"/>
<circle cx="268.2" cy="860.2" r="4.08" fill="url(#gH)"/>
<circle cx="270.2" cy="851.8" r="4.08" fill="url(#gH)"/>
<circle cx="272.1" cy="843.4" r="4.08" fill="url(#gH)"/>
<circle cx="261.1" cy="876.2" r="5.15" fill="url(#gD)"/>
<circle cx="263.1" cy="867.9" r="5.15" fill="url(#gD)"/>
<circle cx="265.0" cy="859.5" r="5.15" fill="url(#gD)"/>
<circle cx="266.9" cy="851.1" r="5.15" fill="url(#gD)"/>
<circle cx="268.9" cy="842.7" r="5.15" fill="url(#gD)"/>
<circle cx="270.1" cy="835.2" r="4.08" fill="url(#gH)"/>
<circle cx="258.9" cy="883.6" r="4.08" fill="url(#gH)"/>
<circle cx="258.1" cy="880.0" r="5.15" fill="url(#gD)"/>
<circle cx="260.0" cy="871.6" r="5.15" fill="url(#gD)"/>
<circle cx="261.9" cy="863.2" r="5.15" fill="url(#gD)"/>
<circle cx="263.9" cy="854.8" r="5.15" fill="url(#gD)"/>
<circle cx="265.8" cy="846.4" r="5.15" fill="url(#gD)"/>
<circle cx="267.7" cy="838.0" r="5.15" fill="url(#gD)"/>
<circle cx="253.9" cy="879.0" r="5.15" fill="url(#gD)"/>
<circle cx="255.8" cy="870.6" r="5.15" fill="url(#gD)"/>
<circle cx="257.7" cy="862.2" r="5.15" fill="url(#gD)"/>
<circle cx="259.7" cy="853.8" r="5.15" fill="url(#gD)"/>
<circle cx="261.6" cy="845.4" r="5.15" fill="url(#gD)"/>
<circle cx="263.5" cy="837.0" r="5.15" fill="url(#gD)"/>
<circle cx="262.7" cy="833.4" r="4.08" fill="url(#gH)"/>
<circle cx="251.5" cy="881.8" r="4.08" fill="url(#gH)"/>
<circle cx="252.7" cy="874.3" r="5.15" fill="url(#gD)"/>
<circle cx="254.7" cy="865.9" r="5.15" fill="url(#gD)"/>
<circle cx="256.6" cy="857.5" r="5.15" fill="url(#gD)"/>
<circle cx="258.5" cy="849.1" r="5.15" fill="url(#gD)"/>
<circle cx="260.5" cy="840.8" r="5.15" fill="url(#gD)"/>
<circle cx="249.5" cy="873.6" r="4.08" fill="url(#gH)"/>
<circle cx="251.4" cy="865.2" r="4.08" fill="url(#gH)"/>
<circle cx="253.4" cy="856.8" r="4.08" fill="url(#gH)"/>
<circle cx="255.3" cy="848.4" r="4.08" fill="url(#gH)"/>
<circle cx="257.2" cy="840.0" r="4.08" fill="url(#gH)"/>
<circle cx="268.5" cy="873.6" r="4.08" fill="url(#gH)"/>
<circle cx="270.4" cy="865.2" r="4.08" fill="url(#gH)"/>
<circle cx="272.4" cy="856.8" r="4.08" fill="url(#gH)"/>
<circle cx="274.3" cy="848.4" r="4.08" fill="url(#gH)"/>
<circle cx="276.2" cy="840.0" r="4.08" fill="url(#gH)"/>
<circle cx="271.7" cy="874.3" r="5.15" fill="url(#gL)"/>
<circle cx="273.7" cy="865.9" r="5.15" fill="url(#gL)"/>
<circle cx="275.6" cy="857.5" r="5.15" fill="url(#gL)"/>
<circle cx="277.5" cy="849.1" r="5.15" fill="url(#gL)"/>
<circle cx="279.5" cy="840.8" r="5.15" fill="url(#gL)"/>
<circle cx="281.7" cy="833.4" r="4.08" fill="url(#gH)"/>
<circle cx="270.5" cy="881.8" r="4.08" fill="url(#gH)"/>
<circle cx="272.9" cy="879.0" r="5.15" fill="url(#gL)"/>
<circle cx="274.8" cy="870.6" r="5.15" fill="url(#gL)"/>
<circle cx="276.7" cy="862.2" r="5.15" fill="url(#gL)"/>
<circle cx="278.7" cy="853.8" r="5.15" fill="url(#gL)"/>
<circle cx="280.6" cy="845.4" r="5.15" fill="url(#gL)"/>
<circle cx="282.5" cy="837.0" r="5.15" fill="url(#gL)"/>
<circle cx="277.1" cy="880.0" r="5.15" fill="url(#gL)"/>
<circle cx="279.0" cy="871.6" r="5.15" fill="url(#gL)"/>
<circle cx="280.9" cy="863.2" r="5.15" fill="url(#gL)"/>
<circle cx="282.9" cy="854.8" r="5.15" fill="url(#gL)"/>
<circle cx="284.8" cy="846.4" r="5.15" fill="url(#gL)"/>
<circle cx="286.7" cy="838.0" r="5.15" fill="url(#gL)"/>
<circle cx="289.1" cy="835.2" r="4.08" fill="url(#gH)"/>
<circle cx="277.9" cy="883.6" r="4.08" fill="url(#gH)"/>
<circle cx="280.1" cy="876.2" r="5.15" fill="url(#gL)"/>
<circle cx="282.1" cy="867.9" r="5.15" fill="url(#gL)"/>
<circle cx="284.0" cy="859.5" r="5.15" fill="url(#gL)"/>
<circle cx="285.9" cy="851.1" r="5.15" fill="url(#gL)"/>
<circle cx="287.9" cy="842.7" r="5.15" fill="url(#gL)"/>
<circle cx="283.4" cy="877.0" r="4.08" fill="url(#gH)"/>
<circle cx="285.3" cy="868.6" r="4.08" fill="url(#gH)"/>
<circle cx="287.2" cy="860.2" r="4.08" fill="url(#gH)"/>
<circle cx="289.2" cy="851.8" r="4.08" fill="url(#gH)"/>
<circle cx="291.1" cy="843.4" r="4.08" fill="url(#gH)"/>
<circle cx="305.9" cy="877.0" r="4.08" fill="url(#gH)"/>
<circle cx="307.8" cy="868.6" r="4.08" fill="url(#gH)"/>
<circle cx="309.7" cy="860.2" r="4.08" fill="url(#gH)"/>
<circle cx="311.7" cy="851.8" r="4.08" fill="url(#gH)"/>
<circle cx="313.6" cy="843.4" r="4.08" fill="url(#gH)"/>
<circle cx="302.6" cy="876.2" r="5.15" fill="url(#gD)"/>
<circle cx="304.6" cy="867.9" r="5.15" fill="url(#gD)"/>
<circle cx="306.5" cy="859.5" r="5.15" fill="url(#gD)"/>
<circle cx="308.4" cy="851.1" r="5.15" fill="url(#gD)"/>
<circle cx="310.4" cy="842.7" r="5.15" fill="url(#gD)"/>
<circle cx="311.6" cy="835.2" r="4.08" fill="url(#gH)"/>
<circle cx="300.4" cy="883.6" r="4.08" fill="url(#gH)"/>
<circle cx="299.6" cy="880.0" r="5.15" fill="url(#gD)"/>
<circle cx="301.5" cy="871.6" r="5.15" fill="url(#gD)"/>
<circle cx="303.4" cy="863.2" r="5.15" fill="url(#gD)"/>
<circle cx="305.4" cy="854.8" r="5.15" fill="url(#gD)"/>
<circle cx="307.3" cy="846.4" r="5.15" fill="url(#gD)"/>
<circle cx="309.2" cy="838.0" r="5.15" fill="url(#gD)"/>
<circle cx="295.4" cy="879.0" r="5.15" fill="url(#gD)"/>
<circle cx="297.3" cy="870.6" r="5.15" fill="url(#gD)"/>
<circle cx="299.2" cy="862.2" r="5.15" fill="url(#gD)"/>
<circle cx="301.2" cy="853.8" r="5.15" fill="url(#gD)"/>
<circle cx="303.1" cy="845.4" r="5.15" fill="url(#gD)"/>
<circle cx="305.0" cy="837.0" r="5.15" fill="url(#gD)"/>
<circle cx="304.2" cy="833.4" r="4.08" fill="url(#gH)"/>
<circle cx="293.0" cy="881.8" r="4.08" fill="url(#gH)"/>
<circle cx="294.2" cy="874.3" r="5.15" fill="url(#gD)"/>
<circle cx="296.2" cy="865.9" r="5.15" fill="url(#gD)"/>
<circle cx="298.1" cy="857.5" r="5.15" fill="url(#gD)"/>
<circle cx="300.0" cy="849.1" r="5.15" fill="url(#gD)"/>
<circle cx="302.0" cy="840.8" r="5.15" fill="url(#gD)"/>
<circle cx="291.0" cy="873.6" r="4.08" fill="url(#gH)"/>
<circle cx="292.9" cy="865.2" r="4.08" fill="url(#gH)"/>
<circle cx="294.9" cy="856.8" r="4.08" fill="url(#gH)"/>
<circle cx="296.8" cy="848.4" r="4.08" fill="url(#gH)"/>
<circle cx="298.7" cy="840.0" r="4.08" fill="url(#gH)"/>
<circle cx="311.7" cy="873.6" r="4.08" fill="url(#gH)"/>
<circle cx="313.6" cy="865.2" r="4.08" fill="url(#gH)"/>
<circle cx="315.6" cy="856.8" r="4.08" fill="url(#gH)"/>
<circle cx="317.5" cy="848.4" r="4.08" fill="url(#gH)"/>
<circle cx="319.4" cy="840.0" r="4.08" fill="url(#gH)"/>
<circle cx="314.9" cy="874.3" r="5.15" fill="url(#gL)"/>
<circle cx="316.9" cy="865.9" r="5.15" fill="url(#gL)"/>
<circle cx="318.8" cy="857.5" r="5.15" fill="url(#gL)"/>
<circle cx="320.7" cy="849.1" r="5.15" fill="url(#gL)"/>
<circle cx="322.7" cy="840.8" r="5.15" fill="url(#gL)"/>
<circle cx="324.9" cy="833.4" r="4.08" fill="url(#gH)"/>
<circle cx="313.7" cy="881.8" r="4.08" fill="url(#gH)"/>
<circle cx="316.1" cy="879.0" r="5.15" fill="url(#gL)"/>
<circle cx="318.0" cy="870.6" r="5.15" fill="url(#gL)"/>
<circle cx="319.9" cy="862.2" r="5.15" fill="url(#gL)"/>
<circle cx="321.9" cy="853.8" r="5.15" fill="url(#gL)"/>
<circle cx="323.8" cy="845.4" r="5.15" fill="url(#gL)"/>
<circle cx="325.7" cy="837.0" r="5.15" fill="url(#gL)"/>
<circle cx="320.3" cy="880.0" r="5.15" fill="url(#gL)"/>
<circle cx="322.2" cy="871.6" r="5.15" fill="url(#gL)"/>
<circle cx="324.1" cy="863.2" r="5.15" fill="url(#gL)"/>
<circle cx="326.1" cy="854.8" r="5.15" fill="url(#gL)"/>
<circle cx="328.0" cy="846.4" r="5.15" fill="url(#gL)"/>
<circle cx="329.9" cy="838.0" r="5.15" fill="url(#gL)"/>
<circle cx="332.3" cy="835.2" r="4.08" fill="url(#gH)"/>
<circle cx="321.1" cy="883.6" r="4.08" fill="url(#gH)"/>
<circle cx="323.3" cy="876.2" r="5.15" fill="url(#gL)"/>
<circle cx="325.3" cy="867.9" r="5.15" fill="url(#gL)"/>
<circle cx="327.2" cy="859.5" r="5.15" fill="url(#gL)"/>
<circle cx="329.1" cy="851.1" r="5.15" fill="url(#gL)"/>
<circle cx="331.1" cy="842.7" r="5.15" fill="url(#gL)"/>
<circle cx="326.6" cy="877.0" r="4.08" fill="url(#gH)"/>
<circle cx="328.5" cy="868.6" r="4.08" fill="url(#gH)"/>
<circle cx="330.4" cy="860.2" r="4.08" fill="url(#gH)"/>
<circle cx="332.4" cy="851.8" r="4.08" fill="url(#gH)"/>
<circle cx="334.3" cy="843.4" r="4.08" fill="url(#gH)"/>
<ellipse cx="130.9" cy="768.1" rx="6.3" ry="6.6" fill="#fff" stroke="#f04a28" stroke-width="2.2" filter="url(#blur1)"/>
<ellipse cx="281.7" cy="667" rx="6.2" ry="6.2" fill="#fff" stroke="#f04a28" stroke-width="2.2" filter="url(#blur1)"/>
<path d="M70.00,686.20 C70.03,686.32 69.45,685.05 70.20,686.90 C70.95,688.75 73.07,694.13 74.50,697.30 C75.93,700.47 77.37,703.02 78.80,705.90 C80.23,708.78 81.52,711.72 83.10,714.60 C84.68,717.48 86.42,720.33 88.30,723.20 C90.18,726.07 92.23,728.92 94.40,731.80 C96.57,734.68 98.72,737.62 101.30,740.50 C103.88,743.38 107.08,746.52 109.90,749.10 C112.72,751.68 116.13,754.27 118.20,756.00 C120.27,757.73 121.20,758.63 122.30,759.50 C123.40,760.37 123.30,760.75 124.80,761.20 C126.30,761.65 129.13,762.20 131.30,762.20 C133.47,762.20 136.25,761.65 137.80,761.20 C139.35,760.75 139.37,760.37 140.60,759.50 C141.83,758.63 142.62,757.73 145.20,756.00 C147.78,754.27 152.98,751.68 156.10,749.10 C159.22,746.52 161.53,743.38 163.90,740.50 C166.27,737.62 168.43,734.68 170.30,731.80 C172.17,728.92 173.72,726.07 175.10,723.20 C176.48,720.33 177.45,717.48 178.60,714.60 C179.75,711.72 180.70,708.78 182.00,705.90 C183.30,703.02 184.90,700.47 186.40,697.30 C187.90,694.13 190.23,688.75 191.00,686.90 C191.77,685.05 191.00,686.32 191.00,686.20 Z" fill="url(#tipBody)"/>
<path d="M70.00,686.20 C70.03,686.32 69.45,685.05 70.20,686.90 C70.95,688.75 73.07,694.13 74.50,697.30 C75.93,700.47 77.37,703.02 78.80,705.90 C80.23,708.78 81.52,711.72 83.10,714.60 C84.68,717.48 86.42,720.33 88.30,723.20 C90.18,726.07 92.23,728.92 94.40,731.80 C96.57,734.68 98.72,737.62 101.30,740.50 C103.88,743.38 107.08,746.52 109.90,749.10 C112.72,751.68 116.13,754.27 118.20,756.00 C120.27,757.73 121.20,758.63 122.30,759.50 C123.40,760.37 123.30,760.75 124.80,761.20 C126.30,761.65 129.13,762.20 131.30,762.20 C133.47,762.20 136.25,761.65 137.80,761.20 C139.35,760.75 139.37,760.37 140.60,759.50 C141.83,758.63 142.62,757.73 145.20,756.00 C147.78,754.27 152.98,751.68 156.10,749.10 C159.22,746.52 161.53,743.38 163.90,740.50 C166.27,737.62 168.43,734.68 170.30,731.80 C172.17,728.92 173.72,726.07 175.10,723.20 C176.48,720.33 177.45,717.48 178.60,714.60 C179.75,711.72 180.70,708.78 182.00,705.90 C183.30,703.02 184.90,700.47 186.40,697.30 C187.90,694.13 190.23,688.75 191.00,686.90 C191.77,685.05 191.00,686.32 191.00,686.20 Z" fill="url(#tipV)"/>
<ellipse cx="130.4" cy="686.2" rx="60.6" ry="4.9" fill="url(#tipTop)"/>
<path d="M220.40,584.60 C220.43,584.72 219.92,583.97 220.60,585.30 C221.28,586.63 223.20,590.15 224.50,592.60 C225.80,595.05 226.65,596.40 228.40,600.00 C230.15,603.60 232.02,609.47 235.00,614.20 C237.98,618.93 242.28,623.67 246.30,628.40 C250.32,633.13 255.23,638.33 259.10,642.60 C262.97,646.87 267.10,651.50 269.50,654.00 C271.90,656.50 272.53,656.67 273.50,657.60 C274.47,658.53 273.92,659.10 275.30,659.60 C276.68,660.10 279.63,660.60 281.80,660.60 C283.97,660.60 286.93,660.10 288.30,659.60 C289.67,659.10 289.25,658.53 290.00,657.60 C290.75,656.67 290.38,656.50 292.80,654.00 C295.22,651.50 300.17,646.87 304.50,642.60 C308.83,638.33 314.53,633.13 318.80,628.40 C323.07,623.67 327.27,618.93 330.10,614.20 C332.93,609.47 334.35,603.60 335.80,600.00 C337.25,596.40 337.87,595.05 338.80,592.60 C339.73,590.15 340.93,586.63 341.40,585.30 C341.87,583.97 341.57,584.72 341.60,584.60 Z" fill="url(#tipBody)"/>
<path d="M220.40,584.60 C220.43,584.72 219.92,583.97 220.60,585.30 C221.28,586.63 223.20,590.15 224.50,592.60 C225.80,595.05 226.65,596.40 228.40,600.00 C230.15,603.60 232.02,609.47 235.00,614.20 C237.98,618.93 242.28,623.67 246.30,628.40 C250.32,633.13 255.23,638.33 259.10,642.60 C262.97,646.87 267.10,651.50 269.50,654.00 C271.90,656.50 272.53,656.67 273.50,657.60 C274.47,658.53 273.92,659.10 275.30,659.60 C276.68,660.10 279.63,660.60 281.80,660.60 C283.97,660.60 286.93,660.10 288.30,659.60 C289.67,659.10 289.25,658.53 290.00,657.60 C290.75,656.67 290.38,656.50 292.80,654.00 C295.22,651.50 300.17,646.87 304.50,642.60 C308.83,638.33 314.53,633.13 318.80,628.40 C323.07,623.67 327.27,618.93 330.10,614.20 C332.93,609.47 334.35,603.60 335.80,600.00 C337.25,596.40 337.87,595.05 338.80,592.60 C339.73,590.15 340.93,586.63 341.40,585.30 C341.87,583.97 341.57,584.72 341.60,584.60 Z" fill="url(#tipV)"/>
<ellipse cx="281.0" cy="584.6" rx="60.6" ry="4.9" fill="url(#tipTop)"/>
<polygon points="130.8,724.7 122.0,739.2 129.2,736.7 129.2,747.5 122.0,745.0 130.8,759.5 139.6,745.0 132.4,747.5 132.4,736.7 139.6,739.2" fill="#f01a1a"/>
<polygon points="281.5,623.1 272.7,637.6 279.9,635.1 279.9,645.9 272.7,643.4 281.5,657.9 290.3,643.4 283.1,645.9 283.1,635.1 290.3,637.6" fill="#f01a1a"/>
<polygon points="107.1,790.1 114.7,803.0 115.4,796.8 130.8,805.5 125.8,809.2 140.8,809.1 133.2,796.2 132.5,802.4 117.1,793.7 122.1,790.0" fill="#f58a1e"/>
<polygon points="276.8,668.4 272.9,683.4 277.8,679.5 282.2,696.2 276.0,695.2 286.7,706.4 290.6,691.4 285.7,695.3 281.3,678.6 287.5,679.6" fill="#f58a1e"/>
<line x1="85.8" y1="822.5" x2="85.8" y2="762" stroke="#000" stroke-width="2"/>
<polygon points="85.8,754.6 80.9,766.1 85.8,763.9 90.7,766.1" fill="#000"/>
<text transform="translate(88.23,12.35) scale(1.0658,0.9500)" style="font-family:'Liberation Sans',Arial,sans-serif;font-size:14px" fill="#000" stroke="#000" stroke-width="0.35">Photon energy (eV)</text>
<text transform="translate(33.80,36.00) scale(1.0231,1.0300)" style="font-family:'Liberation Sans',Arial,sans-serif;font-size:14px" fill="#000" stroke="#000" stroke-width="0.35">1.90</text>
<text transform="translate(70.52,36.00) scale(1.0231,1.0300)" style="font-family:'Liberation Sans',Arial,sans-serif;font-size:14px" fill="#000" stroke="#000" stroke-width="0.35">1.85</text>
<text transform="translate(107.24,36.00) scale(1.0231,1.0300)" style="font-family:'Liberation Sans',Arial,sans-serif;font-size:14px" fill="#000" stroke="#000" stroke-width="0.35">1.80</text>
<text transform="translate(143.96,36.00) scale(1.0231,1.0300)" style="font-family:'Liberation Sans',Arial,sans-serif;font-size:14px" fill="#000" stroke="#000" stroke-width="0.35">1.75</text>
<text transform="translate(180.67,36.00) scale(1.0231,1.0300)" style="font-family:'Liberation Sans',Arial,sans-serif;font-size:14px" fill="#000" stroke="#000" stroke-width="0.35">1.70</text>
<text transform="translate(217.39,36.00) scale(1.0231,1.0300)" style="font-family:'Liberation Sans',Arial,sans-serif;font-size:14px" fill="#000" stroke="#000" stroke-width="0.35">1.65</text>
<text transform="translate(254.11,36.00) scale(1.0231,1.0300)" style="font-family:'Liberation Sans',Arial,sans-serif;font-size:14px" fill="#000" stroke="#000" stroke-width="0.35">1.60</text>
<text transform="translate(34.33,540.60) scale(1.0227,0.9700)" style="font-family:'Liberation Sans',Arial,sans-serif;font-size:14px" fill="#000" stroke="#000" stroke-width="0.35">500</text>
<text transform="translate(76.23,540.60) scale(0.9933,0.9700)" style="font-family:'Liberation Sans',Arial,sans-serif;font-size:14px" fill="#000" stroke="#000" stroke-width="0.35">1000</text>
<text transform="translate(121.76,540.60) scale(0.9933,0.9700)" style="font-family:'Liberation Sans',Arial,sans-serif;font-size:14px" fill="#000" stroke="#000" stroke-width="0.35">1500</text>
<text transform="translate(168.28,540.60) scale(0.9613,0.9700)" style="font-family:'Liberation Sans',Arial,sans-serif;font-size:14px" fill="#000" stroke="#000" stroke-width="0.35">2000</text>
<text transform="translate(213.80,540.60) scale(0.9613,0.9700)" style="font-family:'Liberation Sans',Arial,sans-serif;font-size:14px" fill="#000" stroke="#000" stroke-width="0.35">2500</text>
<text transform="translate(259.33,540.60) scale(0.9613,0.9700)" style="font-family:'Liberation Sans',Arial,sans-serif;font-size:14px" fill="#000" stroke="#000" stroke-width="0.35">3000</text>
<text transform="translate(84.19,562.26) scale(1.0132,1.1133)" style="font-family:'Liberation Sans',Arial,sans-serif;font-size:15px" fill="#000" stroke="#000" stroke-width="0.35">Raman shift (cm<tspan dy="-0.62em" style="font-size:0.6em">-1</tspan><tspan dy="0.37em">)</tspan></text>
<text transform="translate(13.26,317.93) rotate(-90) scale(1.0322,1.0464)" style="font-family:'Liberation Sans',Arial,sans-serif;font-size:14px" fill="#000" stroke="#000" stroke-width="0.35">Intensity (a.u.)</text>
<text transform="translate(239.59,73.04) scale(1.1143,1.0412)" style="font-family:'Liberation Sans',Arial,sans-serif;font-size:19px" fill="#000" stroke="#000" stroke-width="0.12">(a)</text>
<text transform="translate(174.00,105.94) scale(1.0090,1.0867)" style="font-family:'Liberation Sans',Arial,sans-serif;font-size:17px" fill="#000" stroke="#000" stroke-width="0.35">Aggregate</text>
<text transform="translate(239.30,314.42) scale(1.1000,1.0706)" style="font-family:'Liberation Sans',Arial,sans-serif;font-size:19px" fill="#000" stroke="#000" stroke-width="0.12">(b)</text>
<text transform="translate(199.50,340.80) scale(0.9946,1.1000)" style="font-family:'Liberation Sans',Arial,sans-serif;font-size:17px" fill="#000" stroke="#000" stroke-width="0.35">Terrace</text>
<text transform="translate(134.27,270.60) scale(0.9294,1.1500)" style="font-family:'Liberation Sans',Arial,sans-serif;font-size:15px" fill="#000" stroke="#000" stroke-width="0.35">1.75 eV</text>
<text transform="translate(142.27,478.50) scale(0.9294,1.1400)" style="font-family:'Liberation Sans',Arial,sans-serif;font-size:15px" fill="#000" stroke="#000" stroke-width="0.35">1.74 eV</text>
<text transform="translate(374.35,137.52) scale(1.0476,1.0947)" style="font-family:'Liberation Sans',Arial,sans-serif;font-size:20px" fill="#000" stroke="#000" stroke-width="0.12">(c)</text>
<text transform="translate(373.09,375.43) scale(1.0136,1.0684)" style="font-family:'Liberation Sans',Arial,sans-serif;font-size:20px" fill="#000" stroke="#000" stroke-width="0.12">(d)</text>
<text transform="translate(323.50,209.70) scale(0.9379,1.1700)" style="font-family:'Liberation Sans',Arial,sans-serif;font-size:15px" fill="#000" stroke="#000" stroke-width="0.35">0.15</text>
<text transform="translate(323.70,439.90) scale(0.9345,1.1300)" style="font-family:'Liberation Sans',Arial,sans-serif;font-size:15px" fill="#000" stroke="#000" stroke-width="0.35">0.69</text>
<text transform="translate(282.90,135.53) scale(1.0000,1.2667)" style="font-family:'Liberation Serif','Times New Roman',serif;font-size:17px" fill="#000" stroke="#000" stroke-width="0.35">&#957;<tspan dy="0.38em" style="font-size:0.62em">0</tspan></text>
<text transform="translate(282.90,371.70) scale(1.0000,1.2250)" style="font-family:'Liberation Serif','Times New Roman',serif;font-size:17px" fill="#000" stroke="#000" stroke-width="0.35">&#957;<tspan dy="0.38em" style="font-size:0.62em">0</tspan></text>
<text transform="translate(369.70,207.57) scale(0.9833,1.3333)" style="font-family:'Liberation Serif','Times New Roman',serif;font-size:17px" fill="#000" stroke="#000" stroke-width="0.35">&#957;<tspan dy="0.38em" style="font-size:0.62em">1</tspan></text>
<text transform="translate(365.80,403.90) scale(0.8917,1.2500)" style="font-family:'Liberation Serif','Times New Roman',serif;font-size:17px" fill="#000" stroke="#000" stroke-width="0.35">&#957;<tspan dy="0.38em" style="font-size:0.62em">1</tspan></text>
<text transform="translate(312.54,169.86) scale(1.0592,1.0588)" style="font-family:'Liberation Serif','Times New Roman',serif;font-size:17px" fill="#000" stroke="#000" stroke-width="0.35">I &#957;<tspan dy="0.36em" style="font-size:0.62em">1</tspan><tspan dy="-0.36em">/I &#957;</tspan><tspan dy="0.36em" style="font-size:0.62em">0</tspan></text>
<text transform="translate(280.76,260.40) scale(1.0435,0.9750)" style="font-family:'Liberation Sans',Arial,sans-serif;font-size:11px" fill="#000" stroke="#000" stroke-width="0.35">1300</text>
<text transform="translate(281.30,499.80) scale(1.0000,1.0375)" style="font-family:'Liberation Sans',Arial,sans-serif;font-size:11px" fill="#000" stroke="#000" stroke-width="0.35">1300</text>
<text transform="translate(312.06,260.40) scale(1.0435,0.9750)" style="font-family:'Liberation Sans',Arial,sans-serif;font-size:11px" fill="#000" stroke="#000" stroke-width="0.35">1400</text>
<text transform="translate(312.60,499.80) scale(1.0000,1.0375)" style="font-family:'Liberation Sans',Arial,sans-serif;font-size:11px" fill="#000" stroke="#000" stroke-width="0.35">1400</text>
<text transform="translate(343.36,260.40) scale(1.0435,0.9750)" style="font-family:'Liberation Sans',Arial,sans-serif;font-size:11px" fill="#000" stroke="#000" stroke-width="0.35">1500</text>
<text transform="translate(343.90,499.80) scale(1.0000,1.0375)" style="font-family:'Liberation Sans',Arial,sans-serif;font-size:11px" fill="#000" stroke="#000" stroke-width="0.35">1500</text>
<text transform="translate(374.66,260.40) scale(1.0435,0.9750)" style="font-family:'Liberation Sans',Arial,sans-serif;font-size:11px" fill="#000" stroke="#000" stroke-width="0.35">1600</text>
<text transform="translate(375.20,499.80) scale(1.0000,1.0375)" style="font-family:'Liberation Sans',Arial,sans-serif;font-size:11px" fill="#000" stroke="#000" stroke-width="0.35">1600</text>
<text transform="translate(293.81,277.93) scale(0.9875,1.0250)" style="font-family:'Liberation Sans',Arial,sans-serif;font-size:12px" fill="#000" stroke="#000" stroke-width="0.35">Raman shift (cm<tspan dy="-0.62em" style="font-size:0.6em">-1</tspan><tspan dy="0.37em">)</tspan></text>
<text transform="translate(294.42,514.48) scale(0.9781,1.0417)" style="font-family:'Liberation Sans',Arial,sans-serif;font-size:12px" fill="#000" stroke="#000" stroke-width="0.35">Raman shift (cm<tspan dy="-0.62em" style="font-size:0.6em">-1</tspan><tspan dy="0.37em">)</tspan></text>
<text transform="translate(80.85,609.24) scale(1.0545,1.0895)" style="font-family:'Liberation Sans',Arial,sans-serif;font-size:20px" fill="#000" stroke="#000" stroke-width="0.12">(e)</text>
<text transform="translate(160.00,671.24) scale(1.0207,1.0647)" style="font-family:'Liberation Sans',Arial,sans-serif;font-size:19px" fill="#000" stroke="#000" stroke-width="0.35">Aggregate</text>
<text transform="translate(115.90,713.21) scale(1.0375,1.0471)" style="font-family:'Liberation Sans',Arial,sans-serif;font-size:18px" fill="#000" stroke="#000" stroke-width="0.35">Tip</text>
<text transform="translate(266.10,612.66) scale(1.0542,1.0588)" style="font-family:'Liberation Sans',Arial,sans-serif;font-size:18px" fill="#000" stroke="#000" stroke-width="0.35">Tip</text>
<text transform="translate(73.05,748.60) scale(1.1500,0.9273)" style="font-family:'Liberation Sans',Arial,sans-serif;font-size:20px" fill="#000" stroke="#000" stroke-width="0.35">z</text>
<text transform="translate(185.00,910.50) scale(1.0644,0.9308)" style="font-family:'Liberation Sans',Arial,sans-serif;font-size:18px" fill="#000" stroke="#000" stroke-width="0.35">Terrace</text>
</svg></body></html>
